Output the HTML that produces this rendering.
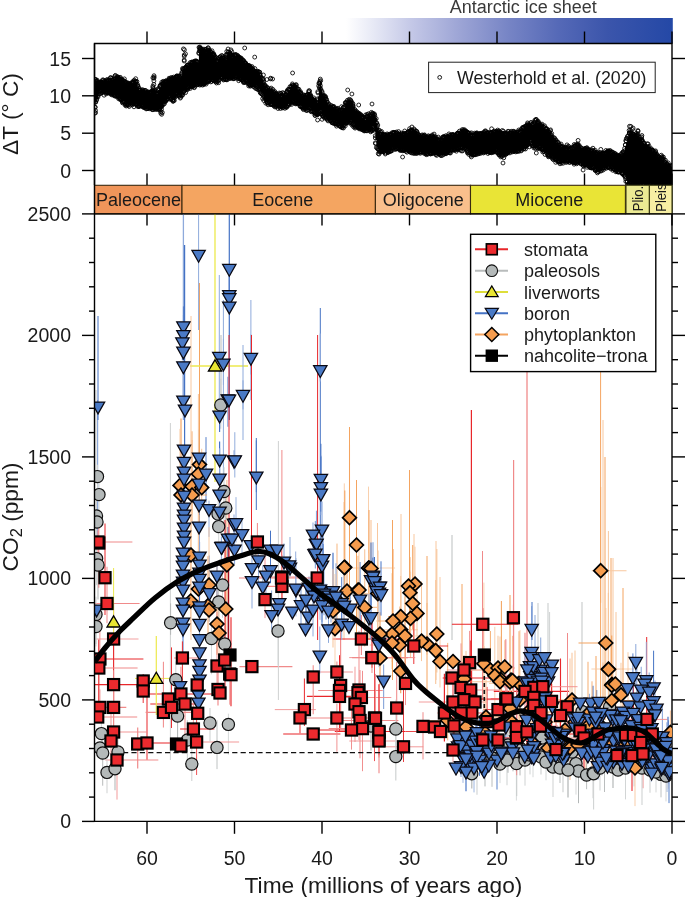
<!DOCTYPE html>
<html><head><meta charset="utf-8"><title>CO2 and temperature over the Cenozoic</title>
<style>html,body{margin:0;padding:0;background:#fff}svg{display:block}</style></head>
<body>
<svg width="685" height="897" viewBox="0 0 685 897" font-family="Liberation Sans, Arial, sans-serif">
<defs><linearGradient id="ice" x1="0" x2="1" y1="0" y2="0"><stop offset="0" stop-color="#ffffff"/><stop offset="0.08" stop-color="#e8eaf6"/><stop offset="0.2" stop-color="#c4c8e7"/><stop offset="0.35" stop-color="#9ca4d5"/><stop offset="0.5" stop-color="#7684c5"/><stop offset="0.65" stop-color="#5569b7"/><stop offset="0.8" stop-color="#3b55ab"/><stop offset="1" stop-color="#2448a6"/></linearGradient><clipPath id="cm"><rect x="94.5" y="213.9" width="577.5" height="607.5"/></clipPath><clipPath id="ct"><rect x="94.5" y="43.5" width="577.5" height="141.5"/></clipPath><clipPath id="cp"><rect x="649.4" y="185" width="22.6" height="28"/></clipPath></defs>
<rect width="685" height="897" fill="#fff"/>
<rect x="346" y="18" width="326.8" height="25.5" fill="url(#ice)"/>
<text x="523.3" y="12.7" font-size="18" text-anchor="middle" fill="#3a3a3a">Antarctic ice sheet</text>
<g clip-path="url(#ct)">
<polygon fill="#000" points="94.5,81.2 95.7,81.2 95.7,81.0 96.9,81.0 96.9,81.5 98.1,81.5 98.1,81.1 99.3,81.1 99.3,81.4 100.5,81.4 100.5,81.3 101.7,81.3 101.7,82.0 102.9,82.0 102.9,81.1 104.1,81.1 104.1,82.2 105.3,82.2 105.3,81.9 106.5,81.9 106.5,82.7 107.7,82.7 107.7,82.3 108.9,82.3 108.9,80.4 110.1,80.4 110.1,80.7 111.3,80.7 111.3,79.8 112.5,79.8 112.5,80.1 113.7,80.1 113.7,79.1 114.9,79.1 114.9,77.2 116.1,77.2 116.1,78.0 117.3,78.0 117.3,77.4 118.5,77.4 118.5,78.2 119.7,78.2 119.7,79.6 120.9,79.6 120.9,78.8 122.1,78.8 122.1,80.3 123.3,80.3 123.3,81.8 124.5,81.8 124.5,83.4 125.7,83.4 125.7,83.1 126.9,83.1 126.9,83.2 128.1,83.2 128.1,83.1 129.3,83.1 129.3,85.0 130.5,85.0 130.5,85.4 131.7,85.4 131.7,84.3 132.9,84.3 132.9,82.8 134.1,82.8 134.1,82.3 135.3,82.3 135.3,80.2 136.5,80.2 136.5,82.5 137.7,82.5 137.7,87.2 138.9,87.2 138.9,90.9 140.1,90.9 140.1,91.6 141.3,91.6 141.3,90.6 142.5,90.6 142.5,90.7 143.7,90.7 143.7,90.3 144.9,90.3 144.9,90.9 146.1,90.9 146.1,92.1 147.3,92.1 147.3,91.9 148.5,91.9 148.5,93.6 149.7,93.6 149.7,93.5 150.9,93.5 150.9,91.5 152.1,91.5 152.1,91.1 153.3,91.1 153.3,91.8 154.5,91.8 154.5,90.6 155.7,90.6 155.7,91.7 156.9,91.7 156.9,93.5 158.1,93.5 158.1,90.1 159.3,90.1 159.3,88.0 160.5,88.0 160.5,86.4 161.7,86.4 161.7,84.0 162.9,84.0 162.9,83.4 164.1,83.4 164.1,83.1 165.3,83.1 165.3,82.4 166.5,82.4 166.5,80.8 167.7,80.8 167.7,79.7 168.9,79.7 168.9,79.2 170.1,79.2 170.1,79.0 171.3,79.0 171.3,78.7 172.5,78.7 172.5,77.3 173.7,77.3 173.7,76.9 174.9,76.9 174.9,76.1 176.1,76.1 176.1,76.9 177.3,76.9 177.3,76.2 178.5,76.2 178.5,76.7 179.7,76.7 179.7,78.1 180.9,78.1 180.9,76.0 182.1,76.0 182.1,71.1 183.3,71.1 183.3,68.9 184.5,68.9 184.5,68.5 185.7,68.5 185.7,65.7 186.9,65.7 186.9,66.3 188.1,66.3 188.1,65.7 189.3,65.7 189.3,64.9 190.5,64.9 190.5,64.9 191.7,64.9 191.7,62.6 192.9,62.6 192.9,62.0 194.1,62.0 194.1,62.6 195.3,62.6 195.3,61.8 196.5,61.8 196.5,62.6 197.7,62.6 197.7,62.4 198.9,62.4 198.9,51.8 200.1,51.8 200.1,48.4 201.3,48.4 201.3,49.5 202.5,49.5 202.5,49.5 203.7,49.5 203.7,50.8 204.9,50.8 204.9,52.5 206.1,52.5 206.1,52.4 207.3,52.4 207.3,52.5 208.5,52.5 208.5,50.7 209.7,50.7 209.7,51.0 210.9,51.0 210.9,53.1 212.1,53.1 212.1,54.8 213.3,54.8 213.3,55.5 214.5,55.5 214.5,56.1 215.7,56.1 215.7,60.5 216.9,60.5 216.9,62.0 218.1,62.0 218.1,59.2 219.3,59.2 219.3,58.1 220.5,58.1 220.5,58.4 221.7,58.4 221.7,57.3 222.9,57.3 222.9,58.4 224.1,58.4 224.1,57.3 225.3,57.3 225.3,59.5 226.5,59.5 226.5,54.5 227.7,54.5 227.7,52.6 228.9,52.6 228.9,53.0 230.1,53.0 230.1,54.4 231.3,54.4 231.3,58.3 232.5,58.3 232.5,56.8 233.7,56.8 233.7,56.2 234.9,56.2 234.9,56.7 236.1,56.7 236.1,55.2 237.3,55.2 237.3,55.8 238.5,55.8 238.5,56.5 239.7,56.5 239.7,56.8 240.9,56.8 240.9,57.9 242.1,57.9 242.1,59.6 243.3,59.6 243.3,60.8 244.5,60.8 244.5,62.6 245.7,62.6 245.7,64.3 246.9,64.3 246.9,65.0 248.1,65.0 248.1,64.8 249.3,64.8 249.3,66.0 250.5,66.0 250.5,68.1 251.7,68.1 251.7,68.4 252.9,68.4 252.9,70.1 254.1,70.1 254.1,70.3 255.3,70.3 255.3,71.4 256.5,71.4 256.5,73.1 257.7,73.1 257.7,73.0 258.9,73.0 258.9,74.3 260.1,74.3 260.1,75.5 261.3,75.5 261.3,77.4 262.5,77.4 262.5,80.0 263.7,80.0 263.7,83.8 264.9,83.8 264.9,87.0 266.1,87.0 266.1,88.7 267.3,88.7 267.3,89.0 268.5,89.0 268.5,90.8 269.7,90.8 269.7,89.9 270.9,89.9 270.9,90.4 272.1,90.4 272.1,91.0 273.3,91.0 273.3,93.3 274.5,93.3 274.5,92.4 275.7,92.4 275.7,94.2 276.9,94.2 276.9,95.4 278.1,95.4 278.1,94.4 279.3,94.4 279.3,95.4 280.5,95.4 280.5,97.3 281.7,97.3 281.7,94.9 282.9,94.9 282.9,95.3 284.1,95.3 284.1,94.1 285.3,94.1 285.3,94.9 286.5,94.9 286.5,93.9 287.7,93.9 287.7,90.9 288.9,90.9 288.9,90.7 290.1,90.7 290.1,87.7 291.3,87.7 291.3,87.8 292.5,87.8 292.5,85.2 293.7,85.2 293.7,85.4 294.9,85.4 294.9,86.3 296.1,86.3 296.1,87.1 297.3,87.1 297.3,89.5 298.5,89.5 298.5,89.9 299.7,89.9 299.7,92.9 300.9,92.9 300.9,93.7 302.1,93.7 302.1,95.9 303.3,95.9 303.3,95.3 304.5,95.3 304.5,97.4 305.7,97.4 305.7,96.0 306.9,96.0 306.9,94.0 308.1,94.0 308.1,93.0 309.3,93.0 309.3,92.7 310.5,92.7 310.5,94.4 311.7,94.4 311.7,97.4 312.9,97.4 312.9,98.4 314.1,98.4 314.1,99.0 315.3,99.0 315.3,100.5 316.5,100.5 316.5,102.4 317.7,102.4 317.7,96.3 318.9,96.3 318.9,87.5 320.1,87.5 320.1,81.5 321.3,81.5 321.3,90.6 322.5,90.6 322.5,94.2 323.7,94.2 323.7,96.9 324.9,96.9 324.9,98.6 326.1,98.6 326.1,100.6 327.3,100.6 327.3,103.1 328.5,103.1 328.5,106.6 329.7,106.6 329.7,106.4 330.9,106.4 330.9,107.7 332.1,107.7 332.1,107.4 333.3,107.4 333.3,107.0 334.5,107.0 334.5,107.9 335.7,107.9 335.7,109.1 336.9,109.1 336.9,109.5 338.1,109.5 338.1,111.7 339.3,111.7 339.3,110.3 340.5,110.3 340.5,110.3 341.7,110.3 341.7,110.0 342.9,110.0 342.9,108.4 344.1,108.4 344.1,108.0 345.3,108.0 345.3,104.2 346.5,104.2 346.5,102.8 347.7,102.8 347.7,101.2 348.9,101.2 348.9,101.6 350.1,101.6 350.1,100.1 351.3,100.1 351.3,101.3 352.5,101.3 352.5,104.3 353.7,104.3 353.7,106.9 354.9,106.9 354.9,110.3 356.1,110.3 356.1,112.1 357.3,112.1 357.3,113.7 358.5,113.7 358.5,114.7 359.7,114.7 359.7,114.9 360.9,114.9 360.9,117.3 362.1,117.3 362.1,117.5 363.3,117.5 363.3,116.8 364.5,116.8 364.5,119.8 365.7,119.8 365.7,118.7 366.9,118.7 366.9,116.5 368.1,116.5 368.1,116.6 369.3,116.6 369.3,116.6 370.5,116.6 370.5,115.5 371.7,115.5 371.7,115.1 372.9,115.1 372.9,113.4 374.1,113.4 374.1,114.9 375.3,114.9 375.3,118.1 376.5,118.1 376.5,122.7 377.7,122.7 377.7,127.8 378.9,127.8 378.9,132.3 380.1,132.3 380.1,134.8 381.3,134.8 381.3,134.9 382.5,134.9 382.5,136.1 383.7,136.1 383.7,136.9 384.9,136.9 384.9,135.0 386.1,135.0 386.1,136.3 387.3,136.3 387.3,136.0 388.5,136.0 388.5,135.1 389.7,135.1 389.7,134.8 390.9,134.8 390.9,135.1 392.1,135.1 392.1,134.4 393.3,134.4 393.3,132.8 394.5,132.8 394.5,134.3 395.7,134.3 395.7,134.1 396.9,134.1 396.9,133.2 398.1,133.2 398.1,135.0 399.3,135.0 399.3,135.2 400.5,135.2 400.5,134.9 401.7,134.9 401.7,134.8 402.9,134.8 402.9,135.8 404.1,135.8 404.1,136.0 405.3,136.0 405.3,133.7 406.5,133.7 406.5,134.9 407.7,134.9 407.7,133.1 408.9,133.1 408.9,131.7 410.1,131.7 410.1,130.8 411.3,130.8 411.3,129.7 412.5,129.7 412.5,131.9 413.7,131.9 413.7,131.8 414.9,131.8 414.9,132.1 416.1,132.1 416.1,131.3 417.3,131.3 417.3,133.7 418.5,133.7 418.5,134.4 419.7,134.4 419.7,137.3 420.9,137.3 420.9,136.6 422.1,136.6 422.1,136.4 423.3,136.4 423.3,135.0 424.5,135.0 424.5,136.4 425.7,136.4 425.7,137.3 426.9,137.3 426.9,137.8 428.1,137.8 428.1,137.2 429.3,137.2 429.3,138.9 430.5,138.9 430.5,137.0 431.7,137.0 431.7,136.4 432.9,136.4 432.9,135.5 434.1,135.5 434.1,136.8 435.3,136.8 435.3,137.9 436.5,137.9 436.5,139.7 437.7,139.7 437.7,140.5 438.9,140.5 438.9,141.6 440.1,141.6 440.1,140.8 441.3,140.8 441.3,140.8 442.5,140.8 442.5,139.4 443.7,139.4 443.7,138.6 444.9,138.6 444.9,138.1 446.1,138.1 446.1,136.7 447.3,136.7 447.3,137.9 448.5,137.9 448.5,136.5 449.7,136.5 449.7,135.8 450.9,135.8 450.9,137.2 452.1,137.2 452.1,136.2 453.3,136.2 453.3,135.7 454.5,135.7 454.5,134.5 455.7,134.5 455.7,134.3 456.9,134.3 456.9,134.7 458.1,134.7 458.1,135.3 459.3,135.3 459.3,133.6 460.5,133.6 460.5,132.4 461.7,132.4 461.7,132.2 462.9,132.2 462.9,131.4 464.1,131.4 464.1,131.6 465.3,131.6 465.3,132.1 466.5,132.1 466.5,132.1 467.7,132.1 467.7,132.9 468.9,132.9 468.9,133.0 470.1,133.0 470.1,136.1 471.3,136.1 471.3,135.3 472.5,135.3 472.5,136.0 473.7,136.0 473.7,134.4 474.9,134.4 474.9,134.6 476.1,134.6 476.1,135.7 477.3,135.7 477.3,135.4 478.5,135.4 478.5,133.3 479.7,133.3 479.7,135.3 480.9,135.3 480.9,134.4 482.1,134.4 482.1,133.9 483.3,133.9 483.3,134.8 484.5,134.8 484.5,135.0 485.7,135.0 485.7,132.8 486.9,132.8 486.9,133.7 488.1,133.7 488.1,134.5 489.3,134.5 489.3,133.7 490.5,133.7 490.5,133.0 491.7,133.0 491.7,131.7 492.9,131.7 492.9,131.9 494.1,131.9 494.1,132.6 495.3,132.6 495.3,131.1 496.5,131.1 496.5,132.0 497.7,132.0 497.7,131.0 498.9,131.0 498.9,132.4 500.1,132.4 500.1,132.6 501.3,132.6 501.3,133.5 502.5,133.5 502.5,133.0 503.7,133.0 503.7,134.8 504.9,134.8 504.9,134.8 506.1,134.8 506.1,133.3 507.3,133.3 507.3,134.9 508.5,134.9 508.5,133.2 509.7,133.2 509.7,133.5 510.9,133.5 510.9,133.2 512.1,133.2 512.1,133.7 513.3,133.7 513.3,132.6 514.5,132.6 514.5,132.9 515.7,132.9 515.7,133.7 516.9,133.7 516.9,134.0 518.1,134.0 518.1,132.8 519.3,132.8 519.3,133.1 520.5,133.1 520.5,132.0 521.7,132.0 521.7,129.7 522.9,129.7 522.9,128.7 524.1,128.7 524.1,128.0 525.3,128.0 525.3,126.2 526.5,126.2 526.5,126.1 527.7,126.1 527.7,123.8 528.9,123.8 528.9,124.5 530.1,124.5 530.1,124.7 531.3,124.7 531.3,124.2 532.5,124.2 532.5,125.8 533.7,125.8 533.7,124.6 534.9,124.6 534.9,122.7 536.1,122.7 536.1,119.5 537.3,119.5 537.3,122.4 538.5,122.4 538.5,123.8 539.7,123.8 539.7,124.6 540.9,124.6 540.9,125.3 542.1,125.3 542.1,126.4 543.3,126.4 543.3,128.8 544.5,128.8 544.5,129.6 545.7,129.6 545.7,129.1 546.9,129.1 546.9,131.1 548.1,131.1 548.1,130.2 549.3,130.2 549.3,131.9 550.5,131.9 550.5,132.4 551.7,132.4 551.7,136.1 552.9,136.1 552.9,136.9 554.1,136.9 554.1,139.8 555.3,139.8 555.3,139.9 556.5,139.9 556.5,143.6 557.7,143.6 557.7,144.8 558.9,144.8 558.9,145.4 560.1,145.4 560.1,147.7 561.3,147.7 561.3,146.7 562.5,146.7 562.5,147.4 563.7,147.4 563.7,147.3 564.9,147.3 564.9,150.0 566.1,150.0 566.1,150.1 567.3,150.1 567.3,148.2 568.5,148.2 568.5,149.9 569.7,149.9 569.7,148.4 570.9,148.4 570.9,148.4 572.1,148.4 572.1,149.4 573.3,149.4 573.3,148.6 574.5,148.6 574.5,148.1 575.7,148.1 575.7,146.9 576.9,146.9 576.9,145.6 578.1,145.6 578.1,146.1 579.3,146.1 579.3,146.0 580.5,146.0 580.5,147.5 581.7,147.5 581.7,148.4 582.9,148.4 582.9,150.1 584.1,150.1 584.1,151.0 585.3,151.0 585.3,149.1 586.5,149.1 586.5,148.3 587.7,148.3 587.7,150.0 588.9,150.0 588.9,149.4 590.1,149.4 590.1,150.9 591.3,150.9 591.3,151.8 592.5,151.8 592.5,152.2 593.7,152.2 593.7,153.3 594.9,153.3 594.9,153.2 596.1,153.2 596.1,154.2 597.3,154.2 597.3,153.6 598.5,153.6 598.5,154.0 599.7,154.0 599.7,154.7 600.9,154.7 600.9,153.9 602.1,153.9 602.1,153.8 603.3,153.8 603.3,154.2 604.5,154.2 604.5,154.3 605.7,154.3 605.7,152.7 606.9,152.7 606.9,153.3 608.1,153.3 608.1,151.1 609.3,151.1 609.3,151.3 610.5,151.3 610.5,154.0 611.7,154.0 611.7,154.5 612.9,154.5 612.9,154.9 614.1,154.9 614.1,154.0 615.3,154.0 615.3,156.1 616.5,156.1 616.5,155.6 617.7,155.6 617.7,155.0 618.9,155.0 618.9,155.1 620.1,155.1 620.1,155.7 621.3,155.7 621.3,155.8 622.5,155.8 622.5,152.7 623.7,152.7 623.7,152.1 624.9,152.1 624.9,145.8 626.1,145.8 626.1,142.2 627.3,142.2 627.3,136.3 628.5,136.3 628.5,134.6 629.7,134.6 629.7,133.5 630.9,133.5 630.9,132.9 632.1,132.9 632.1,133.9 633.3,133.9 633.3,134.1 634.5,134.1 634.5,134.6 635.7,134.6 635.7,135.1 636.9,135.1 636.9,137.4 638.1,137.4 638.1,137.4 639.3,137.4 639.3,139.4 640.5,139.4 640.5,139.0 641.7,139.0 641.7,141.5 642.9,141.5 642.9,142.9 644.1,142.9 644.1,144.4 645.3,144.4 645.3,144.7 646.5,144.7 646.5,147.4 647.7,147.4 647.7,147.3 648.9,147.3 648.9,149.2 650.1,149.2 650.1,149.8 651.3,149.8 651.3,151.6 652.5,151.6 652.5,151.4 653.7,151.4 653.7,153.9 654.9,153.9 654.9,153.3 656.1,153.3 656.1,156.2 657.3,156.2 657.3,156.1 658.5,156.1 658.5,158.3 659.7,158.3 659.7,159.3 660.9,159.3 660.9,160.1 662.1,160.1 662.1,161.0 663.3,161.0 663.3,161.0 664.5,161.0 664.5,163.0 665.7,163.0 665.7,162.6 666.9,162.6 666.9,164.5 668.1,164.5 668.1,164.8 669.3,164.8 669.3,167.4 670.5,167.4 670.5,166.2 671.7,166.2 671.7,167.4 672.9,167.4 672.9,182.3 671.7,182.3 671.7,183.5 670.5,183.5 670.5,184.4 669.3,184.4 669.3,182.8 668.1,182.8 668.1,183.1 666.9,183.1 666.9,183.2 665.7,183.2 665.7,182.6 664.5,182.6 664.5,184.2 663.3,184.2 663.3,182.7 662.1,182.7 662.1,182.6 660.9,182.6 660.9,183.7 659.7,183.7 659.7,183.1 658.5,183.1 658.5,182.3 657.3,182.3 657.3,184.5 656.1,184.5 656.1,182.5 654.9,182.5 654.9,184.5 653.7,184.5 653.7,183.4 652.5,183.4 652.5,184.4 651.3,184.4 651.3,182.9 650.1,182.9 650.1,183.4 648.9,183.4 648.9,183.7 647.7,183.7 647.7,184.4 646.5,184.4 646.5,183.5 645.3,183.5 645.3,182.6 644.1,182.6 644.1,184.3 642.9,184.3 642.9,184.2 641.7,184.2 641.7,184.4 640.5,184.4 640.5,182.7 639.3,182.7 639.3,182.7 638.1,182.7 638.1,184.6 636.9,184.6 636.9,183.2 635.7,183.2 635.7,183.6 634.5,183.6 634.5,184.5 633.3,184.5 633.3,182.9 632.1,182.9 632.1,183.9 630.9,183.9 630.9,182.4 629.7,182.4 629.7,183.5 628.5,183.5 628.5,181.8 627.3,181.8 627.3,179.3 626.1,179.3 626.1,175.5 624.9,175.5 624.9,173.0 623.7,173.0 623.7,172.4 622.5,172.4 622.5,171.4 621.3,171.4 621.3,171.6 620.1,171.6 620.1,170.1 618.9,170.1 618.9,169.9 617.7,169.9 617.7,169.9 616.5,169.9 616.5,168.1 615.3,168.1 615.3,169.1 614.1,169.1 614.1,167.7 612.9,167.7 612.9,166.9 611.7,166.9 611.7,166.8 610.5,166.8 610.5,165.3 609.3,165.3 609.3,165.5 608.1,165.5 608.1,167.3 606.9,167.3 606.9,167.4 605.7,167.4 605.7,166.0 604.5,166.0 604.5,167.6 603.3,167.6 603.3,167.2 602.1,167.2 602.1,169.9 600.9,169.9 600.9,169.1 599.7,169.1 599.7,171.1 598.5,171.1 598.5,168.9 597.3,168.9 597.3,168.2 596.1,168.2 596.1,168.0 594.9,168.0 594.9,167.3 593.7,167.3 593.7,166.3 592.5,166.3 592.5,167.7 591.3,167.7 591.3,167.0 590.1,167.0 590.1,166.1 588.9,166.1 588.9,165.9 587.7,165.9 587.7,165.5 586.5,165.5 586.5,163.7 585.3,163.7 585.3,165.1 584.1,165.1 584.1,164.3 582.9,164.3 582.9,162.7 581.7,162.7 581.7,161.1 580.5,161.1 580.5,162.4 579.3,162.4 579.3,160.4 578.1,160.4 578.1,161.1 576.9,161.1 576.9,161.0 575.7,161.0 575.7,162.1 574.5,162.1 574.5,162.0 573.3,162.0 573.3,160.6 572.1,160.6 572.1,161.1 570.9,161.1 570.9,160.3 569.7,160.3 569.7,161.8 568.5,161.8 568.5,160.4 567.3,160.4 567.3,159.1 566.1,159.1 566.1,160.3 564.9,160.3 564.9,160.9 563.7,160.9 563.7,160.1 562.5,160.1 562.5,161.4 561.3,161.4 561.3,161.5 560.1,161.5 560.1,160.6 558.9,160.6 558.9,161.3 557.7,161.3 557.7,159.0 556.5,159.0 556.5,157.7 555.3,157.7 555.3,156.9 554.1,156.9 554.1,157.9 552.9,157.9 552.9,155.3 551.7,155.3 551.7,155.3 550.5,155.3 550.5,155.8 549.3,155.8 549.3,153.8 548.1,153.8 548.1,152.8 546.9,152.8 546.9,152.8 545.7,152.8 545.7,150.4 544.5,150.4 544.5,149.0 543.3,149.0 543.3,148.3 542.1,148.3 542.1,146.3 540.9,146.3 540.9,146.2 539.7,146.2 539.7,146.0 538.5,146.0 538.5,144.8 537.3,144.8 537.3,146.5 536.1,146.5 536.1,145.6 534.9,145.6 534.9,148.0 533.7,148.0 533.7,146.3 532.5,146.3 532.5,143.0 531.3,143.0 531.3,140.1 530.1,140.1 530.1,144.2 528.9,144.2 528.9,145.0 527.7,145.0 527.7,147.0 526.5,147.0 526.5,146.4 525.3,146.4 525.3,146.5 524.1,146.5 524.1,148.9 522.9,148.9 522.9,149.1 521.7,149.1 521.7,148.2 520.5,148.2 520.5,148.9 519.3,148.9 519.3,149.0 518.1,149.0 518.1,150.6 516.9,150.6 516.9,149.3 515.7,149.3 515.7,149.8 514.5,149.8 514.5,148.9 513.3,148.9 513.3,151.0 512.1,151.0 512.1,149.9 510.9,149.9 510.9,151.8 509.7,151.8 509.7,151.1 508.5,151.1 508.5,153.7 507.3,153.7 507.3,153.5 506.1,153.5 506.1,154.6 504.9,154.6 504.9,155.4 503.7,155.4 503.7,155.3 502.5,155.3 502.5,154.6 501.3,154.6 501.3,153.6 500.1,153.6 500.1,152.8 498.9,152.8 498.9,150.0 497.7,150.0 497.7,150.6 496.5,150.6 496.5,149.7 495.3,149.7 495.3,150.1 494.1,150.1 494.1,151.8 492.9,151.8 492.9,151.7 491.7,151.7 491.7,151.4 490.5,151.4 490.5,152.0 489.3,152.0 489.3,151.6 488.1,151.6 488.1,151.2 486.9,151.2 486.9,149.6 485.7,149.6 485.7,149.6 484.5,149.6 484.5,151.1 483.3,151.1 483.3,151.7 482.1,151.7 482.1,150.0 480.9,150.0 480.9,151.6 479.7,151.6 479.7,152.6 478.5,152.6 478.5,151.4 477.3,151.4 477.3,153.8 476.1,153.8 476.1,153.2 474.9,153.2 474.9,153.0 473.7,153.0 473.7,153.3 472.5,153.3 472.5,154.6 471.3,154.6 471.3,152.7 470.1,152.7 470.1,151.6 468.9,151.6 468.9,150.2 467.7,150.2 467.7,149.2 466.5,149.2 466.5,147.4 465.3,147.4 465.3,148.1 464.1,148.1 464.1,146.8 462.9,146.8 462.9,146.6 461.7,146.6 461.7,146.8 460.5,146.8 460.5,147.2 459.3,147.2 459.3,149.5 458.1,149.5 458.1,147.9 456.9,147.9 456.9,149.8 455.7,149.8 455.7,148.2 454.5,148.2 454.5,149.1 453.3,149.1 453.3,149.1 452.1,149.1 452.1,149.3 450.9,149.3 450.9,150.8 449.7,150.8 449.7,150.5 448.5,150.5 448.5,150.6 447.3,150.6 447.3,151.0 446.1,151.0 446.1,153.0 444.9,153.0 444.9,152.8 443.7,152.8 443.7,151.8 442.5,151.8 442.5,153.0 441.3,153.0 441.3,153.9 440.1,153.9 440.1,153.7 438.9,153.7 438.9,154.2 437.7,154.2 437.7,152.4 436.5,152.4 436.5,152.5 435.3,152.5 435.3,154.1 434.1,154.1 434.1,153.9 432.9,153.9 432.9,152.0 431.7,152.0 431.7,152.9 430.5,152.9 430.5,153.3 429.3,153.3 429.3,152.6 428.1,152.6 428.1,151.9 426.9,151.9 426.9,152.5 425.7,152.5 425.7,150.7 424.5,150.7 424.5,152.2 423.3,152.2 423.3,152.4 422.1,152.4 422.1,151.2 420.9,151.2 420.9,151.1 419.7,151.1 419.7,151.6 418.5,151.6 418.5,150.5 417.3,150.5 417.3,152.6 416.1,152.6 416.1,152.1 414.9,152.1 414.9,151.6 413.7,151.6 413.7,150.7 412.5,150.7 412.5,151.7 411.3,151.7 411.3,151.5 410.1,151.5 410.1,152.1 408.9,152.1 408.9,150.2 407.7,150.2 407.7,151.6 406.5,151.6 406.5,150.1 405.3,150.1 405.3,150.9 404.1,150.9 404.1,148.8 402.9,148.8 402.9,148.3 401.7,148.3 401.7,148.8 400.5,148.8 400.5,148.1 399.3,148.1 399.3,148.8 398.1,148.8 398.1,147.5 396.9,147.5 396.9,146.6 395.7,146.6 395.7,147.0 394.5,147.0 394.5,147.0 393.3,147.0 393.3,147.4 392.1,147.4 392.1,149.5 390.9,149.5 390.9,150.4 389.7,150.4 389.7,150.1 388.5,150.1 388.5,151.8 387.3,151.8 387.3,150.3 386.1,150.3 386.1,150.7 384.9,150.7 384.9,151.0 383.7,151.0 383.7,150.6 382.5,150.6 382.5,151.7 381.3,151.7 381.3,152.2 380.1,152.2 380.1,149.8 378.9,149.8 378.9,149.0 377.7,149.0 377.7,146.5 376.5,146.5 376.5,140.1 375.3,140.1 375.3,131.1 374.1,131.1 374.1,126.0 372.9,126.0 372.9,128.4 371.7,128.4 371.7,129.7 370.5,129.7 370.5,130.3 369.3,130.3 369.3,130.5 368.1,130.5 368.1,129.8 366.9,129.8 366.9,130.4 365.7,130.4 365.7,130.0 364.5,130.0 364.5,129.9 363.3,129.9 363.3,128.8 362.1,128.8 362.1,127.0 360.9,127.0 360.9,126.8 359.7,126.8 359.7,127.6 358.5,127.6 358.5,126.9 357.3,126.9 357.3,126.3 356.1,126.3 356.1,125.4 354.9,125.4 354.9,123.3 353.7,123.3 353.7,122.6 352.5,122.6 352.5,120.7 351.3,120.7 351.3,120.3 350.1,120.3 350.1,120.7 348.9,120.7 348.9,120.8 347.7,120.8 347.7,121.1 346.5,121.1 346.5,123.8 345.3,123.8 345.3,124.4 344.1,124.4 344.1,127.0 342.9,127.0 342.9,127.2 341.7,127.2 341.7,126.0 340.5,126.0 340.5,124.3 339.3,124.3 339.3,124.2 338.1,124.2 338.1,123.7 336.9,123.7 336.9,121.7 335.7,121.7 335.7,122.7 334.5,122.7 334.5,120.8 333.3,120.8 333.3,120.6 332.1,120.6 332.1,120.5 330.9,120.5 330.9,120.2 329.7,120.2 329.7,119.8 328.5,119.8 328.5,117.9 327.3,117.9 327.3,117.9 326.1,117.9 326.1,116.1 324.9,116.1 324.9,114.8 323.7,114.8 323.7,115.4 322.5,115.4 322.5,114.2 321.3,114.2 321.3,110.6 320.1,110.6 320.1,111.2 318.9,111.2 318.9,112.8 317.7,112.8 317.7,113.6 316.5,113.6 316.5,112.8 315.3,112.8 315.3,111.7 314.1,111.7 314.1,110.8 312.9,110.8 312.9,109.7 311.7,109.7 311.7,108.0 310.5,108.0 310.5,108.5 309.3,108.5 309.3,106.9 308.1,106.9 308.1,108.6 306.9,108.6 306.9,109.1 305.7,109.1 305.7,108.6 304.5,108.6 304.5,108.2 303.3,108.2 303.3,106.2 302.1,106.2 302.1,104.5 300.9,104.5 300.9,104.9 299.7,104.9 299.7,104.2 298.5,104.2 298.5,101.4 297.3,101.4 297.3,102.2 296.1,102.2 296.1,100.3 294.9,100.3 294.9,101.9 293.7,101.9 293.7,100.6 292.5,100.6 292.5,102.9 291.3,102.9 291.3,103.9 290.1,103.9 290.1,103.7 288.9,103.7 288.9,104.1 287.7,104.1 287.7,105.3 286.5,105.3 286.5,104.7 285.3,104.7 285.3,105.7 284.1,105.7 284.1,106.0 282.9,106.0 282.9,106.5 281.7,106.5 281.7,107.8 280.5,107.8 280.5,106.4 279.3,106.4 279.3,106.9 278.1,106.9 278.1,106.4 276.9,106.4 276.9,103.8 275.7,103.8 275.7,104.6 274.5,104.6 274.5,104.7 273.3,104.7 273.3,103.9 272.1,103.9 272.1,102.6 270.9,102.6 270.9,102.8 269.7,102.8 269.7,101.6 268.5,101.6 268.5,102.7 267.3,102.7 267.3,100.3 266.1,100.3 266.1,100.9 264.9,100.9 264.9,98.9 263.7,98.9 263.7,94.8 262.5,94.8 262.5,92.7 261.3,92.7 261.3,90.2 260.1,90.2 260.1,88.2 258.9,88.2 258.9,88.2 257.7,88.2 257.7,86.8 256.5,86.8 256.5,85.5 255.3,85.5 255.3,85.5 254.1,85.5 254.1,85.7 252.9,85.7 252.9,84.6 251.7,84.6 251.7,84.3 250.5,84.3 250.5,83.4 249.3,83.4 249.3,83.3 248.1,83.3 248.1,81.0 246.9,81.0 246.9,79.9 245.7,79.9 245.7,80.3 244.5,80.3 244.5,80.5 243.3,80.5 243.3,79.7 242.1,79.7 242.1,78.0 240.9,78.0 240.9,78.6 239.7,78.6 239.7,77.0 238.5,77.0 238.5,76.9 237.3,76.9 237.3,75.8 236.1,75.8 236.1,75.6 234.9,75.6 234.9,77.6 233.7,77.6 233.7,78.1 232.5,78.1 232.5,77.8 231.3,77.8 231.3,76.5 230.1,76.5 230.1,78.1 228.9,78.1 228.9,78.7 227.7,78.7 227.7,79.5 226.5,79.5 226.5,79.6 225.3,79.6 225.3,77.6 224.1,77.6 224.1,77.1 222.9,77.1 222.9,78.4 221.7,78.4 221.7,76.6 220.5,76.6 220.5,78.8 219.3,78.8 219.3,80.2 218.1,80.2 218.1,80.9 216.9,80.9 216.9,81.4 215.7,81.4 215.7,80.4 214.5,80.4 214.5,80.4 213.3,80.4 213.3,79.7 212.1,79.7 212.1,80.7 210.9,80.7 210.9,79.0 209.7,79.0 209.7,79.7 208.5,79.7 208.5,81.0 207.3,81.0 207.3,83.4 206.1,83.4 206.1,83.0 204.9,83.0 204.9,84.5 203.7,84.5 203.7,83.2 202.5,83.2 202.5,82.2 201.3,82.2 201.3,83.0 200.1,83.0 200.1,83.3 198.9,83.3 198.9,83.4 197.7,83.4 197.7,84.5 196.5,84.5 196.5,83.3 195.3,83.3 195.3,85.2 194.1,85.2 194.1,85.8 192.9,85.8 192.9,85.4 191.7,85.4 191.7,86.5 190.5,86.5 190.5,87.6 189.3,87.6 189.3,85.7 188.1,85.7 188.1,86.8 186.9,86.8 186.9,90.0 185.7,90.0 185.7,89.4 184.5,89.4 184.5,91.3 183.3,91.3 183.3,92.8 182.1,92.8 182.1,95.7 180.9,95.7 180.9,97.2 179.7,97.2 179.7,94.4 178.5,94.4 178.5,94.4 177.3,94.4 177.3,93.3 176.1,93.3 176.1,98.0 174.9,98.0 174.9,99.8 173.7,99.8 173.7,99.9 172.5,99.9 172.5,98.4 171.3,98.4 171.3,97.5 170.1,97.5 170.1,96.1 168.9,96.1 168.9,98.4 167.7,98.4 167.7,99.1 166.5,99.1 166.5,101.3 165.3,101.3 165.3,102.9 164.1,102.9 164.1,103.5 162.9,103.5 162.9,107.2 161.7,107.2 161.7,109.1 160.5,109.1 160.5,108.6 159.3,108.6 159.3,108.0 158.1,108.0 158.1,107.5 156.9,107.5 156.9,108.2 155.7,108.2 155.7,107.9 154.5,107.9 154.5,107.8 153.3,107.8 153.3,109.2 152.1,109.2 152.1,107.8 150.9,107.8 150.9,108.5 149.7,108.5 149.7,108.2 148.5,108.2 148.5,107.0 147.3,107.0 147.3,107.7 146.1,107.7 146.1,106.0 144.9,106.0 144.9,107.0 143.7,107.0 143.7,105.0 142.5,105.0 142.5,105.5 141.3,105.5 141.3,105.7 140.1,105.7 140.1,104.3 138.9,104.3 138.9,105.6 137.7,105.6 137.7,104.5 136.5,104.5 136.5,104.0 135.3,104.0 135.3,104.5 134.1,104.5 134.1,103.1 132.9,103.1 132.9,103.3 131.7,103.3 131.7,102.6 130.5,102.6 130.5,103.6 129.3,103.6 129.3,104.3 128.1,104.3 128.1,104.2 126.9,104.2 126.9,104.3 125.7,104.3 125.7,101.8 124.5,101.8 124.5,101.1 123.3,101.1 123.3,101.5 122.1,101.5 122.1,99.7 120.9,99.7 120.9,99.0 119.7,99.0 119.7,97.0 118.5,97.0 118.5,96.7 117.3,96.7 117.3,95.3 116.1,95.3 116.1,94.2 114.9,94.2 114.9,93.3 113.7,93.3 113.7,93.4 112.5,93.4 112.5,93.3 111.3,93.3 111.3,93.4 110.1,93.4 110.1,91.4 108.9,91.4 108.9,91.5 107.7,91.5 107.7,90.6 106.5,90.6 106.5,91.1 105.3,91.1 105.3,92.3 104.1,92.3 104.1,90.5 102.9,90.5 102.9,92.0 101.7,92.0 101.7,90.2 100.5,90.2 100.5,91.0 99.3,91.0 99.3,94.0 98.1,94.0 98.1,98.4 96.9,98.4 96.9,102.4 95.7,102.4 95.7,104.6 94.5,104.6"/>
<g fill="none" stroke="#000" stroke-width="0.85">
<circle cx="95.4" cy="81.3" r="1.95"/>
<circle cx="95.1" cy="107.2" r="1.95"/>
<circle cx="95.2" cy="79.7" r="1.95"/>
<circle cx="95.1" cy="107.3" r="1.95"/>
<circle cx="95.8" cy="79.7" r="1.95"/>
<circle cx="95.8" cy="101.9" r="1.95"/>
<circle cx="95.3" cy="79.4" r="1.95"/>
<circle cx="95.6" cy="102.1" r="1.95"/>
<circle cx="97.1" cy="81.2" r="1.95"/>
<circle cx="96.4" cy="98.2" r="1.95"/>
<circle cx="96.8" cy="81.4" r="1.95"/>
<circle cx="96.7" cy="99.9" r="1.95"/>
<circle cx="97.2" cy="80.2" r="1.95"/>
<circle cx="97.1" cy="96.5" r="1.95"/>
<circle cx="97.9" cy="83.2" r="1.95"/>
<circle cx="98.0" cy="96.9" r="1.95"/>
<circle cx="98.6" cy="83.4" r="1.95"/>
<circle cx="98.5" cy="92.9" r="1.95"/>
<circle cx="99.1" cy="83.6" r="1.95"/>
<circle cx="99.2" cy="94.2" r="1.95"/>
<circle cx="99.8" cy="82.4" r="1.95"/>
<circle cx="100.1" cy="90.9" r="1.95"/>
<circle cx="99.5" cy="84.7" r="1.95"/>
<circle cx="99.1" cy="90.9" r="1.95"/>
<circle cx="100.7" cy="82.4" r="1.95"/>
<circle cx="100.2" cy="91.4" r="1.95"/>
<circle cx="100.7" cy="83.4" r="1.95"/>
<circle cx="100.1" cy="93.7" r="1.95"/>
<circle cx="101.7" cy="82.7" r="1.95"/>
<circle cx="101.8" cy="92.7" r="1.95"/>
<circle cx="100.9" cy="81.7" r="1.95"/>
<circle cx="101.1" cy="93.0" r="1.95"/>
<circle cx="101.6" cy="82.0" r="1.95"/>
<circle cx="102.7" cy="92.2" r="1.95"/>
<circle cx="102.4" cy="82.3" r="1.95"/>
<circle cx="102.5" cy="91.2" r="1.95"/>
<circle cx="102.6" cy="79.9" r="1.95"/>
<circle cx="102.9" cy="91.3" r="1.95"/>
<circle cx="103.5" cy="80.1" r="1.95"/>
<circle cx="103.6" cy="91.1" r="1.95"/>
<circle cx="103.5" cy="83.2" r="1.95"/>
<circle cx="103.9" cy="91.5" r="1.95"/>
<circle cx="104.4" cy="81.1" r="1.95"/>
<circle cx="104.1" cy="95.2" r="1.95"/>
<circle cx="104.7" cy="81.5" r="1.95"/>
<circle cx="104.5" cy="90.4" r="1.95"/>
<circle cx="105.2" cy="83.5" r="1.95"/>
<circle cx="104.6" cy="92.3" r="1.95"/>
<circle cx="106.0" cy="82.8" r="1.95"/>
<circle cx="106.0" cy="91.8" r="1.95"/>
<circle cx="105.6" cy="81.6" r="1.95"/>
<circle cx="105.4" cy="91.9" r="1.95"/>
<circle cx="106.8" cy="79.8" r="1.95"/>
<circle cx="107.2" cy="92.7" r="1.95"/>
<circle cx="106.3" cy="81.4" r="1.95"/>
<circle cx="106.1" cy="93.9" r="1.95"/>
<circle cx="107.0" cy="80.7" r="1.95"/>
<circle cx="107.4" cy="92.8" r="1.95"/>
<circle cx="107.3" cy="79.7" r="1.95"/>
<circle cx="107.2" cy="91.6" r="1.95"/>
<circle cx="108.6" cy="80.3" r="1.95"/>
<circle cx="109.0" cy="92.7" r="1.95"/>
<circle cx="108.2" cy="81.2" r="1.95"/>
<circle cx="108.7" cy="93.0" r="1.95"/>
<circle cx="109.8" cy="81.1" r="1.95"/>
<circle cx="109.1" cy="91.6" r="1.95"/>
<circle cx="108.8" cy="79.9" r="1.95"/>
<circle cx="109.2" cy="91.6" r="1.95"/>
<circle cx="110.5" cy="78.1" r="1.95"/>
<circle cx="110.6" cy="94.1" r="1.95"/>
<circle cx="110.0" cy="81.0" r="1.95"/>
<circle cx="110.3" cy="92.9" r="1.95"/>
<circle cx="111.1" cy="80.2" r="1.95"/>
<circle cx="111.5" cy="93.9" r="1.95"/>
<circle cx="110.6" cy="77.5" r="1.95"/>
<circle cx="110.8" cy="92.6" r="1.95"/>
<circle cx="111.7" cy="78.5" r="1.95"/>
<circle cx="112.3" cy="93.0" r="1.95"/>
<circle cx="112.5" cy="80.1" r="1.95"/>
<circle cx="111.9" cy="94.9" r="1.95"/>
<circle cx="112.5" cy="80.7" r="1.95"/>
<circle cx="113.3" cy="93.0" r="1.95"/>
<circle cx="112.4" cy="80.2" r="1.95"/>
<circle cx="113.0" cy="92.7" r="1.95"/>
<circle cx="114.2" cy="77.7" r="1.95"/>
<circle cx="113.4" cy="95.1" r="1.95"/>
<circle cx="113.6" cy="79.6" r="1.95"/>
<circle cx="114.2" cy="95.1" r="1.95"/>
<circle cx="115.0" cy="79.0" r="1.95"/>
<circle cx="114.5" cy="93.7" r="1.95"/>
<circle cx="114.9" cy="76.0" r="1.95"/>
<circle cx="114.8" cy="96.1" r="1.95"/>
<circle cx="115.4" cy="75.4" r="1.95"/>
<circle cx="115.4" cy="93.3" r="1.95"/>
<circle cx="116.2" cy="78.3" r="1.95"/>
<circle cx="115.4" cy="95.8" r="1.95"/>
<circle cx="116.9" cy="79.0" r="1.95"/>
<circle cx="116.4" cy="95.6" r="1.95"/>
<circle cx="117.1" cy="76.7" r="1.95"/>
<circle cx="117.1" cy="97.0" r="1.95"/>
<circle cx="117.7" cy="76.9" r="1.95"/>
<circle cx="118.1" cy="95.4" r="1.95"/>
<circle cx="117.5" cy="78.5" r="1.95"/>
<circle cx="117.9" cy="95.5" r="1.95"/>
<circle cx="118.3" cy="77.7" r="1.95"/>
<circle cx="118.2" cy="96.3" r="1.95"/>
<circle cx="118.1" cy="77.6" r="1.95"/>
<circle cx="118.9" cy="97.5" r="1.95"/>
<circle cx="118.9" cy="78.9" r="1.95"/>
<circle cx="119.8" cy="98.7" r="1.95"/>
<circle cx="119.1" cy="78.5" r="1.95"/>
<circle cx="118.7" cy="98.8" r="1.95"/>
<circle cx="120.4" cy="77.4" r="1.95"/>
<circle cx="120.5" cy="98.0" r="1.95"/>
<circle cx="119.7" cy="77.7" r="1.95"/>
<circle cx="120.6" cy="98.8" r="1.95"/>
<circle cx="121.5" cy="79.4" r="1.95"/>
<circle cx="121.5" cy="99.9" r="1.95"/>
<circle cx="121.6" cy="79.6" r="1.95"/>
<circle cx="120.7" cy="99.9" r="1.95"/>
<circle cx="121.5" cy="82.0" r="1.95"/>
<circle cx="122.4" cy="101.4" r="1.95"/>
<circle cx="122.2" cy="80.5" r="1.95"/>
<circle cx="121.7" cy="99.4" r="1.95"/>
<circle cx="122.4" cy="82.1" r="1.95"/>
<circle cx="122.5" cy="102.9" r="1.95"/>
<circle cx="122.7" cy="80.3" r="1.95"/>
<circle cx="122.6" cy="101.8" r="1.95"/>
<circle cx="123.5" cy="81.0" r="1.95"/>
<circle cx="123.6" cy="101.3" r="1.95"/>
<circle cx="124.4" cy="78.9" r="1.95"/>
<circle cx="123.9" cy="102.4" r="1.95"/>
<circle cx="124.1" cy="80.9" r="1.95"/>
<circle cx="125.0" cy="103.9" r="1.95"/>
<circle cx="124.5" cy="81.6" r="1.95"/>
<circle cx="124.4" cy="101.8" r="1.95"/>
<circle cx="126.0" cy="84.7" r="1.95"/>
<circle cx="125.2" cy="105.2" r="1.95"/>
<circle cx="125.0" cy="83.4" r="1.95"/>
<circle cx="126.2" cy="106.0" r="1.95"/>
<circle cx="125.9" cy="82.2" r="1.95"/>
<circle cx="126.9" cy="104.9" r="1.95"/>
<circle cx="126.1" cy="82.5" r="1.95"/>
<circle cx="126.9" cy="104.8" r="1.95"/>
<circle cx="127.1" cy="84.6" r="1.95"/>
<circle cx="127.1" cy="104.2" r="1.95"/>
<circle cx="127.6" cy="83.1" r="1.95"/>
<circle cx="127.6" cy="104.5" r="1.95"/>
<circle cx="127.8" cy="84.3" r="1.95"/>
<circle cx="128.6" cy="102.4" r="1.95"/>
<circle cx="128.5" cy="83.1" r="1.95"/>
<circle cx="128.2" cy="105.1" r="1.95"/>
<circle cx="129.7" cy="86.1" r="1.95"/>
<circle cx="128.6" cy="105.2" r="1.95"/>
<circle cx="128.8" cy="83.8" r="1.95"/>
<circle cx="129.2" cy="106.5" r="1.95"/>
<circle cx="130.0" cy="84.7" r="1.95"/>
<circle cx="130.1" cy="103.0" r="1.95"/>
<circle cx="130.1" cy="84.1" r="1.95"/>
<circle cx="130.3" cy="101.6" r="1.95"/>
<circle cx="130.8" cy="83.8" r="1.95"/>
<circle cx="131.4" cy="103.9" r="1.95"/>
<circle cx="131.2" cy="84.1" r="1.95"/>
<circle cx="130.9" cy="102.6" r="1.95"/>
<circle cx="132.2" cy="82.7" r="1.95"/>
<circle cx="131.9" cy="103.2" r="1.95"/>
<circle cx="132.4" cy="83.3" r="1.95"/>
<circle cx="131.7" cy="104.2" r="1.95"/>
<circle cx="133.0" cy="82.7" r="1.95"/>
<circle cx="132.4" cy="103.0" r="1.95"/>
<circle cx="132.5" cy="81.7" r="1.95"/>
<circle cx="132.4" cy="104.9" r="1.95"/>
<circle cx="133.5" cy="82.7" r="1.95"/>
<circle cx="134.0" cy="106.8" r="1.95"/>
<circle cx="133.2" cy="82.0" r="1.95"/>
<circle cx="133.6" cy="103.6" r="1.95"/>
<circle cx="135.2" cy="81.1" r="1.95"/>
<circle cx="134.5" cy="102.0" r="1.95"/>
<circle cx="134.2" cy="80.2" r="1.95"/>
<circle cx="134.2" cy="103.5" r="1.95"/>
<circle cx="135.4" cy="81.6" r="1.95"/>
<circle cx="135.8" cy="104.3" r="1.95"/>
<circle cx="135.7" cy="78.7" r="1.95"/>
<circle cx="135.5" cy="104.1" r="1.95"/>
<circle cx="136.0" cy="81.9" r="1.95"/>
<circle cx="136.7" cy="103.6" r="1.95"/>
<circle cx="136.9" cy="81.5" r="1.95"/>
<circle cx="136.7" cy="105.1" r="1.95"/>
<circle cx="137.2" cy="85.6" r="1.95"/>
<circle cx="137.8" cy="106.6" r="1.95"/>
<circle cx="137.6" cy="84.6" r="1.95"/>
<circle cx="137.5" cy="102.5" r="1.95"/>
<circle cx="138.4" cy="86.8" r="1.95"/>
<circle cx="138.4" cy="105.3" r="1.95"/>
<circle cx="137.7" cy="86.0" r="1.95"/>
<circle cx="138.5" cy="106.0" r="1.95"/>
<circle cx="139.3" cy="90.2" r="1.95"/>
<circle cx="139.0" cy="106.6" r="1.95"/>
<circle cx="139.2" cy="88.7" r="1.95"/>
<circle cx="139.6" cy="106.3" r="1.95"/>
<circle cx="139.6" cy="90.4" r="1.95"/>
<circle cx="139.9" cy="103.9" r="1.95"/>
<circle cx="140.0" cy="91.9" r="1.95"/>
<circle cx="140.1" cy="105.6" r="1.95"/>
<circle cx="140.5" cy="92.0" r="1.95"/>
<circle cx="140.9" cy="103.1" r="1.95"/>
<circle cx="140.4" cy="90.1" r="1.95"/>
<circle cx="141.2" cy="105.2" r="1.95"/>
<circle cx="141.8" cy="89.8" r="1.95"/>
<circle cx="141.8" cy="104.4" r="1.95"/>
<circle cx="141.7" cy="92.0" r="1.95"/>
<circle cx="142.0" cy="105.9" r="1.95"/>
<circle cx="142.6" cy="91.2" r="1.95"/>
<circle cx="143.3" cy="105.8" r="1.95"/>
<circle cx="142.5" cy="92.0" r="1.95"/>
<circle cx="142.6" cy="106.8" r="1.95"/>
<circle cx="143.0" cy="89.9" r="1.95"/>
<circle cx="143.8" cy="107.3" r="1.95"/>
<circle cx="143.4" cy="90.9" r="1.95"/>
<circle cx="143.9" cy="107.5" r="1.95"/>
<circle cx="145.0" cy="90.3" r="1.95"/>
<circle cx="144.9" cy="106.8" r="1.95"/>
<circle cx="144.4" cy="91.3" r="1.95"/>
<circle cx="144.8" cy="107.5" r="1.95"/>
<circle cx="145.8" cy="90.7" r="1.95"/>
<circle cx="145.5" cy="106.1" r="1.95"/>
<circle cx="145.1" cy="92.7" r="1.95"/>
<circle cx="145.6" cy="106.8" r="1.95"/>
<circle cx="146.7" cy="92.6" r="1.95"/>
<circle cx="146.1" cy="106.0" r="1.95"/>
<circle cx="146.4" cy="93.7" r="1.95"/>
<circle cx="146.1" cy="108.9" r="1.95"/>
<circle cx="147.6" cy="92.4" r="1.95"/>
<circle cx="146.9" cy="108.6" r="1.95"/>
<circle cx="147.1" cy="92.5" r="1.95"/>
<circle cx="147.5" cy="107.5" r="1.95"/>
<circle cx="147.8" cy="93.0" r="1.95"/>
<circle cx="148.1" cy="108.7" r="1.95"/>
<circle cx="148.0" cy="91.8" r="1.95"/>
<circle cx="147.9" cy="106.3" r="1.95"/>
<circle cx="149.5" cy="93.0" r="1.95"/>
<circle cx="149.4" cy="107.5" r="1.95"/>
<circle cx="149.5" cy="92.9" r="1.95"/>
<circle cx="149.4" cy="107.2" r="1.95"/>
<circle cx="150.1" cy="92.4" r="1.95"/>
<circle cx="150.4" cy="108.1" r="1.95"/>
<circle cx="150.1" cy="92.2" r="1.95"/>
<circle cx="149.5" cy="108.7" r="1.95"/>
<circle cx="150.5" cy="91.9" r="1.95"/>
<circle cx="150.4" cy="107.3" r="1.95"/>
<circle cx="151.3" cy="91.9" r="1.95"/>
<circle cx="151.3" cy="107.7" r="1.95"/>
<circle cx="151.8" cy="91.6" r="1.95"/>
<circle cx="152.2" cy="106.9" r="1.95"/>
<circle cx="152.0" cy="91.6" r="1.95"/>
<circle cx="151.9" cy="107.9" r="1.95"/>
<circle cx="152.6" cy="90.6" r="1.95"/>
<circle cx="153.1" cy="107.6" r="1.95"/>
<circle cx="152.7" cy="90.6" r="1.95"/>
<circle cx="152.2" cy="109.7" r="1.95"/>
<circle cx="153.5" cy="91.5" r="1.95"/>
<circle cx="153.1" cy="109.6" r="1.95"/>
<circle cx="153.5" cy="88.7" r="1.95"/>
<circle cx="153.9" cy="109.1" r="1.95"/>
<circle cx="153.8" cy="91.6" r="1.95"/>
<circle cx="154.5" cy="107.8" r="1.95"/>
<circle cx="154.6" cy="91.5" r="1.95"/>
<circle cx="154.3" cy="107.9" r="1.95"/>
<circle cx="155.9" cy="93.1" r="1.95"/>
<circle cx="155.5" cy="109.5" r="1.95"/>
<circle cx="154.7" cy="90.2" r="1.95"/>
<circle cx="155.8" cy="107.6" r="1.95"/>
<circle cx="156.0" cy="93.7" r="1.95"/>
<circle cx="156.2" cy="108.4" r="1.95"/>
<circle cx="156.7" cy="94.2" r="1.95"/>
<circle cx="156.4" cy="109.0" r="1.95"/>
<circle cx="156.9" cy="93.8" r="1.95"/>
<circle cx="157.1" cy="107.5" r="1.95"/>
<circle cx="157.1" cy="93.1" r="1.95"/>
<circle cx="157.0" cy="107.6" r="1.95"/>
<circle cx="157.9" cy="89.0" r="1.95"/>
<circle cx="157.8" cy="107.8" r="1.95"/>
<circle cx="158.4" cy="90.0" r="1.95"/>
<circle cx="157.7" cy="109.4" r="1.95"/>
<circle cx="158.9" cy="90.6" r="1.95"/>
<circle cx="159.3" cy="108.5" r="1.95"/>
<circle cx="158.7" cy="88.5" r="1.95"/>
<circle cx="159.0" cy="109.7" r="1.95"/>
<circle cx="160.0" cy="86.7" r="1.95"/>
<circle cx="160.1" cy="108.6" r="1.95"/>
<circle cx="160.3" cy="86.3" r="1.95"/>
<circle cx="159.6" cy="108.8" r="1.95"/>
<circle cx="160.1" cy="85.4" r="1.95"/>
<circle cx="160.8" cy="111.6" r="1.95"/>
<circle cx="160.9" cy="85.1" r="1.95"/>
<circle cx="160.8" cy="106.5" r="1.95"/>
<circle cx="161.7" cy="82.3" r="1.95"/>
<circle cx="161.7" cy="106.2" r="1.95"/>
<circle cx="161.8" cy="84.0" r="1.95"/>
<circle cx="161.5" cy="109.3" r="1.95"/>
<circle cx="162.8" cy="83.5" r="1.95"/>
<circle cx="161.9" cy="106.2" r="1.95"/>
<circle cx="162.8" cy="84.4" r="1.95"/>
<circle cx="162.3" cy="104.8" r="1.95"/>
<circle cx="163.8" cy="82.6" r="1.95"/>
<circle cx="163.1" cy="102.5" r="1.95"/>
<circle cx="163.2" cy="81.3" r="1.95"/>
<circle cx="163.3" cy="104.5" r="1.95"/>
<circle cx="164.5" cy="81.9" r="1.95"/>
<circle cx="164.4" cy="102.0" r="1.95"/>
<circle cx="163.7" cy="83.2" r="1.95"/>
<circle cx="164.4" cy="103.7" r="1.95"/>
<circle cx="165.7" cy="81.0" r="1.95"/>
<circle cx="165.1" cy="101.2" r="1.95"/>
<circle cx="165.3" cy="84.3" r="1.95"/>
<circle cx="165.2" cy="99.8" r="1.95"/>
<circle cx="166.0" cy="82.2" r="1.95"/>
<circle cx="165.8" cy="101.2" r="1.95"/>
<circle cx="165.7" cy="81.0" r="1.95"/>
<circle cx="166.3" cy="100.2" r="1.95"/>
<circle cx="166.5" cy="81.0" r="1.95"/>
<circle cx="167.4" cy="99.1" r="1.95"/>
<circle cx="166.6" cy="82.4" r="1.95"/>
<circle cx="166.7" cy="99.5" r="1.95"/>
<circle cx="168.2" cy="80.4" r="1.95"/>
<circle cx="168.2" cy="98.7" r="1.95"/>
<circle cx="168.2" cy="81.4" r="1.95"/>
<circle cx="167.4" cy="96.8" r="1.95"/>
<circle cx="169.0" cy="79.6" r="1.95"/>
<circle cx="169.3" cy="96.1" r="1.95"/>
<circle cx="168.5" cy="81.8" r="1.95"/>
<circle cx="168.2" cy="97.0" r="1.95"/>
<circle cx="169.1" cy="78.2" r="1.95"/>
<circle cx="169.2" cy="96.5" r="1.95"/>
<circle cx="169.5" cy="79.4" r="1.95"/>
<circle cx="170.1" cy="97.6" r="1.95"/>
<circle cx="170.6" cy="80.1" r="1.95"/>
<circle cx="170.7" cy="99.6" r="1.95"/>
<circle cx="170.5" cy="78.7" r="1.95"/>
<circle cx="171.0" cy="98.6" r="1.95"/>
<circle cx="171.3" cy="77.5" r="1.95"/>
<circle cx="171.4" cy="98.8" r="1.95"/>
<circle cx="171.4" cy="79.2" r="1.95"/>
<circle cx="171.8" cy="97.3" r="1.95"/>
<circle cx="172.5" cy="78.0" r="1.95"/>
<circle cx="173.0" cy="101.4" r="1.95"/>
<circle cx="172.6" cy="78.6" r="1.95"/>
<circle cx="172.5" cy="100.0" r="1.95"/>
<circle cx="173.9" cy="78.4" r="1.95"/>
<circle cx="173.1" cy="100.1" r="1.95"/>
<circle cx="173.2" cy="78.5" r="1.95"/>
<circle cx="173.5" cy="100.8" r="1.95"/>
<circle cx="174.3" cy="78.9" r="1.95"/>
<circle cx="173.9" cy="98.0" r="1.95"/>
<circle cx="173.6" cy="77.1" r="1.95"/>
<circle cx="174.3" cy="100.5" r="1.95"/>
<circle cx="175.5" cy="77.0" r="1.95"/>
<circle cx="175.5" cy="96.8" r="1.95"/>
<circle cx="175.5" cy="77.8" r="1.95"/>
<circle cx="174.8" cy="95.9" r="1.95"/>
<circle cx="176.4" cy="76.9" r="1.95"/>
<circle cx="176.5" cy="93.0" r="1.95"/>
<circle cx="175.8" cy="77.6" r="1.95"/>
<circle cx="176.4" cy="95.5" r="1.95"/>
<circle cx="176.5" cy="76.3" r="1.95"/>
<circle cx="176.6" cy="92.1" r="1.95"/>
<circle cx="177.0" cy="75.8" r="1.95"/>
<circle cx="176.5" cy="93.7" r="1.95"/>
<circle cx="177.5" cy="76.5" r="1.95"/>
<circle cx="177.8" cy="93.3" r="1.95"/>
<circle cx="177.3" cy="77.2" r="1.95"/>
<circle cx="177.5" cy="93.5" r="1.95"/>
<circle cx="178.8" cy="78.7" r="1.95"/>
<circle cx="178.7" cy="94.4" r="1.95"/>
<circle cx="178.7" cy="76.0" r="1.95"/>
<circle cx="178.3" cy="95.4" r="1.95"/>
<circle cx="179.2" cy="76.5" r="1.95"/>
<circle cx="179.7" cy="95.2" r="1.95"/>
<circle cx="179.5" cy="76.2" r="1.95"/>
<circle cx="179.1" cy="96.3" r="1.95"/>
<circle cx="181.1" cy="76.6" r="1.95"/>
<circle cx="180.7" cy="97.2" r="1.95"/>
<circle cx="180.8" cy="77.9" r="1.95"/>
<circle cx="180.3" cy="98.1" r="1.95"/>
<circle cx="181.4" cy="74.3" r="1.95"/>
<circle cx="182.0" cy="95.3" r="1.95"/>
<circle cx="181.8" cy="72.5" r="1.95"/>
<circle cx="181.1" cy="95.4" r="1.95"/>
<circle cx="182.6" cy="68.4" r="1.95"/>
<circle cx="182.6" cy="95.1" r="1.95"/>
<circle cx="182.7" cy="71.9" r="1.95"/>
<circle cx="181.7" cy="93.6" r="1.95"/>
<circle cx="182.8" cy="69.3" r="1.95"/>
<circle cx="182.7" cy="92.9" r="1.95"/>
<circle cx="183.3" cy="70.0" r="1.95"/>
<circle cx="183.7" cy="91.5" r="1.95"/>
<circle cx="184.6" cy="69.3" r="1.95"/>
<circle cx="184.0" cy="91.8" r="1.95"/>
<circle cx="183.6" cy="68.7" r="1.95"/>
<circle cx="184.2" cy="91.0" r="1.95"/>
<circle cx="185.2" cy="68.5" r="1.95"/>
<circle cx="184.9" cy="89.5" r="1.95"/>
<circle cx="184.9" cy="68.4" r="1.95"/>
<circle cx="185.6" cy="92.6" r="1.95"/>
<circle cx="185.6" cy="67.2" r="1.95"/>
<circle cx="185.7" cy="89.3" r="1.95"/>
<circle cx="186.4" cy="68.2" r="1.95"/>
<circle cx="185.4" cy="87.8" r="1.95"/>
<circle cx="187.1" cy="65.5" r="1.95"/>
<circle cx="187.4" cy="86.5" r="1.95"/>
<circle cx="186.3" cy="67.2" r="1.95"/>
<circle cx="187.3" cy="89.7" r="1.95"/>
<circle cx="187.9" cy="65.0" r="1.95"/>
<circle cx="188.0" cy="88.9" r="1.95"/>
<circle cx="187.2" cy="65.1" r="1.95"/>
<circle cx="187.2" cy="88.2" r="1.95"/>
<circle cx="188.6" cy="65.3" r="1.95"/>
<circle cx="188.2" cy="87.8" r="1.95"/>
<circle cx="188.8" cy="66.8" r="1.95"/>
<circle cx="188.2" cy="87.2" r="1.95"/>
<circle cx="188.9" cy="65.0" r="1.95"/>
<circle cx="190.0" cy="86.4" r="1.95"/>
<circle cx="189.9" cy="64.8" r="1.95"/>
<circle cx="189.4" cy="86.4" r="1.95"/>
<circle cx="189.9" cy="65.7" r="1.95"/>
<circle cx="190.6" cy="85.5" r="1.95"/>
<circle cx="190.3" cy="62.5" r="1.95"/>
<circle cx="190.4" cy="88.4" r="1.95"/>
<circle cx="191.5" cy="63.6" r="1.95"/>
<circle cx="190.8" cy="86.9" r="1.95"/>
<circle cx="191.6" cy="62.4" r="1.95"/>
<circle cx="191.7" cy="86.0" r="1.95"/>
<circle cx="191.9" cy="62.0" r="1.95"/>
<circle cx="191.9" cy="86.3" r="1.95"/>
<circle cx="192.6" cy="62.2" r="1.95"/>
<circle cx="192.2" cy="86.5" r="1.95"/>
<circle cx="192.9" cy="62.8" r="1.95"/>
<circle cx="193.7" cy="85.1" r="1.95"/>
<circle cx="192.6" cy="63.7" r="1.95"/>
<circle cx="192.8" cy="84.3" r="1.95"/>
<circle cx="194.0" cy="61.9" r="1.95"/>
<circle cx="193.6" cy="85.9" r="1.95"/>
<circle cx="193.8" cy="66.3" r="1.95"/>
<circle cx="194.5" cy="84.7" r="1.95"/>
<circle cx="194.4" cy="61.3" r="1.95"/>
<circle cx="194.4" cy="87.0" r="1.95"/>
<circle cx="195.2" cy="61.0" r="1.95"/>
<circle cx="194.3" cy="87.7" r="1.95"/>
<circle cx="196.2" cy="61.3" r="1.95"/>
<circle cx="195.2" cy="84.6" r="1.95"/>
<circle cx="196.2" cy="60.9" r="1.95"/>
<circle cx="195.7" cy="83.9" r="1.95"/>
<circle cx="197.2" cy="61.8" r="1.95"/>
<circle cx="196.3" cy="85.1" r="1.95"/>
<circle cx="196.3" cy="61.7" r="1.95"/>
<circle cx="196.3" cy="81.7" r="1.95"/>
<circle cx="197.1" cy="62.6" r="1.95"/>
<circle cx="197.6" cy="84.0" r="1.95"/>
<circle cx="197.3" cy="61.7" r="1.95"/>
<circle cx="197.8" cy="84.7" r="1.95"/>
<circle cx="198.9" cy="53.5" r="1.95"/>
<circle cx="198.0" cy="82.7" r="1.95"/>
<circle cx="198.8" cy="52.6" r="1.95"/>
<circle cx="198.0" cy="84.1" r="1.95"/>
<circle cx="199.8" cy="47.0" r="1.95"/>
<circle cx="199.8" cy="85.1" r="1.95"/>
<circle cx="199.4" cy="50.8" r="1.95"/>
<circle cx="199.4" cy="83.4" r="1.95"/>
<circle cx="200.7" cy="48.7" r="1.95"/>
<circle cx="200.7" cy="84.2" r="1.95"/>
<circle cx="200.1" cy="49.3" r="1.95"/>
<circle cx="200.4" cy="84.4" r="1.95"/>
<circle cx="200.6" cy="48.1" r="1.95"/>
<circle cx="201.2" cy="83.6" r="1.95"/>
<circle cx="200.7" cy="48.9" r="1.95"/>
<circle cx="201.6" cy="81.6" r="1.95"/>
<circle cx="201.9" cy="49.7" r="1.95"/>
<circle cx="202.4" cy="82.9" r="1.95"/>
<circle cx="201.6" cy="52.1" r="1.95"/>
<circle cx="202.1" cy="81.9" r="1.95"/>
<circle cx="203.0" cy="49.1" r="1.95"/>
<circle cx="202.4" cy="84.0" r="1.95"/>
<circle cx="203.6" cy="50.7" r="1.95"/>
<circle cx="202.5" cy="85.1" r="1.95"/>
<circle cx="203.6" cy="51.1" r="1.95"/>
<circle cx="203.4" cy="84.0" r="1.95"/>
<circle cx="204.1" cy="51.1" r="1.95"/>
<circle cx="204.0" cy="84.5" r="1.95"/>
<circle cx="204.9" cy="49.2" r="1.95"/>
<circle cx="204.3" cy="83.3" r="1.95"/>
<circle cx="205.2" cy="50.9" r="1.95"/>
<circle cx="204.3" cy="83.2" r="1.95"/>
<circle cx="205.7" cy="50.0" r="1.95"/>
<circle cx="205.2" cy="82.9" r="1.95"/>
<circle cx="205.6" cy="52.0" r="1.95"/>
<circle cx="206.1" cy="84.1" r="1.95"/>
<circle cx="206.2" cy="49.2" r="1.95"/>
<circle cx="206.2" cy="81.3" r="1.95"/>
<circle cx="207.0" cy="52.1" r="1.95"/>
<circle cx="206.5" cy="81.8" r="1.95"/>
<circle cx="207.9" cy="49.8" r="1.95"/>
<circle cx="208.0" cy="81.3" r="1.95"/>
<circle cx="207.8" cy="50.5" r="1.95"/>
<circle cx="207.3" cy="82.3" r="1.95"/>
<circle cx="208.3" cy="53.2" r="1.95"/>
<circle cx="208.9" cy="80.6" r="1.95"/>
<circle cx="208.8" cy="51.2" r="1.95"/>
<circle cx="208.4" cy="80.5" r="1.95"/>
<circle cx="209.8" cy="51.8" r="1.95"/>
<circle cx="209.2" cy="79.8" r="1.95"/>
<circle cx="209.5" cy="50.0" r="1.95"/>
<circle cx="208.8" cy="81.3" r="1.95"/>
<circle cx="210.1" cy="51.5" r="1.95"/>
<circle cx="209.8" cy="80.1" r="1.95"/>
<circle cx="210.8" cy="52.2" r="1.95"/>
<circle cx="210.4" cy="77.3" r="1.95"/>
<circle cx="211.5" cy="54.5" r="1.95"/>
<circle cx="210.5" cy="78.4" r="1.95"/>
<circle cx="211.3" cy="52.4" r="1.95"/>
<circle cx="210.8" cy="81.9" r="1.95"/>
<circle cx="212.1" cy="55.0" r="1.95"/>
<circle cx="211.7" cy="79.3" r="1.95"/>
<circle cx="212.0" cy="50.8" r="1.95"/>
<circle cx="211.7" cy="81.3" r="1.95"/>
<circle cx="212.7" cy="54.0" r="1.95"/>
<circle cx="213.0" cy="79.6" r="1.95"/>
<circle cx="213.4" cy="53.4" r="1.95"/>
<circle cx="212.9" cy="80.0" r="1.95"/>
<circle cx="213.8" cy="55.6" r="1.95"/>
<circle cx="213.4" cy="80.6" r="1.95"/>
<circle cx="213.6" cy="54.4" r="1.95"/>
<circle cx="213.5" cy="80.6" r="1.95"/>
<circle cx="214.2" cy="54.9" r="1.95"/>
<circle cx="214.8" cy="79.9" r="1.95"/>
<circle cx="214.8" cy="56.6" r="1.95"/>
<circle cx="215.0" cy="79.9" r="1.95"/>
<circle cx="215.6" cy="57.3" r="1.95"/>
<circle cx="215.6" cy="80.5" r="1.95"/>
<circle cx="215.4" cy="59.0" r="1.95"/>
<circle cx="215.6" cy="81.9" r="1.95"/>
<circle cx="216.4" cy="60.6" r="1.95"/>
<circle cx="216.3" cy="81.4" r="1.95"/>
<circle cx="216.9" cy="60.9" r="1.95"/>
<circle cx="216.5" cy="83.0" r="1.95"/>
<circle cx="217.1" cy="61.4" r="1.95"/>
<circle cx="217.7" cy="80.7" r="1.95"/>
<circle cx="217.0" cy="62.6" r="1.95"/>
<circle cx="217.3" cy="81.8" r="1.95"/>
<circle cx="217.8" cy="58.3" r="1.95"/>
<circle cx="218.6" cy="80.5" r="1.95"/>
<circle cx="217.8" cy="59.8" r="1.95"/>
<circle cx="218.6" cy="82.7" r="1.95"/>
<circle cx="218.8" cy="57.6" r="1.95"/>
<circle cx="219.4" cy="79.6" r="1.95"/>
<circle cx="219.3" cy="59.5" r="1.95"/>
<circle cx="219.2" cy="76.8" r="1.95"/>
<circle cx="220.4" cy="57.1" r="1.95"/>
<circle cx="220.1" cy="75.5" r="1.95"/>
<circle cx="220.4" cy="56.5" r="1.95"/>
<circle cx="219.7" cy="75.0" r="1.95"/>
<circle cx="221.4" cy="59.0" r="1.95"/>
<circle cx="221.1" cy="77.5" r="1.95"/>
<circle cx="221.0" cy="58.5" r="1.95"/>
<circle cx="220.9" cy="77.1" r="1.95"/>
<circle cx="222.2" cy="58.4" r="1.95"/>
<circle cx="221.8" cy="76.7" r="1.95"/>
<circle cx="221.8" cy="55.4" r="1.95"/>
<circle cx="221.7" cy="78.3" r="1.95"/>
<circle cx="222.7" cy="56.3" r="1.95"/>
<circle cx="222.6" cy="77.8" r="1.95"/>
<circle cx="223.1" cy="58.3" r="1.95"/>
<circle cx="222.7" cy="77.1" r="1.95"/>
<circle cx="223.3" cy="57.5" r="1.95"/>
<circle cx="223.8" cy="79.3" r="1.95"/>
<circle cx="223.8" cy="60.0" r="1.95"/>
<circle cx="223.5" cy="80.0" r="1.95"/>
<circle cx="225.0" cy="59.5" r="1.95"/>
<circle cx="224.2" cy="76.4" r="1.95"/>
<circle cx="224.5" cy="58.1" r="1.95"/>
<circle cx="224.1" cy="78.9" r="1.95"/>
<circle cx="225.6" cy="55.5" r="1.95"/>
<circle cx="225.8" cy="79.4" r="1.95"/>
<circle cx="225.5" cy="59.6" r="1.95"/>
<circle cx="225.5" cy="79.4" r="1.95"/>
<circle cx="226.6" cy="54.4" r="1.95"/>
<circle cx="226.5" cy="79.8" r="1.95"/>
<circle cx="226.2" cy="57.0" r="1.95"/>
<circle cx="226.4" cy="78.5" r="1.95"/>
<circle cx="226.8" cy="51.5" r="1.95"/>
<circle cx="227.4" cy="79.7" r="1.95"/>
<circle cx="227.4" cy="54.6" r="1.95"/>
<circle cx="227.3" cy="76.7" r="1.95"/>
<circle cx="228.1" cy="49.0" r="1.95"/>
<circle cx="228.0" cy="75.8" r="1.95"/>
<circle cx="228.2" cy="52.1" r="1.95"/>
<circle cx="228.0" cy="77.9" r="1.95"/>
<circle cx="229.7" cy="53.9" r="1.95"/>
<circle cx="228.6" cy="77.1" r="1.95"/>
<circle cx="229.6" cy="52.4" r="1.95"/>
<circle cx="229.7" cy="76.3" r="1.95"/>
<circle cx="230.5" cy="54.1" r="1.95"/>
<circle cx="229.7" cy="78.5" r="1.95"/>
<circle cx="230.0" cy="53.9" r="1.95"/>
<circle cx="229.6" cy="78.1" r="1.95"/>
<circle cx="231.1" cy="55.3" r="1.95"/>
<circle cx="231.5" cy="77.2" r="1.95"/>
<circle cx="231.1" cy="57.3" r="1.95"/>
<circle cx="231.2" cy="78.2" r="1.95"/>
<circle cx="231.6" cy="56.6" r="1.95"/>
<circle cx="231.6" cy="77.6" r="1.95"/>
<circle cx="232.2" cy="55.1" r="1.95"/>
<circle cx="231.4" cy="76.7" r="1.95"/>
<circle cx="232.7" cy="55.4" r="1.95"/>
<circle cx="232.9" cy="77.1" r="1.95"/>
<circle cx="232.7" cy="57.9" r="1.95"/>
<circle cx="232.6" cy="77.4" r="1.95"/>
<circle cx="233.1" cy="57.1" r="1.95"/>
<circle cx="233.1" cy="78.8" r="1.95"/>
<circle cx="233.1" cy="56.7" r="1.95"/>
<circle cx="234.0" cy="78.4" r="1.95"/>
<circle cx="234.6" cy="55.8" r="1.95"/>
<circle cx="233.9" cy="76.5" r="1.95"/>
<circle cx="234.8" cy="54.8" r="1.95"/>
<circle cx="234.3" cy="78.6" r="1.95"/>
<circle cx="235.0" cy="55.3" r="1.95"/>
<circle cx="235.9" cy="77.1" r="1.95"/>
<circle cx="235.5" cy="54.5" r="1.95"/>
<circle cx="235.3" cy="77.7" r="1.95"/>
<circle cx="235.8" cy="56.7" r="1.95"/>
<circle cx="236.9" cy="75.7" r="1.95"/>
<circle cx="236.2" cy="54.8" r="1.95"/>
<circle cx="235.8" cy="76.1" r="1.95"/>
<circle cx="237.7" cy="56.6" r="1.95"/>
<circle cx="237.7" cy="76.2" r="1.95"/>
<circle cx="237.6" cy="55.4" r="1.95"/>
<circle cx="237.8" cy="78.6" r="1.95"/>
<circle cx="238.1" cy="57.3" r="1.95"/>
<circle cx="238.0" cy="77.1" r="1.95"/>
<circle cx="238.4" cy="56.6" r="1.95"/>
<circle cx="238.6" cy="78.4" r="1.95"/>
<circle cx="239.0" cy="57.1" r="1.95"/>
<circle cx="238.6" cy="76.9" r="1.95"/>
<circle cx="238.8" cy="58.1" r="1.95"/>
<circle cx="238.7" cy="80.7" r="1.95"/>
<circle cx="240.0" cy="58.5" r="1.95"/>
<circle cx="239.8" cy="79.1" r="1.95"/>
<circle cx="239.8" cy="57.9" r="1.95"/>
<circle cx="240.3" cy="78.3" r="1.95"/>
<circle cx="240.6" cy="57.9" r="1.95"/>
<circle cx="240.5" cy="79.2" r="1.95"/>
<circle cx="240.5" cy="59.6" r="1.95"/>
<circle cx="240.6" cy="78.8" r="1.95"/>
<circle cx="241.3" cy="58.3" r="1.95"/>
<circle cx="241.4" cy="78.3" r="1.95"/>
<circle cx="242.1" cy="59.4" r="1.95"/>
<circle cx="242.1" cy="79.8" r="1.95"/>
<circle cx="243.0" cy="60.3" r="1.95"/>
<circle cx="242.9" cy="80.4" r="1.95"/>
<circle cx="242.5" cy="60.5" r="1.95"/>
<circle cx="243.1" cy="79.2" r="1.95"/>
<circle cx="243.5" cy="61.1" r="1.95"/>
<circle cx="243.1" cy="81.3" r="1.95"/>
<circle cx="243.7" cy="60.7" r="1.95"/>
<circle cx="243.6" cy="82.6" r="1.95"/>
<circle cx="244.2" cy="62.1" r="1.95"/>
<circle cx="244.1" cy="82.2" r="1.95"/>
<circle cx="244.8" cy="63.1" r="1.95"/>
<circle cx="244.5" cy="81.6" r="1.95"/>
<circle cx="245.0" cy="63.4" r="1.95"/>
<circle cx="245.5" cy="80.0" r="1.95"/>
<circle cx="245.4" cy="62.8" r="1.95"/>
<circle cx="244.8" cy="82.3" r="1.95"/>
<circle cx="245.8" cy="65.0" r="1.95"/>
<circle cx="246.4" cy="80.9" r="1.95"/>
<circle cx="245.7" cy="63.3" r="1.95"/>
<circle cx="246.2" cy="81.3" r="1.95"/>
<circle cx="246.9" cy="65.9" r="1.95"/>
<circle cx="246.8" cy="82.8" r="1.95"/>
<circle cx="246.7" cy="64.7" r="1.95"/>
<circle cx="247.0" cy="81.4" r="1.95"/>
<circle cx="248.5" cy="65.9" r="1.95"/>
<circle cx="248.4" cy="80.5" r="1.95"/>
<circle cx="247.6" cy="65.5" r="1.95"/>
<circle cx="248.2" cy="83.2" r="1.95"/>
<circle cx="249.1" cy="65.4" r="1.95"/>
<circle cx="249.1" cy="84.6" r="1.95"/>
<circle cx="249.1" cy="66.1" r="1.95"/>
<circle cx="248.7" cy="85.9" r="1.95"/>
<circle cx="250.0" cy="66.9" r="1.95"/>
<circle cx="250.3" cy="84.7" r="1.95"/>
<circle cx="250.1" cy="66.6" r="1.95"/>
<circle cx="249.2" cy="83.8" r="1.95"/>
<circle cx="250.3" cy="67.7" r="1.95"/>
<circle cx="250.6" cy="85.6" r="1.95"/>
<circle cx="250.1" cy="66.8" r="1.95"/>
<circle cx="250.3" cy="86.2" r="1.95"/>
<circle cx="252.0" cy="66.6" r="1.95"/>
<circle cx="251.3" cy="84.1" r="1.95"/>
<circle cx="251.5" cy="67.9" r="1.95"/>
<circle cx="251.0" cy="83.9" r="1.95"/>
<circle cx="252.9" cy="69.4" r="1.95"/>
<circle cx="252.0" cy="84.3" r="1.95"/>
<circle cx="252.9" cy="68.9" r="1.95"/>
<circle cx="252.2" cy="85.0" r="1.95"/>
<circle cx="252.9" cy="70.3" r="1.95"/>
<circle cx="253.9" cy="84.8" r="1.95"/>
<circle cx="253.7" cy="71.7" r="1.95"/>
<circle cx="253.3" cy="86.5" r="1.95"/>
<circle cx="254.6" cy="71.5" r="1.95"/>
<circle cx="253.8" cy="85.0" r="1.95"/>
<circle cx="254.8" cy="68.5" r="1.95"/>
<circle cx="254.5" cy="87.1" r="1.95"/>
<circle cx="255.5" cy="72.4" r="1.95"/>
<circle cx="255.1" cy="84.8" r="1.95"/>
<circle cx="254.7" cy="71.2" r="1.95"/>
<circle cx="255.2" cy="85.1" r="1.95"/>
<circle cx="256.6" cy="73.3" r="1.95"/>
<circle cx="255.6" cy="88.4" r="1.95"/>
<circle cx="256.3" cy="72.2" r="1.95"/>
<circle cx="256.2" cy="86.0" r="1.95"/>
<circle cx="257.6" cy="71.2" r="1.95"/>
<circle cx="256.7" cy="86.4" r="1.95"/>
<circle cx="256.5" cy="71.4" r="1.95"/>
<circle cx="256.6" cy="88.5" r="1.95"/>
<circle cx="257.7" cy="73.7" r="1.95"/>
<circle cx="258.1" cy="89.5" r="1.95"/>
<circle cx="257.6" cy="72.6" r="1.95"/>
<circle cx="257.8" cy="89.5" r="1.95"/>
<circle cx="259.3" cy="72.2" r="1.95"/>
<circle cx="259.3" cy="89.5" r="1.95"/>
<circle cx="258.4" cy="71.8" r="1.95"/>
<circle cx="259.2" cy="88.3" r="1.95"/>
<circle cx="259.8" cy="74.2" r="1.95"/>
<circle cx="259.9" cy="89.2" r="1.95"/>
<circle cx="259.8" cy="72.2" r="1.95"/>
<circle cx="260.1" cy="90.5" r="1.95"/>
<circle cx="260.1" cy="75.4" r="1.95"/>
<circle cx="260.2" cy="92.6" r="1.95"/>
<circle cx="260.1" cy="75.6" r="1.95"/>
<circle cx="260.8" cy="92.2" r="1.95"/>
<circle cx="261.4" cy="78.1" r="1.95"/>
<circle cx="261.5" cy="93.7" r="1.95"/>
<circle cx="261.3" cy="77.5" r="1.95"/>
<circle cx="260.9" cy="93.4" r="1.95"/>
<circle cx="263.0" cy="79.4" r="1.95"/>
<circle cx="262.7" cy="94.3" r="1.95"/>
<circle cx="263.0" cy="78.9" r="1.95"/>
<circle cx="262.4" cy="94.6" r="1.95"/>
<circle cx="263.2" cy="82.8" r="1.95"/>
<circle cx="262.7" cy="98.6" r="1.95"/>
<circle cx="263.8" cy="81.2" r="1.95"/>
<circle cx="263.8" cy="95.9" r="1.95"/>
<circle cx="264.4" cy="85.0" r="1.95"/>
<circle cx="263.8" cy="100.5" r="1.95"/>
<circle cx="263.6" cy="85.3" r="1.95"/>
<circle cx="264.0" cy="97.3" r="1.95"/>
<circle cx="264.7" cy="84.8" r="1.95"/>
<circle cx="265.6" cy="98.8" r="1.95"/>
<circle cx="264.7" cy="86.8" r="1.95"/>
<circle cx="265.4" cy="98.4" r="1.95"/>
<circle cx="265.8" cy="88.1" r="1.95"/>
<circle cx="265.8" cy="103.2" r="1.95"/>
<circle cx="265.8" cy="86.1" r="1.95"/>
<circle cx="266.4" cy="100.8" r="1.95"/>
<circle cx="266.6" cy="89.5" r="1.95"/>
<circle cx="267.1" cy="102.2" r="1.95"/>
<circle cx="267.3" cy="87.3" r="1.95"/>
<circle cx="267.4" cy="99.3" r="1.95"/>
<circle cx="267.8" cy="88.2" r="1.95"/>
<circle cx="267.6" cy="102.4" r="1.95"/>
<circle cx="267.9" cy="90.5" r="1.95"/>
<circle cx="267.4" cy="103.3" r="1.95"/>
<circle cx="268.6" cy="90.3" r="1.95"/>
<circle cx="268.1" cy="102.9" r="1.95"/>
<circle cx="268.6" cy="90.5" r="1.95"/>
<circle cx="268.1" cy="104.8" r="1.95"/>
<circle cx="270.0" cy="91.6" r="1.95"/>
<circle cx="269.5" cy="101.6" r="1.95"/>
<circle cx="269.3" cy="89.6" r="1.95"/>
<circle cx="269.5" cy="102.1" r="1.95"/>
<circle cx="270.3" cy="89.1" r="1.95"/>
<circle cx="270.9" cy="104.2" r="1.95"/>
<circle cx="271.0" cy="91.3" r="1.95"/>
<circle cx="270.4" cy="104.4" r="1.95"/>
<circle cx="271.5" cy="90.8" r="1.95"/>
<circle cx="270.9" cy="104.4" r="1.95"/>
<circle cx="271.2" cy="88.1" r="1.95"/>
<circle cx="271.9" cy="104.5" r="1.95"/>
<circle cx="272.7" cy="94.7" r="1.95"/>
<circle cx="272.4" cy="103.5" r="1.95"/>
<circle cx="272.7" cy="93.4" r="1.95"/>
<circle cx="272.4" cy="104.6" r="1.95"/>
<circle cx="273.0" cy="89.5" r="1.95"/>
<circle cx="273.2" cy="102.9" r="1.95"/>
<circle cx="273.4" cy="91.8" r="1.95"/>
<circle cx="273.7" cy="105.2" r="1.95"/>
<circle cx="273.5" cy="93.3" r="1.95"/>
<circle cx="274.0" cy="106.1" r="1.95"/>
<circle cx="273.6" cy="92.0" r="1.95"/>
<circle cx="274.2" cy="103.4" r="1.95"/>
<circle cx="274.9" cy="91.6" r="1.95"/>
<circle cx="274.9" cy="104.4" r="1.95"/>
<circle cx="274.5" cy="94.2" r="1.95"/>
<circle cx="275.1" cy="107.0" r="1.95"/>
<circle cx="275.4" cy="94.1" r="1.95"/>
<circle cx="275.4" cy="104.5" r="1.95"/>
<circle cx="275.9" cy="93.5" r="1.95"/>
<circle cx="276.0" cy="106.5" r="1.95"/>
<circle cx="276.5" cy="93.5" r="1.95"/>
<circle cx="276.8" cy="105.3" r="1.95"/>
<circle cx="276.9" cy="95.1" r="1.95"/>
<circle cx="276.3" cy="106.2" r="1.95"/>
<circle cx="277.6" cy="95.4" r="1.95"/>
<circle cx="278.0" cy="104.9" r="1.95"/>
<circle cx="278.0" cy="97.2" r="1.95"/>
<circle cx="278.0" cy="108.5" r="1.95"/>
<circle cx="278.1" cy="95.5" r="1.95"/>
<circle cx="278.2" cy="105.5" r="1.95"/>
<circle cx="279.2" cy="93.0" r="1.95"/>
<circle cx="278.2" cy="105.7" r="1.95"/>
<circle cx="279.8" cy="96.2" r="1.95"/>
<circle cx="279.3" cy="107.3" r="1.95"/>
<circle cx="278.9" cy="94.7" r="1.95"/>
<circle cx="279.3" cy="106.5" r="1.95"/>
<circle cx="280.6" cy="93.6" r="1.95"/>
<circle cx="280.5" cy="108.5" r="1.95"/>
<circle cx="280.8" cy="93.3" r="1.95"/>
<circle cx="280.8" cy="106.4" r="1.95"/>
<circle cx="280.9" cy="95.4" r="1.95"/>
<circle cx="281.6" cy="106.1" r="1.95"/>
<circle cx="281.5" cy="95.7" r="1.95"/>
<circle cx="281.1" cy="106.6" r="1.95"/>
<circle cx="282.5" cy="96.9" r="1.95"/>
<circle cx="281.7" cy="106.4" r="1.95"/>
<circle cx="282.3" cy="96.4" r="1.95"/>
<circle cx="282.6" cy="107.9" r="1.95"/>
<circle cx="282.6" cy="96.4" r="1.95"/>
<circle cx="282.8" cy="105.9" r="1.95"/>
<circle cx="282.7" cy="92.6" r="1.95"/>
<circle cx="283.2" cy="107.5" r="1.95"/>
<circle cx="283.5" cy="95.0" r="1.95"/>
<circle cx="284.4" cy="106.6" r="1.95"/>
<circle cx="283.6" cy="93.5" r="1.95"/>
<circle cx="284.2" cy="106.2" r="1.95"/>
<circle cx="284.8" cy="95.6" r="1.95"/>
<circle cx="284.9" cy="108.3" r="1.95"/>
<circle cx="285.1" cy="95.2" r="1.95"/>
<circle cx="284.3" cy="103.6" r="1.95"/>
<circle cx="285.6" cy="94.6" r="1.95"/>
<circle cx="286.2" cy="107.3" r="1.95"/>
<circle cx="286.2" cy="94.5" r="1.95"/>
<circle cx="286.2" cy="106.3" r="1.95"/>
<circle cx="286.9" cy="92.0" r="1.95"/>
<circle cx="286.3" cy="106.5" r="1.95"/>
<circle cx="287.1" cy="91.1" r="1.95"/>
<circle cx="286.8" cy="107.2" r="1.95"/>
<circle cx="287.1" cy="91.4" r="1.95"/>
<circle cx="288.1" cy="105.7" r="1.95"/>
<circle cx="287.7" cy="92.5" r="1.95"/>
<circle cx="287.4" cy="105.2" r="1.95"/>
<circle cx="288.5" cy="89.5" r="1.95"/>
<circle cx="288.3" cy="103.8" r="1.95"/>
<circle cx="287.9" cy="89.6" r="1.95"/>
<circle cx="287.9" cy="103.8" r="1.95"/>
<circle cx="289.4" cy="89.7" r="1.95"/>
<circle cx="289.0" cy="103.6" r="1.95"/>
<circle cx="289.6" cy="89.2" r="1.95"/>
<circle cx="289.4" cy="104.6" r="1.95"/>
<circle cx="290.0" cy="86.7" r="1.95"/>
<circle cx="290.8" cy="102.3" r="1.95"/>
<circle cx="290.9" cy="89.6" r="1.95"/>
<circle cx="290.6" cy="103.3" r="1.95"/>
<circle cx="291.6" cy="87.1" r="1.95"/>
<circle cx="291.4" cy="100.6" r="1.95"/>
<circle cx="291.0" cy="86.4" r="1.95"/>
<circle cx="291.6" cy="104.4" r="1.95"/>
<circle cx="292.6" cy="85.2" r="1.95"/>
<circle cx="292.4" cy="100.7" r="1.95"/>
<circle cx="292.4" cy="83.9" r="1.95"/>
<circle cx="291.9" cy="101.5" r="1.95"/>
<circle cx="293.1" cy="85.5" r="1.95"/>
<circle cx="292.8" cy="101.8" r="1.95"/>
<circle cx="292.8" cy="87.3" r="1.95"/>
<circle cx="292.8" cy="101.5" r="1.95"/>
<circle cx="293.6" cy="86.3" r="1.95"/>
<circle cx="293.5" cy="102.7" r="1.95"/>
<circle cx="293.3" cy="87.1" r="1.95"/>
<circle cx="293.8" cy="100.6" r="1.95"/>
<circle cx="294.9" cy="86.2" r="1.95"/>
<circle cx="294.3" cy="102.3" r="1.95"/>
<circle cx="294.6" cy="85.8" r="1.95"/>
<circle cx="294.9" cy="103.4" r="1.95"/>
<circle cx="296.2" cy="85.3" r="1.95"/>
<circle cx="295.8" cy="103.9" r="1.95"/>
<circle cx="295.2" cy="87.4" r="1.95"/>
<circle cx="296.3" cy="103.0" r="1.95"/>
<circle cx="296.4" cy="87.4" r="1.95"/>
<circle cx="297.0" cy="100.4" r="1.95"/>
<circle cx="296.1" cy="84.6" r="1.95"/>
<circle cx="296.3" cy="101.9" r="1.95"/>
<circle cx="297.2" cy="89.4" r="1.95"/>
<circle cx="297.2" cy="102.7" r="1.95"/>
<circle cx="297.7" cy="88.9" r="1.95"/>
<circle cx="297.1" cy="103.8" r="1.95"/>
<circle cx="298.5" cy="91.3" r="1.95"/>
<circle cx="298.0" cy="102.2" r="1.95"/>
<circle cx="298.7" cy="91.7" r="1.95"/>
<circle cx="297.9" cy="103.1" r="1.95"/>
<circle cx="299.7" cy="92.4" r="1.95"/>
<circle cx="298.9" cy="103.6" r="1.95"/>
<circle cx="298.9" cy="89.3" r="1.95"/>
<circle cx="299.5" cy="103.8" r="1.95"/>
<circle cx="300.7" cy="93.4" r="1.95"/>
<circle cx="300.5" cy="106.3" r="1.95"/>
<circle cx="300.4" cy="91.6" r="1.95"/>
<circle cx="300.0" cy="106.3" r="1.95"/>
<circle cx="300.6" cy="94.1" r="1.95"/>
<circle cx="301.3" cy="106.3" r="1.95"/>
<circle cx="300.9" cy="92.8" r="1.95"/>
<circle cx="300.8" cy="106.2" r="1.95"/>
<circle cx="302.0" cy="97.7" r="1.95"/>
<circle cx="302.1" cy="106.9" r="1.95"/>
<circle cx="302.6" cy="96.6" r="1.95"/>
<circle cx="302.3" cy="107.3" r="1.95"/>
<circle cx="302.7" cy="96.2" r="1.95"/>
<circle cx="302.5" cy="107.7" r="1.95"/>
<circle cx="303.2" cy="97.5" r="1.95"/>
<circle cx="302.8" cy="108.5" r="1.95"/>
<circle cx="303.8" cy="94.9" r="1.95"/>
<circle cx="304.0" cy="107.0" r="1.95"/>
<circle cx="303.9" cy="95.3" r="1.95"/>
<circle cx="303.5" cy="109.6" r="1.95"/>
<circle cx="305.0" cy="97.0" r="1.95"/>
<circle cx="304.5" cy="106.3" r="1.95"/>
<circle cx="305.0" cy="98.1" r="1.95"/>
<circle cx="304.4" cy="108.2" r="1.95"/>
<circle cx="305.6" cy="97.3" r="1.95"/>
<circle cx="305.0" cy="108.5" r="1.95"/>
<circle cx="305.6" cy="95.6" r="1.95"/>
<circle cx="305.4" cy="107.0" r="1.95"/>
<circle cx="307.1" cy="95.5" r="1.95"/>
<circle cx="306.0" cy="110.3" r="1.95"/>
<circle cx="305.9" cy="95.5" r="1.95"/>
<circle cx="306.5" cy="108.6" r="1.95"/>
<circle cx="307.5" cy="95.0" r="1.95"/>
<circle cx="307.2" cy="110.6" r="1.95"/>
<circle cx="307.0" cy="94.7" r="1.95"/>
<circle cx="307.9" cy="109.7" r="1.95"/>
<circle cx="307.9" cy="94.4" r="1.95"/>
<circle cx="308.0" cy="108.0" r="1.95"/>
<circle cx="308.9" cy="90.7" r="1.95"/>
<circle cx="308.1" cy="107.6" r="1.95"/>
<circle cx="309.6" cy="91.0" r="1.95"/>
<circle cx="309.7" cy="108.0" r="1.95"/>
<circle cx="308.7" cy="91.9" r="1.95"/>
<circle cx="309.4" cy="107.3" r="1.95"/>
<circle cx="310.0" cy="94.0" r="1.95"/>
<circle cx="310.2" cy="108.5" r="1.95"/>
<circle cx="310.0" cy="96.3" r="1.95"/>
<circle cx="310.3" cy="107.4" r="1.95"/>
<circle cx="310.7" cy="95.5" r="1.95"/>
<circle cx="310.9" cy="110.8" r="1.95"/>
<circle cx="310.7" cy="96.1" r="1.95"/>
<circle cx="311.2" cy="111.8" r="1.95"/>
<circle cx="311.7" cy="98.2" r="1.95"/>
<circle cx="312.0" cy="110.9" r="1.95"/>
<circle cx="311.5" cy="98.9" r="1.95"/>
<circle cx="311.6" cy="109.1" r="1.95"/>
<circle cx="313.1" cy="99.3" r="1.95"/>
<circle cx="312.6" cy="111.1" r="1.95"/>
<circle cx="312.8" cy="99.4" r="1.95"/>
<circle cx="313.0" cy="111.5" r="1.95"/>
<circle cx="313.8" cy="97.9" r="1.95"/>
<circle cx="314.2" cy="113.0" r="1.95"/>
<circle cx="313.4" cy="100.3" r="1.95"/>
<circle cx="314.0" cy="111.8" r="1.95"/>
<circle cx="315.0" cy="101.0" r="1.95"/>
<circle cx="315.2" cy="115.4" r="1.95"/>
<circle cx="314.4" cy="100.6" r="1.95"/>
<circle cx="315.2" cy="113.3" r="1.95"/>
<circle cx="314.9" cy="101.2" r="1.95"/>
<circle cx="315.8" cy="113.5" r="1.95"/>
<circle cx="315.0" cy="101.5" r="1.95"/>
<circle cx="315.0" cy="115.4" r="1.95"/>
<circle cx="316.2" cy="102.9" r="1.95"/>
<circle cx="316.9" cy="113.5" r="1.95"/>
<circle cx="317.0" cy="102.1" r="1.95"/>
<circle cx="316.8" cy="114.6" r="1.95"/>
<circle cx="317.5" cy="100.2" r="1.95"/>
<circle cx="317.0" cy="114.7" r="1.95"/>
<circle cx="317.2" cy="99.0" r="1.95"/>
<circle cx="317.9" cy="114.5" r="1.95"/>
<circle cx="318.0" cy="92.9" r="1.95"/>
<circle cx="318.2" cy="113.1" r="1.95"/>
<circle cx="317.8" cy="91.7" r="1.95"/>
<circle cx="318.4" cy="113.8" r="1.95"/>
<circle cx="318.7" cy="85.9" r="1.95"/>
<circle cx="318.6" cy="111.2" r="1.95"/>
<circle cx="318.9" cy="83.4" r="1.95"/>
<circle cx="318.9" cy="112.7" r="1.95"/>
<circle cx="319.7" cy="83.5" r="1.95"/>
<circle cx="320.3" cy="111.5" r="1.95"/>
<circle cx="319.7" cy="81.5" r="1.95"/>
<circle cx="319.5" cy="112.8" r="1.95"/>
<circle cx="320.4" cy="85.7" r="1.95"/>
<circle cx="321.0" cy="113.6" r="1.95"/>
<circle cx="320.7" cy="88.8" r="1.95"/>
<circle cx="321.1" cy="113.8" r="1.95"/>
<circle cx="321.9" cy="91.1" r="1.95"/>
<circle cx="322.4" cy="114.9" r="1.95"/>
<circle cx="322.2" cy="92.6" r="1.95"/>
<circle cx="321.6" cy="114.2" r="1.95"/>
<circle cx="322.6" cy="95.9" r="1.95"/>
<circle cx="322.6" cy="115.7" r="1.95"/>
<circle cx="322.6" cy="97.4" r="1.95"/>
<circle cx="322.1" cy="119.3" r="1.95"/>
<circle cx="323.7" cy="96.2" r="1.95"/>
<circle cx="323.7" cy="115.7" r="1.95"/>
<circle cx="323.5" cy="95.4" r="1.95"/>
<circle cx="323.1" cy="116.9" r="1.95"/>
<circle cx="324.9" cy="97.1" r="1.95"/>
<circle cx="324.0" cy="113.8" r="1.95"/>
<circle cx="324.7" cy="95.7" r="1.95"/>
<circle cx="324.6" cy="117.9" r="1.95"/>
<circle cx="325.2" cy="98.6" r="1.95"/>
<circle cx="325.7" cy="117.0" r="1.95"/>
<circle cx="325.8" cy="97.0" r="1.95"/>
<circle cx="326.0" cy="116.9" r="1.95"/>
<circle cx="326.0" cy="99.3" r="1.95"/>
<circle cx="326.2" cy="116.1" r="1.95"/>
<circle cx="326.6" cy="99.5" r="1.95"/>
<circle cx="326.4" cy="118.5" r="1.95"/>
<circle cx="327.4" cy="102.0" r="1.95"/>
<circle cx="327.3" cy="119.7" r="1.95"/>
<circle cx="326.9" cy="102.0" r="1.95"/>
<circle cx="327.7" cy="117.6" r="1.95"/>
<circle cx="328.1" cy="104.6" r="1.95"/>
<circle cx="328.1" cy="117.3" r="1.95"/>
<circle cx="327.8" cy="106.6" r="1.95"/>
<circle cx="328.1" cy="120.9" r="1.95"/>
<circle cx="329.0" cy="104.0" r="1.95"/>
<circle cx="328.7" cy="119.0" r="1.95"/>
<circle cx="328.6" cy="106.7" r="1.95"/>
<circle cx="329.2" cy="118.2" r="1.95"/>
<circle cx="330.3" cy="108.3" r="1.95"/>
<circle cx="329.4" cy="118.5" r="1.95"/>
<circle cx="329.8" cy="107.5" r="1.95"/>
<circle cx="329.4" cy="118.0" r="1.95"/>
<circle cx="330.4" cy="106.7" r="1.95"/>
<circle cx="330.6" cy="121.1" r="1.95"/>
<circle cx="331.2" cy="105.4" r="1.95"/>
<circle cx="330.3" cy="120.4" r="1.95"/>
<circle cx="331.6" cy="108.9" r="1.95"/>
<circle cx="331.6" cy="121.1" r="1.95"/>
<circle cx="331.7" cy="107.7" r="1.95"/>
<circle cx="331.3" cy="119.2" r="1.95"/>
<circle cx="332.8" cy="106.4" r="1.95"/>
<circle cx="332.3" cy="122.8" r="1.95"/>
<circle cx="332.4" cy="106.7" r="1.95"/>
<circle cx="332.0" cy="122.7" r="1.95"/>
<circle cx="333.1" cy="107.5" r="1.95"/>
<circle cx="333.1" cy="122.0" r="1.95"/>
<circle cx="333.8" cy="107.7" r="1.95"/>
<circle cx="333.2" cy="123.2" r="1.95"/>
<circle cx="334.8" cy="109.9" r="1.95"/>
<circle cx="334.8" cy="123.4" r="1.95"/>
<circle cx="334.0" cy="106.5" r="1.95"/>
<circle cx="334.5" cy="123.5" r="1.95"/>
<circle cx="335.1" cy="110.3" r="1.95"/>
<circle cx="335.1" cy="123.1" r="1.95"/>
<circle cx="335.6" cy="108.7" r="1.95"/>
<circle cx="335.5" cy="124.0" r="1.95"/>
<circle cx="336.6" cy="108.9" r="1.95"/>
<circle cx="336.3" cy="124.0" r="1.95"/>
<circle cx="336.7" cy="110.8" r="1.95"/>
<circle cx="336.5" cy="126.1" r="1.95"/>
<circle cx="336.9" cy="109.7" r="1.95"/>
<circle cx="336.6" cy="122.5" r="1.95"/>
<circle cx="337.4" cy="109.1" r="1.95"/>
<circle cx="337.1" cy="124.4" r="1.95"/>
<circle cx="338.5" cy="110.4" r="1.95"/>
<circle cx="338.1" cy="123.8" r="1.95"/>
<circle cx="338.0" cy="108.2" r="1.95"/>
<circle cx="337.9" cy="124.6" r="1.95"/>
<circle cx="338.9" cy="111.4" r="1.95"/>
<circle cx="338.9" cy="124.1" r="1.95"/>
<circle cx="338.9" cy="111.2" r="1.95"/>
<circle cx="339.2" cy="123.4" r="1.95"/>
<circle cx="339.7" cy="112.2" r="1.95"/>
<circle cx="339.9" cy="126.3" r="1.95"/>
<circle cx="340.1" cy="110.5" r="1.95"/>
<circle cx="339.5" cy="125.2" r="1.95"/>
<circle cx="340.2" cy="110.6" r="1.95"/>
<circle cx="340.2" cy="126.2" r="1.95"/>
<circle cx="341.0" cy="110.0" r="1.95"/>
<circle cx="340.9" cy="126.6" r="1.95"/>
<circle cx="341.9" cy="110.0" r="1.95"/>
<circle cx="341.8" cy="127.6" r="1.95"/>
<circle cx="341.5" cy="106.7" r="1.95"/>
<circle cx="342.0" cy="125.5" r="1.95"/>
<circle cx="342.9" cy="109.9" r="1.95"/>
<circle cx="342.5" cy="127.7" r="1.95"/>
<circle cx="341.9" cy="110.2" r="1.95"/>
<circle cx="342.2" cy="126.8" r="1.95"/>
<circle cx="343.2" cy="107.6" r="1.95"/>
<circle cx="343.5" cy="128.0" r="1.95"/>
<circle cx="343.4" cy="107.3" r="1.95"/>
<circle cx="343.2" cy="125.8" r="1.95"/>
<circle cx="344.7" cy="106.9" r="1.95"/>
<circle cx="344.0" cy="122.2" r="1.95"/>
<circle cx="343.9" cy="107.6" r="1.95"/>
<circle cx="344.1" cy="124.9" r="1.95"/>
<circle cx="345.2" cy="103.0" r="1.95"/>
<circle cx="345.0" cy="123.3" r="1.95"/>
<circle cx="345.6" cy="105.5" r="1.95"/>
<circle cx="345.3" cy="125.8" r="1.95"/>
<circle cx="345.6" cy="102.5" r="1.95"/>
<circle cx="346.0" cy="123.4" r="1.95"/>
<circle cx="346.2" cy="102.7" r="1.95"/>
<circle cx="346.5" cy="122.9" r="1.95"/>
<circle cx="346.7" cy="102.0" r="1.95"/>
<circle cx="347.1" cy="119.6" r="1.95"/>
<circle cx="346.9" cy="103.7" r="1.95"/>
<circle cx="347.5" cy="121.2" r="1.95"/>
<circle cx="347.4" cy="100.3" r="1.95"/>
<circle cx="347.4" cy="122.1" r="1.95"/>
<circle cx="348.3" cy="103.4" r="1.95"/>
<circle cx="347.5" cy="122.1" r="1.95"/>
<circle cx="349.3" cy="99.3" r="1.95"/>
<circle cx="348.8" cy="120.3" r="1.95"/>
<circle cx="349.0" cy="100.9" r="1.95"/>
<circle cx="348.5" cy="120.2" r="1.95"/>
<circle cx="350.1" cy="102.4" r="1.95"/>
<circle cx="349.3" cy="123.0" r="1.95"/>
<circle cx="349.2" cy="102.5" r="1.95"/>
<circle cx="350.2" cy="122.0" r="1.95"/>
<circle cx="350.5" cy="99.9" r="1.95"/>
<circle cx="351.1" cy="120.0" r="1.95"/>
<circle cx="350.8" cy="100.7" r="1.95"/>
<circle cx="350.8" cy="121.1" r="1.95"/>
<circle cx="351.0" cy="103.0" r="1.95"/>
<circle cx="351.2" cy="121.1" r="1.95"/>
<circle cx="351.6" cy="101.9" r="1.95"/>
<circle cx="351.1" cy="123.3" r="1.95"/>
<circle cx="352.9" cy="103.6" r="1.95"/>
<circle cx="352.0" cy="125.2" r="1.95"/>
<circle cx="352.8" cy="105.8" r="1.95"/>
<circle cx="351.8" cy="123.0" r="1.95"/>
<circle cx="353.2" cy="106.2" r="1.95"/>
<circle cx="353.4" cy="123.6" r="1.95"/>
<circle cx="352.8" cy="104.8" r="1.95"/>
<circle cx="353.2" cy="124.7" r="1.95"/>
<circle cx="354.4" cy="110.5" r="1.95"/>
<circle cx="353.7" cy="127.0" r="1.95"/>
<circle cx="354.7" cy="111.6" r="1.95"/>
<circle cx="354.2" cy="125.4" r="1.95"/>
<circle cx="354.8" cy="109.4" r="1.95"/>
<circle cx="355.1" cy="128.1" r="1.95"/>
<circle cx="355.6" cy="111.7" r="1.95"/>
<circle cx="355.5" cy="127.2" r="1.95"/>
<circle cx="356.1" cy="110.9" r="1.95"/>
<circle cx="355.6" cy="126.5" r="1.95"/>
<circle cx="355.7" cy="113.3" r="1.95"/>
<circle cx="355.7" cy="125.2" r="1.95"/>
<circle cx="357.4" cy="113.9" r="1.95"/>
<circle cx="357.5" cy="127.1" r="1.95"/>
<circle cx="356.7" cy="113.9" r="1.95"/>
<circle cx="356.4" cy="126.2" r="1.95"/>
<circle cx="357.6" cy="112.3" r="1.95"/>
<circle cx="358.1" cy="127.3" r="1.95"/>
<circle cx="357.4" cy="113.4" r="1.95"/>
<circle cx="357.3" cy="126.0" r="1.95"/>
<circle cx="358.8" cy="115.3" r="1.95"/>
<circle cx="359.0" cy="128.0" r="1.95"/>
<circle cx="358.8" cy="113.7" r="1.95"/>
<circle cx="358.7" cy="127.3" r="1.95"/>
<circle cx="359.1" cy="114.3" r="1.95"/>
<circle cx="359.7" cy="127.1" r="1.95"/>
<circle cx="359.4" cy="113.5" r="1.95"/>
<circle cx="359.2" cy="128.9" r="1.95"/>
<circle cx="360.1" cy="116.4" r="1.95"/>
<circle cx="360.9" cy="127.7" r="1.95"/>
<circle cx="360.9" cy="114.7" r="1.95"/>
<circle cx="360.0" cy="128.1" r="1.95"/>
<circle cx="361.9" cy="117.1" r="1.95"/>
<circle cx="361.4" cy="129.4" r="1.95"/>
<circle cx="360.9" cy="115.4" r="1.95"/>
<circle cx="361.4" cy="128.6" r="1.95"/>
<circle cx="362.3" cy="116.2" r="1.95"/>
<circle cx="362.2" cy="129.5" r="1.95"/>
<circle cx="361.9" cy="117.4" r="1.95"/>
<circle cx="362.7" cy="129.6" r="1.95"/>
<circle cx="363.2" cy="117.6" r="1.95"/>
<circle cx="363.7" cy="129.3" r="1.95"/>
<circle cx="363.2" cy="117.8" r="1.95"/>
<circle cx="363.4" cy="127.9" r="1.95"/>
<circle cx="363.8" cy="118.1" r="1.95"/>
<circle cx="363.8" cy="129.2" r="1.95"/>
<circle cx="363.5" cy="117.0" r="1.95"/>
<circle cx="363.9" cy="130.8" r="1.95"/>
<circle cx="365.5" cy="119.6" r="1.95"/>
<circle cx="364.7" cy="130.9" r="1.95"/>
<circle cx="365.1" cy="118.6" r="1.95"/>
<circle cx="364.5" cy="128.3" r="1.95"/>
<circle cx="365.6" cy="114.9" r="1.95"/>
<circle cx="365.3" cy="128.1" r="1.95"/>
<circle cx="366.0" cy="116.9" r="1.95"/>
<circle cx="365.7" cy="128.0" r="1.95"/>
<circle cx="367.2" cy="114.4" r="1.95"/>
<circle cx="366.2" cy="130.7" r="1.95"/>
<circle cx="367.3" cy="116.0" r="1.95"/>
<circle cx="366.3" cy="130.7" r="1.95"/>
<circle cx="367.4" cy="116.3" r="1.95"/>
<circle cx="367.3" cy="128.3" r="1.95"/>
<circle cx="367.5" cy="117.0" r="1.95"/>
<circle cx="367.4" cy="130.7" r="1.95"/>
<circle cx="368.4" cy="119.9" r="1.95"/>
<circle cx="368.9" cy="129.5" r="1.95"/>
<circle cx="368.6" cy="113.8" r="1.95"/>
<circle cx="369.1" cy="130.1" r="1.95"/>
<circle cx="369.8" cy="114.8" r="1.95"/>
<circle cx="369.7" cy="129.2" r="1.95"/>
<circle cx="369.9" cy="115.5" r="1.95"/>
<circle cx="369.8" cy="129.3" r="1.95"/>
<circle cx="370.2" cy="116.5" r="1.95"/>
<circle cx="370.6" cy="131.8" r="1.95"/>
<circle cx="370.7" cy="116.4" r="1.95"/>
<circle cx="370.9" cy="130.9" r="1.95"/>
<circle cx="371.8" cy="114.4" r="1.95"/>
<circle cx="371.7" cy="126.3" r="1.95"/>
<circle cx="371.4" cy="112.4" r="1.95"/>
<circle cx="371.6" cy="129.5" r="1.95"/>
<circle cx="372.6" cy="113.1" r="1.95"/>
<circle cx="372.2" cy="130.9" r="1.95"/>
<circle cx="372.7" cy="116.4" r="1.95"/>
<circle cx="372.5" cy="130.1" r="1.95"/>
<circle cx="372.8" cy="114.0" r="1.95"/>
<circle cx="372.7" cy="126.7" r="1.95"/>
<circle cx="373.0" cy="113.7" r="1.95"/>
<circle cx="373.6" cy="128.8" r="1.95"/>
<circle cx="374.2" cy="114.8" r="1.95"/>
<circle cx="374.3" cy="130.0" r="1.95"/>
<circle cx="374.4" cy="113.9" r="1.95"/>
<circle cx="374.4" cy="128.5" r="1.95"/>
<circle cx="374.8" cy="119.0" r="1.95"/>
<circle cx="375.3" cy="137.9" r="1.95"/>
<circle cx="374.7" cy="115.6" r="1.95"/>
<circle cx="375.3" cy="135.7" r="1.95"/>
<circle cx="375.2" cy="119.8" r="1.95"/>
<circle cx="375.3" cy="142.9" r="1.95"/>
<circle cx="376.2" cy="118.6" r="1.95"/>
<circle cx="375.7" cy="143.7" r="1.95"/>
<circle cx="376.5" cy="123.3" r="1.95"/>
<circle cx="377.1" cy="148.1" r="1.95"/>
<circle cx="376.8" cy="122.9" r="1.95"/>
<circle cx="376.4" cy="147.5" r="1.95"/>
<circle cx="377.8" cy="125.0" r="1.95"/>
<circle cx="378.0" cy="149.4" r="1.95"/>
<circle cx="377.1" cy="126.5" r="1.95"/>
<circle cx="378.0" cy="148.5" r="1.95"/>
<circle cx="378.1" cy="129.9" r="1.95"/>
<circle cx="378.3" cy="153.6" r="1.95"/>
<circle cx="378.2" cy="131.5" r="1.95"/>
<circle cx="379.0" cy="149.5" r="1.95"/>
<circle cx="379.3" cy="130.2" r="1.95"/>
<circle cx="379.4" cy="152.0" r="1.95"/>
<circle cx="380.0" cy="134.1" r="1.95"/>
<circle cx="379.0" cy="154.1" r="1.95"/>
<circle cx="380.3" cy="134.6" r="1.95"/>
<circle cx="380.8" cy="152.0" r="1.95"/>
<circle cx="380.2" cy="134.2" r="1.95"/>
<circle cx="380.1" cy="151.2" r="1.95"/>
<circle cx="380.7" cy="132.2" r="1.95"/>
<circle cx="381.2" cy="151.2" r="1.95"/>
<circle cx="381.1" cy="136.7" r="1.95"/>
<circle cx="381.4" cy="150.9" r="1.95"/>
<circle cx="381.6" cy="134.1" r="1.95"/>
<circle cx="382.6" cy="151.1" r="1.95"/>
<circle cx="381.9" cy="134.1" r="1.95"/>
<circle cx="382.0" cy="150.6" r="1.95"/>
<circle cx="383.0" cy="134.4" r="1.95"/>
<circle cx="383.0" cy="149.7" r="1.95"/>
<circle cx="382.8" cy="136.0" r="1.95"/>
<circle cx="383.4" cy="151.9" r="1.95"/>
<circle cx="384.1" cy="134.7" r="1.95"/>
<circle cx="384.2" cy="151.5" r="1.95"/>
<circle cx="384.4" cy="135.7" r="1.95"/>
<circle cx="383.3" cy="149.9" r="1.95"/>
<circle cx="384.6" cy="137.6" r="1.95"/>
<circle cx="385.3" cy="154.0" r="1.95"/>
<circle cx="384.4" cy="134.3" r="1.95"/>
<circle cx="384.3" cy="150.9" r="1.95"/>
<circle cx="385.6" cy="135.4" r="1.95"/>
<circle cx="385.4" cy="149.8" r="1.95"/>
<circle cx="386.0" cy="135.1" r="1.95"/>
<circle cx="385.6" cy="152.9" r="1.95"/>
<circle cx="387.2" cy="133.9" r="1.95"/>
<circle cx="386.8" cy="149.5" r="1.95"/>
<circle cx="386.5" cy="137.1" r="1.95"/>
<circle cx="386.8" cy="150.8" r="1.95"/>
<circle cx="387.2" cy="135.8" r="1.95"/>
<circle cx="387.9" cy="152.4" r="1.95"/>
<circle cx="387.9" cy="134.6" r="1.95"/>
<circle cx="387.5" cy="151.6" r="1.95"/>
<circle cx="388.9" cy="135.8" r="1.95"/>
<circle cx="388.0" cy="152.5" r="1.95"/>
<circle cx="388.2" cy="135.7" r="1.95"/>
<circle cx="388.3" cy="151.2" r="1.95"/>
<circle cx="389.9" cy="135.3" r="1.95"/>
<circle cx="389.1" cy="150.4" r="1.95"/>
<circle cx="389.8" cy="134.9" r="1.95"/>
<circle cx="389.2" cy="151.6" r="1.95"/>
<circle cx="389.7" cy="134.2" r="1.95"/>
<circle cx="390.1" cy="151.3" r="1.95"/>
<circle cx="390.8" cy="134.2" r="1.95"/>
<circle cx="390.7" cy="150.9" r="1.95"/>
<circle cx="391.0" cy="134.8" r="1.95"/>
<circle cx="391.4" cy="148.0" r="1.95"/>
<circle cx="390.9" cy="135.1" r="1.95"/>
<circle cx="391.1" cy="151.1" r="1.95"/>
<circle cx="392.1" cy="132.7" r="1.95"/>
<circle cx="391.7" cy="147.1" r="1.95"/>
<circle cx="391.8" cy="135.0" r="1.95"/>
<circle cx="391.7" cy="148.2" r="1.95"/>
<circle cx="393.1" cy="133.3" r="1.95"/>
<circle cx="392.3" cy="150.4" r="1.95"/>
<circle cx="393.3" cy="132.4" r="1.95"/>
<circle cx="393.4" cy="147.8" r="1.95"/>
<circle cx="393.5" cy="133.1" r="1.95"/>
<circle cx="393.9" cy="148.2" r="1.95"/>
<circle cx="394.1" cy="132.6" r="1.95"/>
<circle cx="394.2" cy="146.6" r="1.95"/>
<circle cx="394.2" cy="132.7" r="1.95"/>
<circle cx="395.3" cy="149.5" r="1.95"/>
<circle cx="394.9" cy="132.6" r="1.95"/>
<circle cx="394.6" cy="146.0" r="1.95"/>
<circle cx="396.1" cy="133.5" r="1.95"/>
<circle cx="395.5" cy="147.0" r="1.95"/>
<circle cx="396.0" cy="133.1" r="1.95"/>
<circle cx="396.0" cy="148.8" r="1.95"/>
<circle cx="396.5" cy="132.0" r="1.95"/>
<circle cx="397.0" cy="148.1" r="1.95"/>
<circle cx="396.1" cy="133.5" r="1.95"/>
<circle cx="396.4" cy="148.7" r="1.95"/>
<circle cx="397.4" cy="135.0" r="1.95"/>
<circle cx="397.5" cy="147.1" r="1.95"/>
<circle cx="397.3" cy="133.1" r="1.95"/>
<circle cx="397.8" cy="148.1" r="1.95"/>
<circle cx="398.6" cy="134.5" r="1.95"/>
<circle cx="398.5" cy="148.2" r="1.95"/>
<circle cx="398.6" cy="131.6" r="1.95"/>
<circle cx="398.8" cy="148.8" r="1.95"/>
<circle cx="399.5" cy="135.2" r="1.95"/>
<circle cx="399.7" cy="147.4" r="1.95"/>
<circle cx="398.8" cy="133.9" r="1.95"/>
<circle cx="399.3" cy="147.2" r="1.95"/>
<circle cx="399.8" cy="136.0" r="1.95"/>
<circle cx="400.5" cy="149.9" r="1.95"/>
<circle cx="399.8" cy="134.7" r="1.95"/>
<circle cx="399.6" cy="150.1" r="1.95"/>
<circle cx="401.2" cy="136.6" r="1.95"/>
<circle cx="400.8" cy="149.1" r="1.95"/>
<circle cx="401.2" cy="136.6" r="1.95"/>
<circle cx="400.8" cy="150.5" r="1.95"/>
<circle cx="401.3" cy="134.0" r="1.95"/>
<circle cx="401.6" cy="149.2" r="1.95"/>
<circle cx="401.4" cy="133.1" r="1.95"/>
<circle cx="402.3" cy="150.2" r="1.95"/>
<circle cx="402.2" cy="134.8" r="1.95"/>
<circle cx="402.5" cy="149.4" r="1.95"/>
<circle cx="403.0" cy="133.9" r="1.95"/>
<circle cx="402.9" cy="150.8" r="1.95"/>
<circle cx="403.4" cy="134.7" r="1.95"/>
<circle cx="404.1" cy="149.4" r="1.95"/>
<circle cx="404.1" cy="134.2" r="1.95"/>
<circle cx="404.0" cy="150.1" r="1.95"/>
<circle cx="404.0" cy="133.2" r="1.95"/>
<circle cx="404.1" cy="150.3" r="1.95"/>
<circle cx="404.8" cy="134.2" r="1.95"/>
<circle cx="404.5" cy="148.8" r="1.95"/>
<circle cx="405.5" cy="133.8" r="1.95"/>
<circle cx="405.9" cy="150.1" r="1.95"/>
<circle cx="406.1" cy="135.5" r="1.95"/>
<circle cx="405.3" cy="147.7" r="1.95"/>
<circle cx="407.0" cy="135.1" r="1.95"/>
<circle cx="406.0" cy="151.4" r="1.95"/>
<circle cx="406.3" cy="133.1" r="1.95"/>
<circle cx="406.3" cy="149.1" r="1.95"/>
<circle cx="407.1" cy="133.6" r="1.95"/>
<circle cx="407.0" cy="152.2" r="1.95"/>
<circle cx="406.9" cy="133.0" r="1.95"/>
<circle cx="407.2" cy="149.6" r="1.95"/>
<circle cx="407.8" cy="132.3" r="1.95"/>
<circle cx="407.9" cy="150.5" r="1.95"/>
<circle cx="408.3" cy="131.5" r="1.95"/>
<circle cx="408.5" cy="148.2" r="1.95"/>
<circle cx="409.6" cy="133.5" r="1.95"/>
<circle cx="409.4" cy="150.5" r="1.95"/>
<circle cx="408.6" cy="131.9" r="1.95"/>
<circle cx="409.5" cy="151.7" r="1.95"/>
<circle cx="410.3" cy="130.5" r="1.95"/>
<circle cx="409.8" cy="151.0" r="1.95"/>
<circle cx="409.6" cy="128.7" r="1.95"/>
<circle cx="409.8" cy="149.0" r="1.95"/>
<circle cx="410.4" cy="131.0" r="1.95"/>
<circle cx="411.4" cy="152.9" r="1.95"/>
<circle cx="411.3" cy="130.0" r="1.95"/>
<circle cx="410.4" cy="152.1" r="1.95"/>
<circle cx="411.4" cy="130.5" r="1.95"/>
<circle cx="412.4" cy="150.7" r="1.95"/>
<circle cx="412.3" cy="130.7" r="1.95"/>
<circle cx="412.2" cy="150.7" r="1.95"/>
<circle cx="412.3" cy="131.6" r="1.95"/>
<circle cx="412.7" cy="153.0" r="1.95"/>
<circle cx="412.4" cy="130.4" r="1.95"/>
<circle cx="413.2" cy="152.2" r="1.95"/>
<circle cx="413.9" cy="133.7" r="1.95"/>
<circle cx="413.5" cy="150.9" r="1.95"/>
<circle cx="413.9" cy="128.9" r="1.95"/>
<circle cx="414.0" cy="153.5" r="1.95"/>
<circle cx="414.1" cy="131.5" r="1.95"/>
<circle cx="414.6" cy="152.1" r="1.95"/>
<circle cx="414.4" cy="133.0" r="1.95"/>
<circle cx="414.8" cy="152.1" r="1.95"/>
<circle cx="415.4" cy="133.3" r="1.95"/>
<circle cx="415.4" cy="152.7" r="1.95"/>
<circle cx="414.9" cy="130.1" r="1.95"/>
<circle cx="415.9" cy="153.5" r="1.95"/>
<circle cx="416.3" cy="131.3" r="1.95"/>
<circle cx="416.0" cy="151.4" r="1.95"/>
<circle cx="416.8" cy="131.4" r="1.95"/>
<circle cx="416.4" cy="152.4" r="1.95"/>
<circle cx="416.8" cy="133.6" r="1.95"/>
<circle cx="417.3" cy="153.3" r="1.95"/>
<circle cx="417.4" cy="132.9" r="1.95"/>
<circle cx="416.7" cy="150.8" r="1.95"/>
<circle cx="418.4" cy="135.9" r="1.95"/>
<circle cx="418.0" cy="152.4" r="1.95"/>
<circle cx="418.3" cy="134.4" r="1.95"/>
<circle cx="418.3" cy="151.1" r="1.95"/>
<circle cx="419.2" cy="135.3" r="1.95"/>
<circle cx="419.5" cy="152.1" r="1.95"/>
<circle cx="419.1" cy="136.8" r="1.95"/>
<circle cx="419.6" cy="152.3" r="1.95"/>
<circle cx="419.6" cy="135.7" r="1.95"/>
<circle cx="420.3" cy="153.3" r="1.95"/>
<circle cx="420.1" cy="137.3" r="1.95"/>
<circle cx="419.4" cy="151.7" r="1.95"/>
<circle cx="421.4" cy="137.2" r="1.95"/>
<circle cx="420.3" cy="151.7" r="1.95"/>
<circle cx="420.5" cy="137.9" r="1.95"/>
<circle cx="421.0" cy="151.6" r="1.95"/>
<circle cx="422.2" cy="134.9" r="1.95"/>
<circle cx="421.4" cy="149.9" r="1.95"/>
<circle cx="421.3" cy="138.6" r="1.95"/>
<circle cx="421.2" cy="152.2" r="1.95"/>
<circle cx="423.2" cy="136.0" r="1.95"/>
<circle cx="423.0" cy="151.3" r="1.95"/>
<circle cx="422.2" cy="135.6" r="1.95"/>
<circle cx="422.9" cy="152.0" r="1.95"/>
<circle cx="424.0" cy="135.8" r="1.95"/>
<circle cx="423.9" cy="152.0" r="1.95"/>
<circle cx="423.6" cy="136.3" r="1.95"/>
<circle cx="423.6" cy="150.7" r="1.95"/>
<circle cx="424.5" cy="135.4" r="1.95"/>
<circle cx="423.9" cy="151.5" r="1.95"/>
<circle cx="424.5" cy="134.9" r="1.95"/>
<circle cx="423.8" cy="153.2" r="1.95"/>
<circle cx="425.6" cy="137.9" r="1.95"/>
<circle cx="425.7" cy="152.6" r="1.95"/>
<circle cx="425.2" cy="136.9" r="1.95"/>
<circle cx="424.9" cy="153.5" r="1.95"/>
<circle cx="426.1" cy="138.6" r="1.95"/>
<circle cx="426.3" cy="154.7" r="1.95"/>
<circle cx="426.0" cy="137.7" r="1.95"/>
<circle cx="426.6" cy="153.7" r="1.95"/>
<circle cx="427.5" cy="137.5" r="1.95"/>
<circle cx="426.9" cy="153.6" r="1.95"/>
<circle cx="427.4" cy="137.6" r="1.95"/>
<circle cx="427.7" cy="154.2" r="1.95"/>
<circle cx="428.3" cy="137.5" r="1.95"/>
<circle cx="427.5" cy="153.2" r="1.95"/>
<circle cx="428.2" cy="135.9" r="1.95"/>
<circle cx="427.9" cy="152.4" r="1.95"/>
<circle cx="428.8" cy="136.1" r="1.95"/>
<circle cx="429.4" cy="152.4" r="1.95"/>
<circle cx="429.2" cy="138.2" r="1.95"/>
<circle cx="429.3" cy="151.0" r="1.95"/>
<circle cx="430.1" cy="138.9" r="1.95"/>
<circle cx="430.2" cy="153.8" r="1.95"/>
<circle cx="429.7" cy="137.7" r="1.95"/>
<circle cx="430.3" cy="153.0" r="1.95"/>
<circle cx="430.6" cy="136.6" r="1.95"/>
<circle cx="430.5" cy="152.6" r="1.95"/>
<circle cx="430.5" cy="136.6" r="1.95"/>
<circle cx="430.6" cy="154.0" r="1.95"/>
<circle cx="432.2" cy="135.0" r="1.95"/>
<circle cx="431.9" cy="151.2" r="1.95"/>
<circle cx="432.0" cy="138.6" r="1.95"/>
<circle cx="431.3" cy="153.4" r="1.95"/>
<circle cx="432.2" cy="136.0" r="1.95"/>
<circle cx="432.2" cy="153.6" r="1.95"/>
<circle cx="433.0" cy="137.2" r="1.95"/>
<circle cx="432.8" cy="153.0" r="1.95"/>
<circle cx="433.7" cy="137.8" r="1.95"/>
<circle cx="433.4" cy="152.1" r="1.95"/>
<circle cx="432.9" cy="136.7" r="1.95"/>
<circle cx="433.6" cy="152.6" r="1.95"/>
<circle cx="434.1" cy="134.1" r="1.95"/>
<circle cx="433.9" cy="152.8" r="1.95"/>
<circle cx="434.3" cy="136.2" r="1.95"/>
<circle cx="434.8" cy="152.3" r="1.95"/>
<circle cx="435.1" cy="139.6" r="1.95"/>
<circle cx="435.8" cy="152.6" r="1.95"/>
<circle cx="434.7" cy="138.2" r="1.95"/>
<circle cx="435.7" cy="154.5" r="1.95"/>
<circle cx="435.5" cy="138.8" r="1.95"/>
<circle cx="436.7" cy="155.4" r="1.95"/>
<circle cx="435.7" cy="137.2" r="1.95"/>
<circle cx="436.3" cy="154.2" r="1.95"/>
<circle cx="437.3" cy="139.8" r="1.95"/>
<circle cx="436.7" cy="152.6" r="1.95"/>
<circle cx="436.4" cy="139.5" r="1.95"/>
<circle cx="436.7" cy="152.7" r="1.95"/>
<circle cx="438.5" cy="139.4" r="1.95"/>
<circle cx="438.1" cy="152.2" r="1.95"/>
<circle cx="438.0" cy="140.0" r="1.95"/>
<circle cx="437.4" cy="152.5" r="1.95"/>
<circle cx="438.3" cy="141.4" r="1.95"/>
<circle cx="438.4" cy="153.5" r="1.95"/>
<circle cx="438.3" cy="137.1" r="1.95"/>
<circle cx="439.0" cy="153.5" r="1.95"/>
<circle cx="439.4" cy="140.3" r="1.95"/>
<circle cx="439.2" cy="152.6" r="1.95"/>
<circle cx="439.5" cy="138.7" r="1.95"/>
<circle cx="439.6" cy="154.3" r="1.95"/>
<circle cx="440.9" cy="142.1" r="1.95"/>
<circle cx="440.4" cy="154.9" r="1.95"/>
<circle cx="441.0" cy="142.0" r="1.95"/>
<circle cx="440.3" cy="153.7" r="1.95"/>
<circle cx="441.9" cy="139.8" r="1.95"/>
<circle cx="441.2" cy="151.6" r="1.95"/>
<circle cx="440.9" cy="140.1" r="1.95"/>
<circle cx="441.1" cy="155.7" r="1.95"/>
<circle cx="442.6" cy="137.1" r="1.95"/>
<circle cx="442.0" cy="152.4" r="1.95"/>
<circle cx="442.0" cy="141.4" r="1.95"/>
<circle cx="442.3" cy="155.3" r="1.95"/>
<circle cx="443.5" cy="137.2" r="1.95"/>
<circle cx="442.8" cy="152.9" r="1.95"/>
<circle cx="442.7" cy="138.3" r="1.95"/>
<circle cx="443.9" cy="152.8" r="1.95"/>
<circle cx="444.0" cy="137.2" r="1.95"/>
<circle cx="444.5" cy="152.7" r="1.95"/>
<circle cx="443.9" cy="136.4" r="1.95"/>
<circle cx="443.7" cy="154.4" r="1.95"/>
<circle cx="444.8" cy="137.3" r="1.95"/>
<circle cx="445.0" cy="152.0" r="1.95"/>
<circle cx="445.4" cy="137.2" r="1.95"/>
<circle cx="444.8" cy="153.7" r="1.95"/>
<circle cx="445.9" cy="135.7" r="1.95"/>
<circle cx="446.0" cy="153.8" r="1.95"/>
<circle cx="446.4" cy="138.5" r="1.95"/>
<circle cx="446.4" cy="153.1" r="1.95"/>
<circle cx="446.6" cy="137.9" r="1.95"/>
<circle cx="446.4" cy="152.3" r="1.95"/>
<circle cx="446.9" cy="136.5" r="1.95"/>
<circle cx="446.4" cy="151.5" r="1.95"/>
<circle cx="447.8" cy="136.8" r="1.95"/>
<circle cx="447.7" cy="152.4" r="1.95"/>
<circle cx="447.3" cy="137.4" r="1.95"/>
<circle cx="447.8" cy="152.1" r="1.95"/>
<circle cx="449.2" cy="135.7" r="1.95"/>
<circle cx="448.4" cy="151.0" r="1.95"/>
<circle cx="449.0" cy="133.9" r="1.95"/>
<circle cx="449.3" cy="150.2" r="1.95"/>
<circle cx="450.0" cy="138.2" r="1.95"/>
<circle cx="449.6" cy="152.5" r="1.95"/>
<circle cx="449.3" cy="137.1" r="1.95"/>
<circle cx="449.3" cy="152.8" r="1.95"/>
<circle cx="450.0" cy="135.5" r="1.95"/>
<circle cx="450.5" cy="153.0" r="1.95"/>
<circle cx="450.8" cy="136.9" r="1.95"/>
<circle cx="450.3" cy="150.9" r="1.95"/>
<circle cx="451.0" cy="134.9" r="1.95"/>
<circle cx="450.9" cy="149.2" r="1.95"/>
<circle cx="452.0" cy="134.8" r="1.95"/>
<circle cx="450.8" cy="150.2" r="1.95"/>
<circle cx="452.5" cy="135.1" r="1.95"/>
<circle cx="452.3" cy="149.9" r="1.95"/>
<circle cx="452.6" cy="134.5" r="1.95"/>
<circle cx="452.3" cy="149.7" r="1.95"/>
<circle cx="453.3" cy="134.8" r="1.95"/>
<circle cx="453.6" cy="149.2" r="1.95"/>
<circle cx="453.7" cy="135.0" r="1.95"/>
<circle cx="453.0" cy="147.4" r="1.95"/>
<circle cx="454.6" cy="135.3" r="1.95"/>
<circle cx="454.2" cy="150.3" r="1.95"/>
<circle cx="454.6" cy="135.7" r="1.95"/>
<circle cx="453.5" cy="150.0" r="1.95"/>
<circle cx="454.9" cy="135.2" r="1.95"/>
<circle cx="455.3" cy="150.0" r="1.95"/>
<circle cx="455.1" cy="135.9" r="1.95"/>
<circle cx="455.2" cy="148.9" r="1.95"/>
<circle cx="455.3" cy="135.4" r="1.95"/>
<circle cx="455.9" cy="148.9" r="1.95"/>
<circle cx="455.9" cy="135.9" r="1.95"/>
<circle cx="456.5" cy="148.7" r="1.95"/>
<circle cx="456.9" cy="134.8" r="1.95"/>
<circle cx="456.4" cy="151.2" r="1.95"/>
<circle cx="457.4" cy="133.5" r="1.95"/>
<circle cx="457.4" cy="149.2" r="1.95"/>
<circle cx="457.5" cy="133.2" r="1.95"/>
<circle cx="457.9" cy="149.4" r="1.95"/>
<circle cx="457.1" cy="133.6" r="1.95"/>
<circle cx="458.1" cy="149.3" r="1.95"/>
<circle cx="458.0" cy="132.9" r="1.95"/>
<circle cx="458.5" cy="148.0" r="1.95"/>
<circle cx="458.7" cy="133.5" r="1.95"/>
<circle cx="458.3" cy="148.0" r="1.95"/>
<circle cx="459.0" cy="133.9" r="1.95"/>
<circle cx="459.1" cy="148.2" r="1.95"/>
<circle cx="459.5" cy="131.1" r="1.95"/>
<circle cx="459.0" cy="147.2" r="1.95"/>
<circle cx="460.1" cy="133.6" r="1.95"/>
<circle cx="460.3" cy="149.6" r="1.95"/>
<circle cx="460.3" cy="134.2" r="1.95"/>
<circle cx="460.8" cy="147.1" r="1.95"/>
<circle cx="461.8" cy="132.0" r="1.95"/>
<circle cx="461.2" cy="150.9" r="1.95"/>
<circle cx="460.8" cy="132.9" r="1.95"/>
<circle cx="460.7" cy="147.8" r="1.95"/>
<circle cx="461.9" cy="131.2" r="1.95"/>
<circle cx="462.6" cy="150.9" r="1.95"/>
<circle cx="462.1" cy="129.7" r="1.95"/>
<circle cx="462.6" cy="147.5" r="1.95"/>
<circle cx="463.3" cy="130.9" r="1.95"/>
<circle cx="462.8" cy="147.7" r="1.95"/>
<circle cx="463.3" cy="129.7" r="1.95"/>
<circle cx="463.6" cy="146.6" r="1.95"/>
<circle cx="464.6" cy="131.3" r="1.95"/>
<circle cx="464.5" cy="148.0" r="1.95"/>
<circle cx="464.1" cy="131.9" r="1.95"/>
<circle cx="463.7" cy="149.2" r="1.95"/>
<circle cx="464.6" cy="129.8" r="1.95"/>
<circle cx="465.1" cy="148.6" r="1.95"/>
<circle cx="464.4" cy="130.7" r="1.95"/>
<circle cx="464.9" cy="145.8" r="1.95"/>
<circle cx="466.0" cy="131.5" r="1.95"/>
<circle cx="465.8" cy="148.5" r="1.95"/>
<circle cx="466.0" cy="131.0" r="1.95"/>
<circle cx="465.4" cy="147.0" r="1.95"/>
<circle cx="467.3" cy="132.3" r="1.95"/>
<circle cx="466.6" cy="148.9" r="1.95"/>
<circle cx="467.2" cy="132.4" r="1.95"/>
<circle cx="467.3" cy="151.0" r="1.95"/>
<circle cx="468.1" cy="133.0" r="1.95"/>
<circle cx="467.4" cy="152.9" r="1.95"/>
<circle cx="467.8" cy="132.8" r="1.95"/>
<circle cx="467.3" cy="150.3" r="1.95"/>
<circle cx="468.2" cy="133.4" r="1.95"/>
<circle cx="468.1" cy="152.4" r="1.95"/>
<circle cx="468.4" cy="133.0" r="1.95"/>
<circle cx="468.6" cy="152.3" r="1.95"/>
<circle cx="469.9" cy="133.1" r="1.95"/>
<circle cx="469.6" cy="152.6" r="1.95"/>
<circle cx="469.3" cy="134.7" r="1.95"/>
<circle cx="468.8" cy="154.4" r="1.95"/>
<circle cx="470.5" cy="135.3" r="1.95"/>
<circle cx="470.9" cy="155.3" r="1.95"/>
<circle cx="470.6" cy="135.6" r="1.95"/>
<circle cx="470.5" cy="152.8" r="1.95"/>
<circle cx="471.4" cy="135.7" r="1.95"/>
<circle cx="471.5" cy="154.5" r="1.95"/>
<circle cx="471.0" cy="134.9" r="1.95"/>
<circle cx="471.3" cy="156.9" r="1.95"/>
<circle cx="472.5" cy="135.9" r="1.95"/>
<circle cx="471.7" cy="153.3" r="1.95"/>
<circle cx="471.5" cy="132.9" r="1.95"/>
<circle cx="471.8" cy="154.0" r="1.95"/>
<circle cx="472.5" cy="135.4" r="1.95"/>
<circle cx="473.2" cy="154.2" r="1.95"/>
<circle cx="472.4" cy="134.8" r="1.95"/>
<circle cx="473.3" cy="155.1" r="1.95"/>
<circle cx="474.5" cy="135.1" r="1.95"/>
<circle cx="474.4" cy="154.0" r="1.95"/>
<circle cx="474.5" cy="135.2" r="1.95"/>
<circle cx="473.9" cy="154.8" r="1.95"/>
<circle cx="474.6" cy="133.2" r="1.95"/>
<circle cx="474.5" cy="154.4" r="1.95"/>
<circle cx="474.3" cy="135.1" r="1.95"/>
<circle cx="474.3" cy="154.1" r="1.95"/>
<circle cx="475.8" cy="134.0" r="1.95"/>
<circle cx="476.1" cy="152.6" r="1.95"/>
<circle cx="476.0" cy="133.5" r="1.95"/>
<circle cx="475.3" cy="154.7" r="1.95"/>
<circle cx="477.1" cy="133.8" r="1.95"/>
<circle cx="476.2" cy="153.1" r="1.95"/>
<circle cx="476.8" cy="132.8" r="1.95"/>
<circle cx="476.3" cy="154.5" r="1.95"/>
<circle cx="477.9" cy="134.3" r="1.95"/>
<circle cx="477.6" cy="152.4" r="1.95"/>
<circle cx="477.1" cy="133.5" r="1.95"/>
<circle cx="477.8" cy="150.8" r="1.95"/>
<circle cx="478.1" cy="135.5" r="1.95"/>
<circle cx="478.5" cy="153.5" r="1.95"/>
<circle cx="478.0" cy="134.6" r="1.95"/>
<circle cx="477.9" cy="154.0" r="1.95"/>
<circle cx="479.5" cy="134.0" r="1.95"/>
<circle cx="479.2" cy="153.1" r="1.95"/>
<circle cx="479.3" cy="133.9" r="1.95"/>
<circle cx="479.6" cy="151.9" r="1.95"/>
<circle cx="479.9" cy="133.5" r="1.95"/>
<circle cx="480.4" cy="153.5" r="1.95"/>
<circle cx="480.3" cy="134.6" r="1.95"/>
<circle cx="480.0" cy="151.4" r="1.95"/>
<circle cx="481.3" cy="133.8" r="1.95"/>
<circle cx="480.8" cy="152.2" r="1.95"/>
<circle cx="481.4" cy="134.7" r="1.95"/>
<circle cx="481.7" cy="149.8" r="1.95"/>
<circle cx="482.4" cy="133.4" r="1.95"/>
<circle cx="482.3" cy="152.1" r="1.95"/>
<circle cx="481.5" cy="133.3" r="1.95"/>
<circle cx="481.5" cy="150.8" r="1.95"/>
<circle cx="482.9" cy="135.3" r="1.95"/>
<circle cx="483.4" cy="153.0" r="1.95"/>
<circle cx="482.9" cy="133.9" r="1.95"/>
<circle cx="482.9" cy="151.3" r="1.95"/>
<circle cx="483.8" cy="132.4" r="1.95"/>
<circle cx="483.8" cy="151.8" r="1.95"/>
<circle cx="484.1" cy="134.0" r="1.95"/>
<circle cx="483.7" cy="150.7" r="1.95"/>
<circle cx="484.7" cy="133.5" r="1.95"/>
<circle cx="484.4" cy="152.4" r="1.95"/>
<circle cx="484.5" cy="131.6" r="1.95"/>
<circle cx="485.0" cy="150.9" r="1.95"/>
<circle cx="485.4" cy="130.8" r="1.95"/>
<circle cx="486.1" cy="151.7" r="1.95"/>
<circle cx="485.7" cy="134.4" r="1.95"/>
<circle cx="485.8" cy="151.6" r="1.95"/>
<circle cx="486.2" cy="136.6" r="1.95"/>
<circle cx="487.0" cy="151.8" r="1.95"/>
<circle cx="486.1" cy="131.6" r="1.95"/>
<circle cx="486.3" cy="151.4" r="1.95"/>
<circle cx="486.9" cy="133.2" r="1.95"/>
<circle cx="487.3" cy="149.2" r="1.95"/>
<circle cx="486.9" cy="132.7" r="1.95"/>
<circle cx="488.0" cy="151.6" r="1.95"/>
<circle cx="487.8" cy="132.6" r="1.95"/>
<circle cx="487.9" cy="153.5" r="1.95"/>
<circle cx="487.8" cy="133.7" r="1.95"/>
<circle cx="488.3" cy="151.8" r="1.95"/>
<circle cx="489.6" cy="133.3" r="1.95"/>
<circle cx="489.5" cy="152.4" r="1.95"/>
<circle cx="489.1" cy="132.6" r="1.95"/>
<circle cx="488.9" cy="152.2" r="1.95"/>
<circle cx="490.7" cy="133.5" r="1.95"/>
<circle cx="490.4" cy="152.3" r="1.95"/>
<circle cx="490.6" cy="133.9" r="1.95"/>
<circle cx="490.6" cy="150.9" r="1.95"/>
<circle cx="491.1" cy="132.3" r="1.95"/>
<circle cx="491.3" cy="152.8" r="1.95"/>
<circle cx="491.3" cy="133.1" r="1.95"/>
<circle cx="491.5" cy="152.1" r="1.95"/>
<circle cx="491.4" cy="132.8" r="1.95"/>
<circle cx="491.6" cy="150.4" r="1.95"/>
<circle cx="491.6" cy="128.8" r="1.95"/>
<circle cx="491.5" cy="152.1" r="1.95"/>
<circle cx="493.2" cy="131.8" r="1.95"/>
<circle cx="493.1" cy="151.9" r="1.95"/>
<circle cx="492.6" cy="132.6" r="1.95"/>
<circle cx="493.2" cy="152.3" r="1.95"/>
<circle cx="494.1" cy="131.8" r="1.95"/>
<circle cx="494.0" cy="150.9" r="1.95"/>
<circle cx="493.8" cy="134.3" r="1.95"/>
<circle cx="493.5" cy="149.3" r="1.95"/>
<circle cx="495.0" cy="132.1" r="1.95"/>
<circle cx="494.4" cy="150.0" r="1.95"/>
<circle cx="494.4" cy="131.0" r="1.95"/>
<circle cx="494.1" cy="151.8" r="1.95"/>
<circle cx="495.2" cy="132.6" r="1.95"/>
<circle cx="495.7" cy="150.0" r="1.95"/>
<circle cx="496.0" cy="131.6" r="1.95"/>
<circle cx="496.0" cy="149.8" r="1.95"/>
<circle cx="496.8" cy="133.2" r="1.95"/>
<circle cx="496.7" cy="150.4" r="1.95"/>
<circle cx="496.8" cy="131.3" r="1.95"/>
<circle cx="496.3" cy="152.2" r="1.95"/>
<circle cx="497.7" cy="132.4" r="1.95"/>
<circle cx="497.1" cy="152.0" r="1.95"/>
<circle cx="497.7" cy="130.1" r="1.95"/>
<circle cx="497.7" cy="152.8" r="1.95"/>
<circle cx="498.7" cy="133.5" r="1.95"/>
<circle cx="498.5" cy="154.3" r="1.95"/>
<circle cx="498.4" cy="131.5" r="1.95"/>
<circle cx="498.6" cy="151.8" r="1.95"/>
<circle cx="499.2" cy="131.0" r="1.95"/>
<circle cx="499.4" cy="153.6" r="1.95"/>
<circle cx="499.4" cy="132.6" r="1.95"/>
<circle cx="498.9" cy="152.7" r="1.95"/>
<circle cx="499.7" cy="133.3" r="1.95"/>
<circle cx="499.4" cy="155.1" r="1.95"/>
<circle cx="500.4" cy="132.5" r="1.95"/>
<circle cx="499.5" cy="154.9" r="1.95"/>
<circle cx="501.2" cy="133.2" r="1.95"/>
<circle cx="500.8" cy="156.9" r="1.95"/>
<circle cx="501.3" cy="133.7" r="1.95"/>
<circle cx="501.1" cy="155.4" r="1.95"/>
<circle cx="502.3" cy="130.5" r="1.95"/>
<circle cx="502.1" cy="156.5" r="1.95"/>
<circle cx="501.6" cy="134.1" r="1.95"/>
<circle cx="501.3" cy="154.9" r="1.95"/>
<circle cx="502.8" cy="133.8" r="1.95"/>
<circle cx="502.7" cy="154.5" r="1.95"/>
<circle cx="502.6" cy="134.4" r="1.95"/>
<circle cx="502.3" cy="154.5" r="1.95"/>
<circle cx="503.4" cy="131.3" r="1.95"/>
<circle cx="503.8" cy="157.8" r="1.95"/>
<circle cx="503.1" cy="133.5" r="1.95"/>
<circle cx="503.7" cy="155.3" r="1.95"/>
<circle cx="504.4" cy="133.2" r="1.95"/>
<circle cx="504.0" cy="153.9" r="1.95"/>
<circle cx="504.5" cy="134.3" r="1.95"/>
<circle cx="504.3" cy="153.3" r="1.95"/>
<circle cx="505.1" cy="133.5" r="1.95"/>
<circle cx="505.1" cy="152.7" r="1.95"/>
<circle cx="505.9" cy="134.8" r="1.95"/>
<circle cx="505.3" cy="154.8" r="1.95"/>
<circle cx="506.6" cy="134.3" r="1.95"/>
<circle cx="506.1" cy="154.0" r="1.95"/>
<circle cx="506.1" cy="133.4" r="1.95"/>
<circle cx="506.4" cy="153.6" r="1.95"/>
<circle cx="507.2" cy="133.1" r="1.95"/>
<circle cx="507.7" cy="153.1" r="1.95"/>
<circle cx="507.8" cy="131.4" r="1.95"/>
<circle cx="506.8" cy="152.9" r="1.95"/>
<circle cx="508.6" cy="131.4" r="1.95"/>
<circle cx="508.5" cy="152.3" r="1.95"/>
<circle cx="507.9" cy="134.0" r="1.95"/>
<circle cx="507.5" cy="152.6" r="1.95"/>
<circle cx="509.0" cy="135.3" r="1.95"/>
<circle cx="509.5" cy="150.8" r="1.95"/>
<circle cx="509.0" cy="134.6" r="1.95"/>
<circle cx="508.6" cy="151.7" r="1.95"/>
<circle cx="510.1" cy="133.5" r="1.95"/>
<circle cx="510.0" cy="150.4" r="1.95"/>
<circle cx="509.6" cy="132.9" r="1.95"/>
<circle cx="509.9" cy="152.9" r="1.95"/>
<circle cx="510.8" cy="133.1" r="1.95"/>
<circle cx="510.6" cy="151.0" r="1.95"/>
<circle cx="511.1" cy="133.0" r="1.95"/>
<circle cx="510.5" cy="150.0" r="1.95"/>
<circle cx="511.7" cy="133.6" r="1.95"/>
<circle cx="512.2" cy="151.9" r="1.95"/>
<circle cx="511.3" cy="131.3" r="1.95"/>
<circle cx="512.0" cy="149.4" r="1.95"/>
<circle cx="512.9" cy="132.7" r="1.95"/>
<circle cx="513.0" cy="149.5" r="1.95"/>
<circle cx="513.1" cy="135.6" r="1.95"/>
<circle cx="512.5" cy="151.3" r="1.95"/>
<circle cx="513.0" cy="134.8" r="1.95"/>
<circle cx="513.7" cy="151.3" r="1.95"/>
<circle cx="513.1" cy="131.2" r="1.95"/>
<circle cx="514.1" cy="150.8" r="1.95"/>
<circle cx="514.2" cy="133.0" r="1.95"/>
<circle cx="514.0" cy="149.5" r="1.95"/>
<circle cx="514.0" cy="131.5" r="1.95"/>
<circle cx="514.2" cy="151.3" r="1.95"/>
<circle cx="514.9" cy="133.0" r="1.95"/>
<circle cx="514.9" cy="150.9" r="1.95"/>
<circle cx="515.1" cy="132.1" r="1.95"/>
<circle cx="515.3" cy="150.4" r="1.95"/>
<circle cx="516.1" cy="134.3" r="1.95"/>
<circle cx="516.7" cy="150.2" r="1.95"/>
<circle cx="516.2" cy="133.4" r="1.95"/>
<circle cx="515.8" cy="151.9" r="1.95"/>
<circle cx="516.7" cy="134.6" r="1.95"/>
<circle cx="517.7" cy="151.2" r="1.95"/>
<circle cx="517.0" cy="132.1" r="1.95"/>
<circle cx="516.9" cy="151.4" r="1.95"/>
<circle cx="518.2" cy="132.0" r="1.95"/>
<circle cx="518.4" cy="150.6" r="1.95"/>
<circle cx="518.1" cy="134.8" r="1.95"/>
<circle cx="518.3" cy="150.3" r="1.95"/>
<circle cx="518.7" cy="130.0" r="1.95"/>
<circle cx="518.8" cy="147.9" r="1.95"/>
<circle cx="518.8" cy="131.4" r="1.95"/>
<circle cx="519.1" cy="151.3" r="1.95"/>
<circle cx="520.1" cy="131.9" r="1.95"/>
<circle cx="519.6" cy="149.3" r="1.95"/>
<circle cx="520.2" cy="131.7" r="1.95"/>
<circle cx="520.0" cy="148.0" r="1.95"/>
<circle cx="520.5" cy="132.1" r="1.95"/>
<circle cx="520.6" cy="148.7" r="1.95"/>
<circle cx="520.3" cy="132.6" r="1.95"/>
<circle cx="521.1" cy="150.9" r="1.95"/>
<circle cx="521.0" cy="129.4" r="1.95"/>
<circle cx="521.6" cy="150.1" r="1.95"/>
<circle cx="521.4" cy="130.9" r="1.95"/>
<circle cx="521.6" cy="148.2" r="1.95"/>
<circle cx="523.0" cy="128.3" r="1.95"/>
<circle cx="522.3" cy="147.4" r="1.95"/>
<circle cx="522.4" cy="127.6" r="1.95"/>
<circle cx="522.2" cy="147.1" r="1.95"/>
<circle cx="523.2" cy="127.5" r="1.95"/>
<circle cx="523.9" cy="148.7" r="1.95"/>
<circle cx="523.4" cy="128.2" r="1.95"/>
<circle cx="523.8" cy="149.0" r="1.95"/>
<circle cx="523.9" cy="127.4" r="1.95"/>
<circle cx="523.9" cy="147.3" r="1.95"/>
<circle cx="523.8" cy="127.7" r="1.95"/>
<circle cx="524.0" cy="146.9" r="1.95"/>
<circle cx="524.7" cy="126.4" r="1.95"/>
<circle cx="525.5" cy="149.0" r="1.95"/>
<circle cx="525.7" cy="128.0" r="1.95"/>
<circle cx="525.7" cy="146.5" r="1.95"/>
<circle cx="525.6" cy="126.8" r="1.95"/>
<circle cx="525.7" cy="146.0" r="1.95"/>
<circle cx="526.4" cy="126.4" r="1.95"/>
<circle cx="525.6" cy="145.7" r="1.95"/>
<circle cx="527.4" cy="124.8" r="1.95"/>
<circle cx="527.6" cy="144.5" r="1.95"/>
<circle cx="526.4" cy="125.4" r="1.95"/>
<circle cx="526.4" cy="146.3" r="1.95"/>
<circle cx="528.1" cy="123.9" r="1.95"/>
<circle cx="527.5" cy="144.8" r="1.95"/>
<circle cx="527.5" cy="122.9" r="1.95"/>
<circle cx="528.5" cy="144.1" r="1.95"/>
<circle cx="528.6" cy="126.0" r="1.95"/>
<circle cx="528.7" cy="143.4" r="1.95"/>
<circle cx="528.5" cy="125.1" r="1.95"/>
<circle cx="529.4" cy="146.8" r="1.95"/>
<circle cx="529.9" cy="125.4" r="1.95"/>
<circle cx="529.3" cy="142.6" r="1.95"/>
<circle cx="529.5" cy="125.0" r="1.95"/>
<circle cx="529.7" cy="141.5" r="1.95"/>
<circle cx="530.8" cy="126.3" r="1.95"/>
<circle cx="530.9" cy="142.7" r="1.95"/>
<circle cx="530.7" cy="122.7" r="1.95"/>
<circle cx="530.7" cy="143.2" r="1.95"/>
<circle cx="531.3" cy="122.5" r="1.95"/>
<circle cx="531.9" cy="145.8" r="1.95"/>
<circle cx="532.0" cy="124.1" r="1.95"/>
<circle cx="531.1" cy="143.8" r="1.95"/>
<circle cx="532.3" cy="124.5" r="1.95"/>
<circle cx="532.8" cy="145.5" r="1.95"/>
<circle cx="532.7" cy="124.4" r="1.95"/>
<circle cx="532.8" cy="145.6" r="1.95"/>
<circle cx="533.2" cy="123.5" r="1.95"/>
<circle cx="533.6" cy="145.9" r="1.95"/>
<circle cx="533.2" cy="127.1" r="1.95"/>
<circle cx="533.8" cy="146.5" r="1.95"/>
<circle cx="534.3" cy="122.2" r="1.95"/>
<circle cx="533.9" cy="147.9" r="1.95"/>
<circle cx="534.7" cy="123.2" r="1.95"/>
<circle cx="534.6" cy="144.8" r="1.95"/>
<circle cx="535.7" cy="120.5" r="1.95"/>
<circle cx="535.4" cy="145.3" r="1.95"/>
<circle cx="534.8" cy="120.3" r="1.95"/>
<circle cx="535.5" cy="145.8" r="1.95"/>
<circle cx="536.0" cy="119.3" r="1.95"/>
<circle cx="535.5" cy="148.5" r="1.95"/>
<circle cx="536.5" cy="119.8" r="1.95"/>
<circle cx="536.3" cy="145.2" r="1.95"/>
<circle cx="537.0" cy="122.3" r="1.95"/>
<circle cx="536.8" cy="145.3" r="1.95"/>
<circle cx="537.4" cy="122.7" r="1.95"/>
<circle cx="536.4" cy="147.2" r="1.95"/>
<circle cx="537.5" cy="123.9" r="1.95"/>
<circle cx="537.7" cy="148.0" r="1.95"/>
<circle cx="538.1" cy="122.0" r="1.95"/>
<circle cx="538.0" cy="148.4" r="1.95"/>
<circle cx="538.2" cy="121.3" r="1.95"/>
<circle cx="538.4" cy="146.8" r="1.95"/>
<circle cx="538.9" cy="123.1" r="1.95"/>
<circle cx="539.2" cy="147.9" r="1.95"/>
<circle cx="540.1" cy="125.7" r="1.95"/>
<circle cx="539.7" cy="147.0" r="1.95"/>
<circle cx="540.0" cy="124.5" r="1.95"/>
<circle cx="540.0" cy="145.7" r="1.95"/>
<circle cx="540.4" cy="126.7" r="1.95"/>
<circle cx="540.0" cy="147.1" r="1.95"/>
<circle cx="540.8" cy="126.5" r="1.95"/>
<circle cx="540.0" cy="148.9" r="1.95"/>
<circle cx="542.0" cy="124.1" r="1.95"/>
<circle cx="541.0" cy="147.9" r="1.95"/>
<circle cx="541.6" cy="125.4" r="1.95"/>
<circle cx="541.8" cy="149.0" r="1.95"/>
<circle cx="541.7" cy="126.1" r="1.95"/>
<circle cx="542.7" cy="149.4" r="1.95"/>
<circle cx="542.8" cy="127.9" r="1.95"/>
<circle cx="542.3" cy="149.6" r="1.95"/>
<circle cx="543.5" cy="127.1" r="1.95"/>
<circle cx="543.7" cy="149.1" r="1.95"/>
<circle cx="542.8" cy="128.7" r="1.95"/>
<circle cx="542.7" cy="151.9" r="1.95"/>
<circle cx="543.7" cy="126.8" r="1.95"/>
<circle cx="543.7" cy="151.1" r="1.95"/>
<circle cx="544.6" cy="125.8" r="1.95"/>
<circle cx="543.8" cy="151.4" r="1.95"/>
<circle cx="545.5" cy="129.0" r="1.95"/>
<circle cx="545.1" cy="154.5" r="1.95"/>
<circle cx="545.6" cy="128.7" r="1.95"/>
<circle cx="545.0" cy="150.2" r="1.95"/>
<circle cx="546.3" cy="128.7" r="1.95"/>
<circle cx="546.4" cy="152.8" r="1.95"/>
<circle cx="546.3" cy="128.4" r="1.95"/>
<circle cx="545.6" cy="150.8" r="1.95"/>
<circle cx="546.8" cy="131.2" r="1.95"/>
<circle cx="547.3" cy="150.5" r="1.95"/>
<circle cx="546.4" cy="129.3" r="1.95"/>
<circle cx="546.7" cy="151.9" r="1.95"/>
<circle cx="547.3" cy="131.4" r="1.95"/>
<circle cx="547.7" cy="155.0" r="1.95"/>
<circle cx="547.4" cy="129.5" r="1.95"/>
<circle cx="548.0" cy="155.1" r="1.95"/>
<circle cx="548.7" cy="132.5" r="1.95"/>
<circle cx="548.4" cy="156.8" r="1.95"/>
<circle cx="549.2" cy="131.9" r="1.95"/>
<circle cx="548.7" cy="154.6" r="1.95"/>
<circle cx="550.1" cy="130.8" r="1.95"/>
<circle cx="549.3" cy="156.3" r="1.95"/>
<circle cx="548.9" cy="132.1" r="1.95"/>
<circle cx="549.2" cy="155.9" r="1.95"/>
<circle cx="550.6" cy="129.9" r="1.95"/>
<circle cx="550.6" cy="154.9" r="1.95"/>
<circle cx="550.2" cy="134.2" r="1.95"/>
<circle cx="550.5" cy="155.5" r="1.95"/>
<circle cx="551.7" cy="133.5" r="1.95"/>
<circle cx="551.4" cy="155.6" r="1.95"/>
<circle cx="551.1" cy="135.0" r="1.95"/>
<circle cx="551.9" cy="156.4" r="1.95"/>
<circle cx="551.7" cy="137.1" r="1.95"/>
<circle cx="551.8" cy="157.2" r="1.95"/>
<circle cx="552.2" cy="137.3" r="1.95"/>
<circle cx="552.4" cy="158.7" r="1.95"/>
<circle cx="553.3" cy="140.4" r="1.95"/>
<circle cx="553.3" cy="156.1" r="1.95"/>
<circle cx="553.4" cy="137.5" r="1.95"/>
<circle cx="553.0" cy="157.7" r="1.95"/>
<circle cx="554.6" cy="138.0" r="1.95"/>
<circle cx="553.4" cy="159.7" r="1.95"/>
<circle cx="553.9" cy="139.9" r="1.95"/>
<circle cx="554.4" cy="157.4" r="1.95"/>
<circle cx="554.3" cy="140.3" r="1.95"/>
<circle cx="555.3" cy="159.6" r="1.95"/>
<circle cx="554.4" cy="140.9" r="1.95"/>
<circle cx="555.4" cy="158.5" r="1.95"/>
<circle cx="555.8" cy="139.8" r="1.95"/>
<circle cx="555.7" cy="162.3" r="1.95"/>
<circle cx="556.0" cy="143.3" r="1.95"/>
<circle cx="556.4" cy="160.4" r="1.95"/>
<circle cx="556.2" cy="142.4" r="1.95"/>
<circle cx="556.3" cy="159.1" r="1.95"/>
<circle cx="556.5" cy="140.9" r="1.95"/>
<circle cx="557.3" cy="157.6" r="1.95"/>
<circle cx="558.2" cy="142.4" r="1.95"/>
<circle cx="557.2" cy="159.5" r="1.95"/>
<circle cx="557.9" cy="142.6" r="1.95"/>
<circle cx="558.1" cy="160.4" r="1.95"/>
<circle cx="558.2" cy="145.3" r="1.95"/>
<circle cx="558.1" cy="161.9" r="1.95"/>
<circle cx="558.6" cy="145.1" r="1.95"/>
<circle cx="558.5" cy="160.6" r="1.95"/>
<circle cx="559.5" cy="144.8" r="1.95"/>
<circle cx="559.5" cy="161.3" r="1.95"/>
<circle cx="558.8" cy="147.1" r="1.95"/>
<circle cx="559.1" cy="162.2" r="1.95"/>
<circle cx="560.6" cy="146.5" r="1.95"/>
<circle cx="560.0" cy="163.8" r="1.95"/>
<circle cx="559.8" cy="145.2" r="1.95"/>
<circle cx="560.1" cy="161.7" r="1.95"/>
<circle cx="561.5" cy="147.1" r="1.95"/>
<circle cx="561.6" cy="163.1" r="1.95"/>
<circle cx="561.1" cy="144.1" r="1.95"/>
<circle cx="561.3" cy="161.3" r="1.95"/>
<circle cx="561.7" cy="147.7" r="1.95"/>
<circle cx="561.9" cy="161.3" r="1.95"/>
<circle cx="561.6" cy="146.5" r="1.95"/>
<circle cx="561.9" cy="160.1" r="1.95"/>
<circle cx="563.0" cy="148.5" r="1.95"/>
<circle cx="562.6" cy="160.5" r="1.95"/>
<circle cx="562.8" cy="146.5" r="1.95"/>
<circle cx="563.2" cy="163.2" r="1.95"/>
<circle cx="563.8" cy="148.3" r="1.95"/>
<circle cx="563.4" cy="161.0" r="1.95"/>
<circle cx="564.3" cy="147.7" r="1.95"/>
<circle cx="564.1" cy="160.1" r="1.95"/>
<circle cx="564.3" cy="147.5" r="1.95"/>
<circle cx="564.3" cy="160.4" r="1.95"/>
<circle cx="565.1" cy="148.3" r="1.95"/>
<circle cx="564.4" cy="159.0" r="1.95"/>
<circle cx="565.9" cy="147.0" r="1.95"/>
<circle cx="565.2" cy="161.3" r="1.95"/>
<circle cx="566.2" cy="149.5" r="1.95"/>
<circle cx="565.6" cy="160.6" r="1.95"/>
<circle cx="566.2" cy="150.1" r="1.95"/>
<circle cx="567.2" cy="161.7" r="1.95"/>
<circle cx="566.4" cy="148.4" r="1.95"/>
<circle cx="566.3" cy="162.5" r="1.95"/>
<circle cx="567.4" cy="148.0" r="1.95"/>
<circle cx="567.1" cy="159.7" r="1.95"/>
<circle cx="567.0" cy="144.9" r="1.95"/>
<circle cx="568.0" cy="159.9" r="1.95"/>
<circle cx="567.9" cy="147.0" r="1.95"/>
<circle cx="568.0" cy="161.0" r="1.95"/>
<circle cx="568.6" cy="146.2" r="1.95"/>
<circle cx="568.2" cy="161.1" r="1.95"/>
<circle cx="569.8" cy="148.8" r="1.95"/>
<circle cx="568.9" cy="160.0" r="1.95"/>
<circle cx="569.3" cy="149.6" r="1.95"/>
<circle cx="569.5" cy="162.5" r="1.95"/>
<circle cx="570.3" cy="148.6" r="1.95"/>
<circle cx="570.5" cy="161.3" r="1.95"/>
<circle cx="570.6" cy="149.0" r="1.95"/>
<circle cx="569.7" cy="162.1" r="1.95"/>
<circle cx="571.2" cy="147.9" r="1.95"/>
<circle cx="571.3" cy="160.5" r="1.95"/>
<circle cx="570.9" cy="147.9" r="1.95"/>
<circle cx="571.7" cy="160.6" r="1.95"/>
<circle cx="571.9" cy="148.6" r="1.95"/>
<circle cx="572.3" cy="161.8" r="1.95"/>
<circle cx="572.4" cy="147.6" r="1.95"/>
<circle cx="572.4" cy="161.2" r="1.95"/>
<circle cx="573.2" cy="148.6" r="1.95"/>
<circle cx="573.1" cy="162.6" r="1.95"/>
<circle cx="572.3" cy="148.8" r="1.95"/>
<circle cx="573.3" cy="162.1" r="1.95"/>
<circle cx="574.4" cy="146.1" r="1.95"/>
<circle cx="574.1" cy="164.2" r="1.95"/>
<circle cx="574.2" cy="144.5" r="1.95"/>
<circle cx="574.0" cy="160.1" r="1.95"/>
<circle cx="575.2" cy="146.1" r="1.95"/>
<circle cx="574.7" cy="161.5" r="1.95"/>
<circle cx="574.7" cy="146.2" r="1.95"/>
<circle cx="574.7" cy="162.8" r="1.95"/>
<circle cx="575.7" cy="146.5" r="1.95"/>
<circle cx="575.6" cy="162.8" r="1.95"/>
<circle cx="575.6" cy="144.8" r="1.95"/>
<circle cx="575.2" cy="162.7" r="1.95"/>
<circle cx="576.5" cy="145.5" r="1.95"/>
<circle cx="576.7" cy="163.8" r="1.95"/>
<circle cx="576.8" cy="145.0" r="1.95"/>
<circle cx="577.0" cy="161.7" r="1.95"/>
<circle cx="577.4" cy="144.7" r="1.95"/>
<circle cx="577.3" cy="162.5" r="1.95"/>
<circle cx="577.7" cy="146.0" r="1.95"/>
<circle cx="577.7" cy="160.5" r="1.95"/>
<circle cx="578.0" cy="144.0" r="1.95"/>
<circle cx="578.1" cy="162.2" r="1.95"/>
<circle cx="578.1" cy="145.2" r="1.95"/>
<circle cx="577.9" cy="159.9" r="1.95"/>
<circle cx="578.9" cy="146.6" r="1.95"/>
<circle cx="579.4" cy="160.4" r="1.95"/>
<circle cx="579.4" cy="145.8" r="1.95"/>
<circle cx="578.7" cy="161.2" r="1.95"/>
<circle cx="579.9" cy="150.3" r="1.95"/>
<circle cx="580.1" cy="163.1" r="1.95"/>
<circle cx="580.3" cy="149.4" r="1.95"/>
<circle cx="579.8" cy="162.0" r="1.95"/>
<circle cx="580.8" cy="150.0" r="1.95"/>
<circle cx="581.3" cy="164.1" r="1.95"/>
<circle cx="581.0" cy="147.7" r="1.95"/>
<circle cx="581.0" cy="163.5" r="1.95"/>
<circle cx="582.2" cy="151.2" r="1.95"/>
<circle cx="582.3" cy="161.6" r="1.95"/>
<circle cx="581.8" cy="148.5" r="1.95"/>
<circle cx="582.5" cy="163.6" r="1.95"/>
<circle cx="582.4" cy="150.7" r="1.95"/>
<circle cx="583.3" cy="164.2" r="1.95"/>
<circle cx="583.2" cy="149.0" r="1.95"/>
<circle cx="583.3" cy="165.5" r="1.95"/>
<circle cx="583.6" cy="150.6" r="1.95"/>
<circle cx="583.5" cy="166.0" r="1.95"/>
<circle cx="583.2" cy="150.9" r="1.95"/>
<circle cx="583.6" cy="163.3" r="1.95"/>
<circle cx="584.7" cy="149.5" r="1.95"/>
<circle cx="584.5" cy="164.9" r="1.95"/>
<circle cx="584.5" cy="150.7" r="1.95"/>
<circle cx="584.9" cy="164.7" r="1.95"/>
<circle cx="585.3" cy="148.5" r="1.95"/>
<circle cx="585.1" cy="163.7" r="1.95"/>
<circle cx="584.9" cy="148.5" r="1.95"/>
<circle cx="585.3" cy="163.7" r="1.95"/>
<circle cx="586.0" cy="150.5" r="1.95"/>
<circle cx="586.1" cy="163.7" r="1.95"/>
<circle cx="586.5" cy="148.0" r="1.95"/>
<circle cx="585.8" cy="165.3" r="1.95"/>
<circle cx="587.1" cy="147.8" r="1.95"/>
<circle cx="587.3" cy="165.0" r="1.95"/>
<circle cx="586.8" cy="149.1" r="1.95"/>
<circle cx="587.2" cy="167.3" r="1.95"/>
<circle cx="588.0" cy="149.8" r="1.95"/>
<circle cx="588.8" cy="166.2" r="1.95"/>
<circle cx="587.9" cy="149.9" r="1.95"/>
<circle cx="588.3" cy="165.8" r="1.95"/>
<circle cx="589.0" cy="151.8" r="1.95"/>
<circle cx="589.5" cy="167.2" r="1.95"/>
<circle cx="588.8" cy="150.0" r="1.95"/>
<circle cx="589.7" cy="165.4" r="1.95"/>
<circle cx="589.5" cy="149.6" r="1.95"/>
<circle cx="590.1" cy="167.6" r="1.95"/>
<circle cx="590.3" cy="151.0" r="1.95"/>
<circle cx="589.9" cy="165.7" r="1.95"/>
<circle cx="591.3" cy="151.4" r="1.95"/>
<circle cx="591.2" cy="167.8" r="1.95"/>
<circle cx="590.8" cy="151.2" r="1.95"/>
<circle cx="590.9" cy="167.2" r="1.95"/>
<circle cx="591.5" cy="151.6" r="1.95"/>
<circle cx="591.3" cy="167.4" r="1.95"/>
<circle cx="591.6" cy="149.8" r="1.95"/>
<circle cx="591.5" cy="168.0" r="1.95"/>
<circle cx="592.9" cy="148.2" r="1.95"/>
<circle cx="592.3" cy="167.3" r="1.95"/>
<circle cx="592.7" cy="150.4" r="1.95"/>
<circle cx="593.1" cy="167.7" r="1.95"/>
<circle cx="593.3" cy="152.8" r="1.95"/>
<circle cx="593.4" cy="167.3" r="1.95"/>
<circle cx="593.7" cy="151.1" r="1.95"/>
<circle cx="593.1" cy="167.7" r="1.95"/>
<circle cx="595.0" cy="152.0" r="1.95"/>
<circle cx="594.7" cy="169.0" r="1.95"/>
<circle cx="594.5" cy="151.9" r="1.95"/>
<circle cx="594.9" cy="169.5" r="1.95"/>
<circle cx="595.2" cy="150.3" r="1.95"/>
<circle cx="595.2" cy="170.5" r="1.95"/>
<circle cx="595.3" cy="153.8" r="1.95"/>
<circle cx="595.6" cy="170.5" r="1.95"/>
<circle cx="596.2" cy="152.6" r="1.95"/>
<circle cx="596.6" cy="169.9" r="1.95"/>
<circle cx="596.2" cy="153.9" r="1.95"/>
<circle cx="596.6" cy="168.4" r="1.95"/>
<circle cx="596.6" cy="154.4" r="1.95"/>
<circle cx="597.4" cy="172.9" r="1.95"/>
<circle cx="597.4" cy="152.4" r="1.95"/>
<circle cx="596.8" cy="169.9" r="1.95"/>
<circle cx="597.7" cy="153.1" r="1.95"/>
<circle cx="597.8" cy="168.9" r="1.95"/>
<circle cx="598.3" cy="155.3" r="1.95"/>
<circle cx="597.7" cy="171.6" r="1.95"/>
<circle cx="599.0" cy="153.8" r="1.95"/>
<circle cx="598.6" cy="171.7" r="1.95"/>
<circle cx="599.0" cy="153.9" r="1.95"/>
<circle cx="598.8" cy="169.9" r="1.95"/>
<circle cx="600.1" cy="152.5" r="1.95"/>
<circle cx="600.2" cy="169.3" r="1.95"/>
<circle cx="600.0" cy="154.3" r="1.95"/>
<circle cx="600.3" cy="171.0" r="1.95"/>
<circle cx="600.9" cy="153.8" r="1.95"/>
<circle cx="600.7" cy="168.0" r="1.95"/>
<circle cx="601.4" cy="154.6" r="1.95"/>
<circle cx="600.3" cy="167.6" r="1.95"/>
<circle cx="601.8" cy="156.3" r="1.95"/>
<circle cx="602.3" cy="169.1" r="1.95"/>
<circle cx="602.0" cy="153.3" r="1.95"/>
<circle cx="601.3" cy="170.9" r="1.95"/>
<circle cx="603.0" cy="153.0" r="1.95"/>
<circle cx="603.1" cy="167.9" r="1.95"/>
<circle cx="602.5" cy="154.1" r="1.95"/>
<circle cx="602.6" cy="166.4" r="1.95"/>
<circle cx="603.9" cy="153.7" r="1.95"/>
<circle cx="603.3" cy="170.0" r="1.95"/>
<circle cx="602.9" cy="152.7" r="1.95"/>
<circle cx="603.0" cy="168.0" r="1.95"/>
<circle cx="604.5" cy="153.3" r="1.95"/>
<circle cx="604.2" cy="167.8" r="1.95"/>
<circle cx="604.1" cy="155.0" r="1.95"/>
<circle cx="604.8" cy="166.1" r="1.95"/>
<circle cx="605.9" cy="150.5" r="1.95"/>
<circle cx="605.0" cy="167.9" r="1.95"/>
<circle cx="605.8" cy="153.2" r="1.95"/>
<circle cx="605.0" cy="165.3" r="1.95"/>
<circle cx="605.7" cy="153.6" r="1.95"/>
<circle cx="606.3" cy="166.2" r="1.95"/>
<circle cx="606.6" cy="153.4" r="1.95"/>
<circle cx="606.2" cy="168.3" r="1.95"/>
<circle cx="607.4" cy="151.3" r="1.95"/>
<circle cx="607.6" cy="166.9" r="1.95"/>
<circle cx="606.8" cy="152.0" r="1.95"/>
<circle cx="606.8" cy="164.4" r="1.95"/>
<circle cx="608.2" cy="151.1" r="1.95"/>
<circle cx="607.7" cy="166.9" r="1.95"/>
<circle cx="608.5" cy="150.8" r="1.95"/>
<circle cx="608.0" cy="167.5" r="1.95"/>
<circle cx="608.3" cy="151.7" r="1.95"/>
<circle cx="609.4" cy="164.3" r="1.95"/>
<circle cx="608.7" cy="151.9" r="1.95"/>
<circle cx="609.2" cy="167.3" r="1.95"/>
<circle cx="610.0" cy="150.9" r="1.95"/>
<circle cx="609.4" cy="167.5" r="1.95"/>
<circle cx="610.3" cy="150.7" r="1.95"/>
<circle cx="610.1" cy="166.9" r="1.95"/>
<circle cx="610.3" cy="152.3" r="1.95"/>
<circle cx="611.1" cy="166.0" r="1.95"/>
<circle cx="610.2" cy="152.3" r="1.95"/>
<circle cx="610.7" cy="168.8" r="1.95"/>
<circle cx="611.5" cy="152.2" r="1.95"/>
<circle cx="611.5" cy="167.2" r="1.95"/>
<circle cx="611.0" cy="153.3" r="1.95"/>
<circle cx="612.0" cy="166.7" r="1.95"/>
<circle cx="612.6" cy="152.1" r="1.95"/>
<circle cx="612.1" cy="167.0" r="1.95"/>
<circle cx="612.8" cy="152.8" r="1.95"/>
<circle cx="612.8" cy="170.3" r="1.95"/>
<circle cx="613.6" cy="154.4" r="1.95"/>
<circle cx="613.6" cy="167.3" r="1.95"/>
<circle cx="613.9" cy="154.1" r="1.95"/>
<circle cx="613.3" cy="169.0" r="1.95"/>
<circle cx="614.3" cy="154.8" r="1.95"/>
<circle cx="614.7" cy="169.6" r="1.95"/>
<circle cx="614.2" cy="154.8" r="1.95"/>
<circle cx="614.4" cy="169.5" r="1.95"/>
<circle cx="614.8" cy="153.2" r="1.95"/>
<circle cx="615.1" cy="169.6" r="1.95"/>
<circle cx="615.2" cy="154.7" r="1.95"/>
<circle cx="615.7" cy="169.2" r="1.95"/>
<circle cx="615.7" cy="156.9" r="1.95"/>
<circle cx="616.2" cy="170.3" r="1.95"/>
<circle cx="616.1" cy="155.3" r="1.95"/>
<circle cx="615.9" cy="171.8" r="1.95"/>
<circle cx="617.3" cy="155.3" r="1.95"/>
<circle cx="617.2" cy="171.8" r="1.95"/>
<circle cx="616.8" cy="154.7" r="1.95"/>
<circle cx="617.2" cy="170.3" r="1.95"/>
<circle cx="618.1" cy="156.2" r="1.95"/>
<circle cx="618.2" cy="171.9" r="1.95"/>
<circle cx="617.4" cy="156.6" r="1.95"/>
<circle cx="617.4" cy="168.6" r="1.95"/>
<circle cx="618.5" cy="156.4" r="1.95"/>
<circle cx="618.3" cy="171.6" r="1.95"/>
<circle cx="618.8" cy="155.6" r="1.95"/>
<circle cx="618.8" cy="172.2" r="1.95"/>
<circle cx="619.5" cy="156.3" r="1.95"/>
<circle cx="619.2" cy="169.7" r="1.95"/>
<circle cx="619.4" cy="156.9" r="1.95"/>
<circle cx="619.2" cy="171.7" r="1.95"/>
<circle cx="620.8" cy="156.6" r="1.95"/>
<circle cx="620.3" cy="168.2" r="1.95"/>
<circle cx="620.0" cy="155.9" r="1.95"/>
<circle cx="621.1" cy="170.8" r="1.95"/>
<circle cx="621.4" cy="154.6" r="1.95"/>
<circle cx="622.0" cy="173.0" r="1.95"/>
<circle cx="621.5" cy="153.5" r="1.95"/>
<circle cx="621.8" cy="173.1" r="1.95"/>
<circle cx="622.8" cy="152.9" r="1.95"/>
<circle cx="622.3" cy="173.3" r="1.95"/>
<circle cx="622.9" cy="152.1" r="1.95"/>
<circle cx="622.5" cy="174.1" r="1.95"/>
<circle cx="623.3" cy="151.7" r="1.95"/>
<circle cx="623.4" cy="173.3" r="1.95"/>
<circle cx="623.7" cy="153.5" r="1.95"/>
<circle cx="623.8" cy="174.2" r="1.95"/>
<circle cx="624.8" cy="150.7" r="1.95"/>
<circle cx="624.4" cy="175.3" r="1.95"/>
<circle cx="624.6" cy="148.4" r="1.95"/>
<circle cx="624.0" cy="175.3" r="1.95"/>
<circle cx="625.4" cy="144.9" r="1.95"/>
<circle cx="625.3" cy="176.2" r="1.95"/>
<circle cx="625.3" cy="144.9" r="1.95"/>
<circle cx="625.0" cy="176.8" r="1.95"/>
<circle cx="625.8" cy="140.6" r="1.95"/>
<circle cx="625.6" cy="178.7" r="1.95"/>
<circle cx="626.2" cy="141.0" r="1.95"/>
<circle cx="625.8" cy="181.4" r="1.95"/>
<circle cx="627.0" cy="138.5" r="1.95"/>
<circle cx="627.2" cy="181.4" r="1.95"/>
<circle cx="626.4" cy="138.5" r="1.95"/>
<circle cx="627.2" cy="181.9" r="1.95"/>
<circle cx="627.6" cy="136.2" r="1.95"/>
<circle cx="627.8" cy="184.9" r="1.95"/>
<circle cx="627.7" cy="136.7" r="1.95"/>
<circle cx="627.6" cy="184.8" r="1.95"/>
<circle cx="629.3" cy="133.1" r="1.95"/>
<circle cx="628.4" cy="184.7" r="1.95"/>
<circle cx="629.3" cy="133.3" r="1.95"/>
<circle cx="629.1" cy="185.4" r="1.95"/>
<circle cx="629.5" cy="132.8" r="1.95"/>
<circle cx="629.1" cy="182.8" r="1.95"/>
<circle cx="629.1" cy="130.4" r="1.95"/>
<circle cx="629.2" cy="184.6" r="1.95"/>
<circle cx="630.4" cy="133.2" r="1.95"/>
<circle cx="630.1" cy="182.8" r="1.95"/>
<circle cx="630.5" cy="130.6" r="1.95"/>
<circle cx="631.0" cy="185.1" r="1.95"/>
<circle cx="631.1" cy="132.3" r="1.95"/>
<circle cx="630.8" cy="183.3" r="1.95"/>
<circle cx="631.3" cy="134.3" r="1.95"/>
<circle cx="631.5" cy="183.3" r="1.95"/>
<circle cx="632.6" cy="136.3" r="1.95"/>
<circle cx="631.8" cy="184.9" r="1.95"/>
<circle cx="632.1" cy="133.8" r="1.95"/>
<circle cx="632.2" cy="183.6" r="1.95"/>
<circle cx="632.8" cy="133.9" r="1.95"/>
<circle cx="632.8" cy="183.8" r="1.95"/>
<circle cx="632.9" cy="134.6" r="1.95"/>
<circle cx="632.8" cy="184.1" r="1.95"/>
<circle cx="634.1" cy="135.9" r="1.95"/>
<circle cx="634.0" cy="185.5" r="1.95"/>
<circle cx="633.8" cy="134.6" r="1.95"/>
<circle cx="633.6" cy="186.1" r="1.95"/>
<circle cx="635.3" cy="137.2" r="1.95"/>
<circle cx="634.9" cy="185.5" r="1.95"/>
<circle cx="635.1" cy="135.2" r="1.95"/>
<circle cx="634.5" cy="183.4" r="1.95"/>
<circle cx="636.1" cy="133.5" r="1.95"/>
<circle cx="635.6" cy="182.8" r="1.95"/>
<circle cx="635.9" cy="135.7" r="1.95"/>
<circle cx="635.6" cy="185.0" r="1.95"/>
<circle cx="636.9" cy="135.7" r="1.95"/>
<circle cx="637.0" cy="184.7" r="1.95"/>
<circle cx="636.3" cy="136.4" r="1.95"/>
<circle cx="636.5" cy="182.5" r="1.95"/>
<circle cx="637.2" cy="135.5" r="1.95"/>
<circle cx="638.0" cy="183.7" r="1.95"/>
<circle cx="637.5" cy="134.7" r="1.95"/>
<circle cx="637.4" cy="185.1" r="1.95"/>
<circle cx="639.2" cy="140.6" r="1.95"/>
<circle cx="639.1" cy="181.5" r="1.95"/>
<circle cx="638.3" cy="138.4" r="1.95"/>
<circle cx="638.2" cy="182.3" r="1.95"/>
<circle cx="640.1" cy="137.4" r="1.95"/>
<circle cx="639.6" cy="182.1" r="1.95"/>
<circle cx="639.0" cy="139.2" r="1.95"/>
<circle cx="639.2" cy="183.2" r="1.95"/>
<circle cx="640.5" cy="140.1" r="1.95"/>
<circle cx="640.7" cy="185.1" r="1.95"/>
<circle cx="639.9" cy="139.4" r="1.95"/>
<circle cx="640.4" cy="183.3" r="1.95"/>
<circle cx="641.5" cy="140.6" r="1.95"/>
<circle cx="640.9" cy="183.5" r="1.95"/>
<circle cx="641.9" cy="139.8" r="1.95"/>
<circle cx="641.1" cy="184.6" r="1.95"/>
<circle cx="642.4" cy="141.7" r="1.95"/>
<circle cx="642.1" cy="182.1" r="1.95"/>
<circle cx="642.3" cy="141.1" r="1.95"/>
<circle cx="642.7" cy="183.7" r="1.95"/>
<circle cx="643.7" cy="143.6" r="1.95"/>
<circle cx="643.1" cy="180.1" r="1.95"/>
<circle cx="643.5" cy="143.0" r="1.95"/>
<circle cx="643.4" cy="185.8" r="1.95"/>
<circle cx="644.5" cy="145.2" r="1.95"/>
<circle cx="643.7" cy="181.7" r="1.95"/>
<circle cx="644.3" cy="143.0" r="1.95"/>
<circle cx="643.8" cy="184.0" r="1.95"/>
<circle cx="645.3" cy="146.4" r="1.95"/>
<circle cx="645.1" cy="181.9" r="1.95"/>
<circle cx="644.5" cy="145.9" r="1.95"/>
<circle cx="644.6" cy="185.1" r="1.95"/>
<circle cx="645.6" cy="146.6" r="1.95"/>
<circle cx="646.1" cy="184.2" r="1.95"/>
<circle cx="645.5" cy="146.6" r="1.95"/>
<circle cx="646.2" cy="182.9" r="1.95"/>
<circle cx="646.5" cy="146.8" r="1.95"/>
<circle cx="646.1" cy="185.0" r="1.95"/>
<circle cx="646.6" cy="146.8" r="1.95"/>
<circle cx="647.1" cy="183.9" r="1.95"/>
<circle cx="647.5" cy="150.8" r="1.95"/>
<circle cx="647.3" cy="183.8" r="1.95"/>
<circle cx="647.3" cy="148.3" r="1.95"/>
<circle cx="647.9" cy="183.9" r="1.95"/>
<circle cx="648.6" cy="147.8" r="1.95"/>
<circle cx="648.2" cy="183.8" r="1.95"/>
<circle cx="649.1" cy="146.2" r="1.95"/>
<circle cx="649.0" cy="186.4" r="1.95"/>
<circle cx="648.9" cy="149.7" r="1.95"/>
<circle cx="649.7" cy="183.6" r="1.95"/>
<circle cx="649.8" cy="149.1" r="1.95"/>
<circle cx="649.8" cy="182.4" r="1.95"/>
<circle cx="649.9" cy="149.5" r="1.95"/>
<circle cx="650.2" cy="183.6" r="1.95"/>
<circle cx="649.9" cy="150.0" r="1.95"/>
<circle cx="650.6" cy="182.3" r="1.95"/>
<circle cx="651.4" cy="148.8" r="1.95"/>
<circle cx="651.6" cy="182.2" r="1.95"/>
<circle cx="651.3" cy="149.8" r="1.95"/>
<circle cx="651.0" cy="186.2" r="1.95"/>
<circle cx="651.6" cy="150.7" r="1.95"/>
<circle cx="652.6" cy="185.4" r="1.95"/>
<circle cx="652.3" cy="150.2" r="1.95"/>
<circle cx="652.4" cy="181.4" r="1.95"/>
<circle cx="652.9" cy="150.3" r="1.95"/>
<circle cx="652.8" cy="184.3" r="1.95"/>
<circle cx="652.5" cy="150.7" r="1.95"/>
<circle cx="652.7" cy="182.3" r="1.95"/>
<circle cx="654.1" cy="153.4" r="1.95"/>
<circle cx="653.5" cy="183.4" r="1.95"/>
<circle cx="653.9" cy="151.4" r="1.95"/>
<circle cx="654.5" cy="186.3" r="1.95"/>
<circle cx="654.7" cy="154.0" r="1.95"/>
<circle cx="654.4" cy="182.2" r="1.95"/>
<circle cx="655.4" cy="153.8" r="1.95"/>
<circle cx="654.7" cy="184.2" r="1.95"/>
<circle cx="655.1" cy="153.1" r="1.95"/>
<circle cx="656.2" cy="183.9" r="1.95"/>
<circle cx="655.6" cy="155.6" r="1.95"/>
<circle cx="655.8" cy="182.1" r="1.95"/>
<circle cx="656.3" cy="154.7" r="1.95"/>
<circle cx="656.5" cy="185.1" r="1.95"/>
<circle cx="656.8" cy="154.1" r="1.95"/>
<circle cx="656.7" cy="183.8" r="1.95"/>
<circle cx="658.1" cy="156.3" r="1.95"/>
<circle cx="656.9" cy="184.8" r="1.95"/>
<circle cx="657.0" cy="157.1" r="1.95"/>
<circle cx="657.9" cy="184.2" r="1.95"/>
<circle cx="658.6" cy="159.0" r="1.95"/>
<circle cx="658.5" cy="183.3" r="1.95"/>
<circle cx="658.5" cy="157.9" r="1.95"/>
<circle cx="658.1" cy="183.9" r="1.95"/>
<circle cx="659.4" cy="158.9" r="1.95"/>
<circle cx="659.2" cy="184.4" r="1.95"/>
<circle cx="659.3" cy="157.1" r="1.95"/>
<circle cx="659.6" cy="184.1" r="1.95"/>
<circle cx="660.6" cy="157.9" r="1.95"/>
<circle cx="660.3" cy="183.5" r="1.95"/>
<circle cx="660.6" cy="160.4" r="1.95"/>
<circle cx="659.7" cy="183.6" r="1.95"/>
<circle cx="661.6" cy="158.6" r="1.95"/>
<circle cx="661.6" cy="183.0" r="1.95"/>
<circle cx="661.5" cy="159.8" r="1.95"/>
<circle cx="661.2" cy="183.2" r="1.95"/>
<circle cx="661.9" cy="159.2" r="1.95"/>
<circle cx="662.1" cy="185.7" r="1.95"/>
<circle cx="661.8" cy="157.1" r="1.95"/>
<circle cx="662.1" cy="183.1" r="1.95"/>
<circle cx="663.4" cy="157.1" r="1.95"/>
<circle cx="662.3" cy="182.3" r="1.95"/>
<circle cx="662.9" cy="158.7" r="1.95"/>
<circle cx="663.5" cy="183.2" r="1.95"/>
<circle cx="663.9" cy="159.6" r="1.95"/>
<circle cx="663.8" cy="184.0" r="1.95"/>
<circle cx="664.0" cy="161.4" r="1.95"/>
<circle cx="663.6" cy="183.7" r="1.95"/>
<circle cx="665.2" cy="163.9" r="1.95"/>
<circle cx="664.1" cy="184.6" r="1.95"/>
<circle cx="664.9" cy="162.2" r="1.95"/>
<circle cx="664.6" cy="183.0" r="1.95"/>
<circle cx="665.3" cy="162.4" r="1.95"/>
<circle cx="665.7" cy="182.4" r="1.95"/>
<circle cx="665.4" cy="160.2" r="1.95"/>
<circle cx="665.9" cy="182.3" r="1.95"/>
<circle cx="667.0" cy="163.7" r="1.95"/>
<circle cx="666.4" cy="185.2" r="1.95"/>
<circle cx="666.3" cy="163.9" r="1.95"/>
<circle cx="666.6" cy="183.1" r="1.95"/>
<circle cx="667.7" cy="164.8" r="1.95"/>
<circle cx="667.1" cy="183.7" r="1.95"/>
<circle cx="667.4" cy="165.3" r="1.95"/>
<circle cx="667.8" cy="183.5" r="1.95"/>
<circle cx="668.2" cy="162.9" r="1.95"/>
<circle cx="667.8" cy="183.0" r="1.95"/>
<circle cx="668.1" cy="165.9" r="1.95"/>
<circle cx="668.1" cy="184.3" r="1.95"/>
<circle cx="669.4" cy="165.9" r="1.95"/>
<circle cx="669.6" cy="183.5" r="1.95"/>
<circle cx="669.2" cy="167.8" r="1.95"/>
<circle cx="669.6" cy="185.5" r="1.95"/>
<circle cx="669.8" cy="169.2" r="1.95"/>
<circle cx="669.8" cy="183.0" r="1.95"/>
<circle cx="669.5" cy="168.7" r="1.95"/>
<circle cx="669.6" cy="182.1" r="1.95"/>
<circle cx="671.3" cy="166.9" r="1.95"/>
<circle cx="671.4" cy="182.1" r="1.95"/>
<circle cx="671.6" cy="165.6" r="1.95"/>
<circle cx="671.5" cy="185.8" r="1.95"/>
<circle cx="671.7" cy="165.5" r="1.95"/>
<circle cx="672.3" cy="182.1" r="1.95"/>
<circle cx="672.0" cy="166.1" r="1.95"/>
<circle cx="672.0" cy="184.7" r="1.95"/>
<circle cx="152.9" cy="87.6" r="1.95"/>
<circle cx="154.1" cy="77.1" r="1.95"/>
<circle cx="153.8" cy="84.4" r="1.95"/>
<circle cx="152.9" cy="86.2" r="1.95"/>
<circle cx="153.9" cy="78.2" r="1.95"/>
<circle cx="152.9" cy="77.8" r="1.95"/>
<circle cx="153.9" cy="80.9" r="1.95"/>
<circle cx="154.0" cy="75.7" r="1.95"/>
<circle cx="184.3" cy="56.2" r="1.95"/>
<circle cx="185.5" cy="53.9" r="1.95"/>
<circle cx="184.2" cy="61.0" r="1.95"/>
<circle cx="184.2" cy="60.0" r="1.95"/>
<circle cx="184.2" cy="55.0" r="1.95"/>
<circle cx="200.1" cy="51.1" r="1.95"/>
<circle cx="199.7" cy="48.1" r="1.95"/>
<circle cx="199.0" cy="47.4" r="1.95"/>
<circle cx="292.6" cy="73.0" r="1.95"/>
<circle cx="266.8" cy="79.5" r="1.95"/>
<circle cx="272.6" cy="79.0" r="1.95"/>
<circle cx="263.4" cy="75.0" r="1.95"/>
<circle cx="347.7" cy="90.0" r="1.95"/>
<circle cx="351.9" cy="94.0" r="1.95"/>
<circle cx="358.7" cy="105.0" r="1.95"/>
<circle cx="317.6" cy="120.0" r="1.95"/>
<circle cx="372.0" cy="104.0" r="1.95"/>
<circle cx="404.7" cy="131.0" r="1.95"/>
<circle cx="411.9" cy="127.0" r="1.95"/>
<circle cx="402.6" cy="157.0" r="1.95"/>
<circle cx="381.6" cy="131.5" r="1.95"/>
<circle cx="503.0" cy="163.0" r="1.95"/>
<circle cx="629.5" cy="126.3" r="1.95"/>
<circle cx="630.8" cy="126.4" r="1.95"/>
<circle cx="632.3" cy="129.5" r="1.95"/>
<circle cx="633.1" cy="128.1" r="1.95"/>
<circle cx="183.4" cy="48.9" r="1.95"/>
<circle cx="184.4" cy="49.8" r="1.95"/>
<circle cx="208.3" cy="47.9" r="1.95"/>
<circle cx="208.0" cy="47.9" r="1.95"/>
<circle cx="230.9" cy="49.9" r="1.95"/>
<circle cx="231.7" cy="51.6" r="1.95"/>
<circle cx="244.7" cy="48.0" r="1.95"/>
<circle cx="254.7" cy="57.1" r="1.95"/>
<circle cx="270.7" cy="78.9" r="1.95"/>
<circle cx="270.6" cy="78.2" r="1.95"/>
<circle cx="536.3" cy="153.0" r="1.95"/>
<circle cx="583.1" cy="170.0" r="1.95"/>
<circle cx="95.4" cy="113.0" r="1.95"/>
<circle cx="95.1" cy="112.5" r="1.95"/>
<circle cx="95.5" cy="110.5" r="1.95"/>
<circle cx="319.4" cy="87.6" r="1.95"/>
<circle cx="320.3" cy="79.1" r="1.95"/>
<circle cx="320.7" cy="80.7" r="1.95"/>
<circle cx="319.7" cy="83.0" r="1.95"/>
<circle cx="320.0" cy="88.7" r="1.95"/>
<circle cx="161.7" cy="114.3" r="1.95"/>
<circle cx="160.8" cy="113.2" r="1.95"/>
<circle cx="162.3" cy="112.5" r="1.95"/>
<circle cx="578.1" cy="140.4" r="1.95"/>
<circle cx="600.8" cy="149.4" r="1.95"/>
<circle cx="637.8" cy="130.5" r="1.95"/>
<circle cx="637.5" cy="133.6" r="1.95"/>
<circle cx="638.1" cy="131.3" r="1.95"/>
<circle cx="641.9" cy="135.5" r="1.95"/>
<circle cx="641.7" cy="137.0" r="1.95"/>
<circle cx="641.9" cy="139.9" r="1.95"/>
<circle cx="648.1" cy="144.0" r="1.95"/>
<circle cx="647.3" cy="143.8" r="1.95"/>
<circle cx="647.8" cy="146.9" r="1.95"/>
<circle cx="655.6" cy="150.9" r="1.95"/>
<circle cx="655.4" cy="151.8" r="1.95"/>
<circle cx="662.1" cy="156.6" r="1.95"/>
<circle cx="661.3" cy="155.2" r="1.95"/>
</g></g>
<g stroke="#000" stroke-width="1.4" fill="none">
<path d="M94.5,185.0 V43.5 H672.0 V821.4"/>
<path d="M672.0,43.5 v-12"/>
<path d="M672.0,185.0 v-11.5"/>
<path d="M584.5,43.5 v-12"/>
<path d="M584.5,185.0 v-11.5"/>
<path d="M497.0,43.5 v-12"/>
<path d="M497.0,185.0 v-11.5"/>
<path d="M409.5,43.5 v-12"/>
<path d="M409.5,185.0 v-11.5"/>
<path d="M322.0,43.5 v-12"/>
<path d="M322.0,185.0 v-11.5"/>
<path d="M234.5,43.5 v-12"/>
<path d="M234.5,185.0 v-11.5"/>
<path d="M147.0,43.5 v-12"/>
<path d="M147.0,185.0 v-11.5"/>
<path d="M94.5,170.5 h-12.5"/>
<path d="M672.0,170.5 h13"/>
<path d="M94.5,133.2 h-12.5"/>
<path d="M672.0,133.2 h13"/>
<path d="M94.5,95.8 h-12.5"/>
<path d="M672.0,95.8 h13"/>
<path d="M94.5,58.5 h-12.5"/>
<path d="M672.0,58.5 h13"/>
</g>
<g font-size="19.5" text-anchor="end" fill="#1a1a1a">
<text x="71" y="177.5">0</text>
<text x="71" y="140.2">5</text>
<text x="71" y="102.8">10</text>
<text x="71" y="65.5">15</text>
</g>
<text transform="translate(17.8,114) rotate(-90)" font-size="22.7" text-anchor="middle" fill="#1a1a1a">ΔT (° C)</text>
<rect x="428.6" y="62.2" width="226.6" height="30.4" fill="#fff" stroke="#222" stroke-width="1"/>
<circle cx="439.7" cy="77.4" r="1.9" fill="none" stroke="#000" stroke-width="0.9"/>
<text x="457" y="83.6" font-size="17.8" fill="#1a1a1a">Westerhold et al. (2020)</text>
<rect x="94.5" y="185.3" width="87.5" height="28.6" fill="#f0955a" stroke="#3a2a10" stroke-width="1.1"/>
<text x="138.6" y="206" font-size="18" text-anchor="middle" fill="#1a1a1a">Paleocene</text>
<rect x="182.0" y="185.3" width="193.4" height="28.6" fill="#f4a561" stroke="#3a2a10" stroke-width="1.1"/>
<text x="282.8" y="206" font-size="18" text-anchor="middle" fill="#1a1a1a">Eocene</text>
<rect x="375.4" y="185.3" width="95.1" height="28.6" fill="#f9bf8c" stroke="#3a2a10" stroke-width="1.1"/>
<text x="423.2" y="206" font-size="18" text-anchor="middle" fill="#1a1a1a">Oligocene</text>
<rect x="470.5" y="185.3" width="154.9" height="28.6" fill="#e9e436" stroke="#3a2a10" stroke-width="1.1"/>
<text x="549.2" y="206" font-size="18" text-anchor="middle" fill="#1a1a1a">Miocene</text>
<rect x="626" y="185.3" width="23.4" height="28.6" fill="#ebea93" stroke="#3a3a10" stroke-width="1.1"/>
<rect x="649.4" y="185.3" width="22.6" height="28.6" fill="#f7efa3" stroke="#3a3a10" stroke-width="1.1"/>
<text transform="translate(643.4,211.2) rotate(-90)" font-size="15" textLength="25.2" lengthAdjust="spacingAndGlyphs" fill="#1a1a1a">Plio.</text>
<g clip-path="url(#cp)"><text transform="translate(666.4,211.8) rotate(-90)" font-size="15" textLength="35.5" lengthAdjust="spacingAndGlyphs" fill="#1a1a1a">Pleist.</text></g>
<g clip-path="url(#cm)">
<g fill="none"><path d="M572.0,652.7V724.1" stroke="#f8c79e" stroke-width="1.0942784837178121"/><path d="M183.4,367.6V411.6" stroke="#4472c4" stroke-width="1.1559482309236913"/><path d="M560.5,730.8H597.3" stroke="#f08a8a" stroke-width="0.8149315559701079"/><path d="M308.4,604.3V629.0" stroke="#4472c4" stroke-width="0.8733615216203661"/><path d="M320.3,308.0V560.0" stroke="#4472c4" stroke-width="1.0"/><path d="M650.0,757.8V792.7" stroke="#cfd2d2" stroke-width="1.049316394851179"/><path d="M462.0,584.0V700.0" stroke="#f4a460" stroke-width="1.0"/><path d="M344.3,483.4V580.5" stroke="#f8c79e" stroke-width="0.8555043427756033"/><path d="M471.8,666.2V750.8" stroke="#f08a8a" stroke-width="0.9288037309554609"/><path d="M621.5,742.5H660.8" stroke="#f08a8a" stroke-width="1.1570681746193847"/><path d="M494.8,626.8V713.3" stroke="#f8c79e" stroke-width="0.8420529755153563"/><path d="M184.0,451.8V489.6" stroke="#8eaadb" stroke-width="0.8863603165517634"/><path d="M309.0,576.6V597.2" stroke="#4472c4" stroke-width="0.9053693431463766"/><path d="M228.4,713.7V754.6" stroke="#cfd2d2" stroke-width="0.8952792916618059"/><path d="M548.0,712.1V763.9" stroke="#f4a460" stroke-width="0.9620594757025521"/><path d="M379.0,571.4V621.4" stroke="#8eaadb" stroke-width="0.8893389455686529"/><path d="M485.1,668.0H514.9" stroke="#f4a460" stroke-width="0.8649322414255847"/><path d="M183.4,213.0V420.0" stroke="#8eaadb" stroke-width="1.3"/><path d="M424.1,720.5H468.5" stroke="#f8c79e" stroke-width="1.171928748129227"/><path d="M483.9,582.6V678.9" stroke="#f8c79e" stroke-width="0.8020757495895116"/><path d="M525.0,632.7V729.0" stroke="#f08a8a" stroke-width="1.1218853129670712"/><path d="M223.4,300.0V480.0" stroke="#8eaadb" stroke-width="1.0"/><path d="M621.0,662.8V714.5" stroke="#f8c79e" stroke-width="0.9366122883302422"/><path d="M198.4,686.2V715.1" stroke="#4472c4" stroke-width="0.8450074927190614"/><path d="M461.0,662.4V756.9" stroke="#f08a8a" stroke-width="0.9460149699189849"/><path d="M653.6,650.7V711.2" stroke="#4472c4" stroke-width="0.9952593928759561"/><path d="M400.7,590.6V658.9" stroke="#f8c79e" stroke-width="1.002764081594368"/><path d="M616.0,612.0V740.0" stroke="#f8c79e" stroke-width="1.0"/><path d="M483.3,709.6H518.7" stroke="#e8262a" stroke-width="0.9240244369366363"/><path d="M219.3,275.0V420.0" stroke="#8eaadb" stroke-width="1.0"/><path d="M105.4,760.0H158.3" stroke="#f08a8a" stroke-width="0.9809864317415607"/><path d="M441.2,726.0H470.3" stroke="#e8262a" stroke-width="0.8683959737514129"/><path d="M647.0,694.8V744.3" stroke="#f08a8a" stroke-width="0.999233295690384"/><path d="M602.0,730.4V775.6" stroke="#cfd2d2" stroke-width="0.9446845278660018"/><path d="M221.0,335.0V405.0" stroke="#cfd2d2" stroke-width="1.5"/><path d="M199.0,471.2V511.1" stroke="#8eaadb" stroke-width="0.9044257769409113"/><path d="M306.0,584.9V628.1" stroke="#4472c4" stroke-width="1.1016585430589403"/><path d="M578.0,729.5V762.8" stroke="#f8c79e" stroke-width="0.9528718138314728"/><path d="M513.0,740.4V771.3" stroke="#b0b4b4" stroke-width="0.9377074768462922"/><path d="M118.0,735.8V764.4" stroke="#cfd2d2" stroke-width="1.159875333171779"/><path d="M593.6,752.5V809.6" stroke="#cfd2d2" stroke-width="1.0593123198973917"/><path d="M604.5,745.0V792.0" stroke="#b0b4b4" stroke-width="0.88242391688597"/><path d="M184.0,510.5V551.9" stroke="#4472c4" stroke-width="1.1855285168661935"/><path d="M516.4,707.3V759.3" stroke="#f08a8a" stroke-width="0.8785206944694133"/><path d="M604.5,755.6H668.3" stroke="#e8262a" stroke-width="1.0781671860856825"/><path d="M368.5,486.6V597.6" stroke="#f8c79e" stroke-width="0.8454073475976411"/><path d="M135.0,678.4H170.0" stroke="#ece94c" stroke-width="1.0"/><path d="M184.0,519.6V551.3" stroke="#8eaadb" stroke-width="1.0713293684558058"/><path d="M656.0,753.0V792.4" stroke="#cfd2d2" stroke-width="0.8821107482049816"/><path d="M533.8,674.2V728.6" stroke="#f08a8a" stroke-width="1.0288850731078267"/><path d="M271.6,590.4V629.7" stroke="#8eaadb" stroke-width="1.067857094084815"/><path d="M552.0,683.9V772.3" stroke="#f8c79e" stroke-width="1.0309588988559248"/><path d="M220.8,378.7V428.8" stroke="#cfd2d2" stroke-width="1.0861968007712048"/><path d="M83.9,659.0H143.4" stroke="#e8262a" stroke-width="0.9855264544422588"/><path d="M224.7,631.7V675.5" stroke="#b0b4b4" stroke-width="0.8590877859694933"/><path d="M252.0,556.0V608.4" stroke="#8eaadb" stroke-width="1.0009886396572927"/><path d="M113.6,603.6V669.4" stroke="#f08a8a" stroke-width="1.0317536475107418"/><path d="M560.0,699.5V752.0" stroke="#f8c79e" stroke-width="1.1921984569495243"/><path d="M99.0,473.5V523.6" stroke="#cfd2d2" stroke-width="0.8897529546151248"/><path d="M576.0,736.8V794.6" stroke="#cfd2d2" stroke-width="0.8169064742481762"/><path d="M632.0,709.5V791.1" stroke="#e8262a" stroke-width="1.0500941334691005"/><path d="M436.8,549.0V672.4" stroke="#f8c79e" stroke-width="1.1508162396421264"/><path d="M190.7,528.9V631.8" stroke="#f8c79e" stroke-width="0.9486236642224511"/><path d="M565.0,702.8V765.9" stroke="#f8c79e" stroke-width="0.8600248892314571"/><path d="M199.5,283.0V700.0" stroke="#f4a460" stroke-width="1.0"/><path d="M296.0,558.1V616.4" stroke="#8eaadb" stroke-width="0.837497445435577"/><path d="M137.9,743.0H186.8" stroke="#e8262a" stroke-width="1.1191579781385446"/><path d="M525.0,646.8V693.6" stroke="#8eaadb" stroke-width="1.1669417591836724"/><path d="M183.0,591.7V637.9" stroke="#8eaadb" stroke-width="1.1151515960217981"/><path d="M598.0,716.0V758.3" stroke="#f08a8a" stroke-width="0.8222789106732541"/><path d="M228.4,540.0V655.0" stroke="#a01020" stroke-width="1.6"/><path d="M515.9,722.0H561.7" stroke="#f4a460" stroke-width="1.1424558678336414"/><path d="M218.7,502.2V546.4" stroke="#cfd2d2" stroke-width="0.8929208712956616"/><path d="M96.6,535.9V585.2" stroke="#cfd2d2" stroke-width="0.9910657363326194"/><path d="M328.5,596.1V642.9" stroke="#8eaadb" stroke-width="1.0535827432224787"/><path d="M507.0,733.6V785.3" stroke="#cfd2d2" stroke-width="1.0389018452372263"/><path d="M349.3,741.0H404.0" stroke="#f08a8a" stroke-width="0.8115168871557924"/><path d="M190.0,366.0H248.0" stroke="#ece94c" stroke-width="1.3"/><path d="M568.0,757.7V797.4" stroke="#b0b4b4" stroke-width="1.1940806171456668"/><path d="M383.6,664.6V709.0" stroke="#8eaadb" stroke-width="1.1875247571387262"/><path d="M250.9,300.0V400.0" stroke="#8eaadb" stroke-width="1.0"/><path d="M315.4,521.0V568.4" stroke="#8eaadb" stroke-width="1.1975558088369422"/><path d="M380.0,612.3V684.8" stroke="#f4a460" stroke-width="1.1395017797322833"/><path d="M528.0,657.3V740.6" stroke="#f8c79e" stroke-width="0.9683320325456362"/><path d="M183.4,315.0V364.9" stroke="#8eaadb" stroke-width="0.9323362123530091"/><path d="M379.0,685.1V757.6" stroke="#f08a8a" stroke-width="1.1355432750591155"/><path d="M369.0,510.0V640.0" stroke="#f4a460" stroke-width="1.0"/><path d="M572.0,722.6V775.0" stroke="#cfd2d2" stroke-width="0.8862939359802028"/><path d="M379.0,633.9V667.2" stroke="#8eaadb" stroke-width="0.8650767624054588"/><path d="M611.0,558.0V730.0" stroke="#f4a460" stroke-width="1.0"/><path d="M609.6,678.6V731.6" stroke="#cfd2d2" stroke-width="1.1515199591407757"/><path d="M215.0,213.0V482.0" stroke="#ece94c" stroke-width="1.3"/><path d="M608.4,592.9V679.1" stroke="#f4a460" stroke-width="0.9670010413433032"/><path d="M320.9,455.5V515.1" stroke="#8eaadb" stroke-width="0.8201378352945241"/><path d="M611.6,768.0H654.3" stroke="#f4a460" stroke-width="0.9632504014137275"/><path d="M340.6,630.5V728.6" stroke="#f08a8a" stroke-width="1.1797940715180693"/><path d="M421.5,581.4V661.1" stroke="#f8c79e" stroke-width="1.0129518112437"/><path d="M634.0,744.5V786.4" stroke="#cfd2d2" stroke-width="0.9758395839093355"/><path d="M396.7,662.1V730.0" stroke="#f08a8a" stroke-width="1.0424594006113432"/><path d="M344.0,502.0V640.0" stroke="#f8c79e" stroke-width="1.0"/><path d="M364.7,549.2V646.5" stroke="#f8c79e" stroke-width="1.1235550441678148"/><path d="M317.6,557.3V611.0" stroke="#8eaadb" stroke-width="1.1732373129530425"/><path d="M549.6,612.0V700.0" stroke="#cfd2d2" stroke-width="1.0"/><path d="M199.0,429.6V470.0" stroke="#8eaadb" stroke-width="1.0328176434061063"/><path d="M107.0,749.6V793.3" stroke="#cfd2d2" stroke-width="1.0032637214055533"/><path d="M530.0,726.2V774.4" stroke="#cfd2d2" stroke-width="0.9860898037957224"/><path d="M651.4,747.7V781.6" stroke="#8eaadb" stroke-width="0.8368602730058033"/><path d="M596.7,690.0V739.2" stroke="#4472c4" stroke-width="1.0292570119520816"/><path d="M460.3,713.0H505.7" stroke="#f08a8a" stroke-width="0.9181645165861635"/><path d="M362.5,670.8V771.2" stroke="#f08a8a" stroke-width="0.9623664157276102"/><path d="M281.5,550.7V597.6" stroke="#e8262a" stroke-width="0.9365673096886166"/><path d="M199.0,506.7V552.9" stroke="#8eaadb" stroke-width="0.8958627651796828"/><path d="M369.0,593.8V627.0" stroke="#8eaadb" stroke-width="1.1531658163946363"/><path d="M436.0,541.0V680.0" stroke="#f8c79e" stroke-width="1.0"/><path d="M199.5,572.3V607.8" stroke="#8eaadb" stroke-width="0.829368626163897"/><path d="M98.8,639.4V702.5" stroke="#e8262a" stroke-width="1.169841293444855"/><path d="M661.0,752.8V797.3" stroke="#b0b4b4" stroke-width="0.8214417640238442"/><path d="M336.5,720.5H398.4" stroke="#f08a8a" stroke-width="1.0719088658433626"/><path d="M600.0,757.8V790.6" stroke="#cfd2d2" stroke-width="1.0013474015255934"/><path d="M68.6,542.0H132.4" stroke="#f08a8a" stroke-width="1.1188446640954728"/><path d="M339.5,655.2V730.7" stroke="#e8262a" stroke-width="1.0195387846592538"/><path d="M219.6,441.4V499.2" stroke="#4472c4" stroke-width="1.167355321112264"/><path d="M320.0,550.7V619.8" stroke="#8eaadb" stroke-width="0.9214783415194121"/><path d="M199.0,467.8V515.0" stroke="#4472c4" stroke-width="0.8457719780683108"/><path d="M218.7,580.0V632.9" stroke="#b0b4b4" stroke-width="0.8790951132413447"/><path d="M199.5,423.4V480.2" stroke="#f4a460" stroke-width="0.9744022230497202"/><path d="M219.6,448.3V479.4" stroke="#8eaadb" stroke-width="1.1433234811766624"/><path d="M453.0,708.6V761.9" stroke="#f08a8a" stroke-width="0.908189026686376"/><path d="M392.0,573.2V662.1" stroke="#f8c79e" stroke-width="0.9314993232675076"/><path d="M147.0,684.8V759.6" stroke="#e8262a" stroke-width="0.9984993917163625"/><path d="M208.0,556.2V640.1" stroke="#f4a460" stroke-width="0.9358891436579411"/><path d="M593.0,685.7V736.2" stroke="#4472c4" stroke-width="1.0681952386137674"/><path d="M476.0,703.6V756.1" stroke="#4472c4" stroke-width="1.0656457045864463"/><path d="M471.4,410.0V760.0" stroke="#e8262a" stroke-width="1.2"/><path d="M582.0,602.0V760.0" stroke="#cfd2d2" stroke-width="1.3"/><path d="M229.7,656.8V704.7" stroke="#f08a8a" stroke-width="0.8311221205311553"/><path d="M633.2,694.3V721.6" stroke="#8eaadb" stroke-width="0.8349615335606371"/><path d="M405.8,731.5H485.2" stroke="#e8262a" stroke-width="0.8442729956805812"/><path d="M332.6,639.0H402.6" stroke="#e8262a" stroke-width="1.1586558816175727"/><path d="M105.0,523.4V615.0" stroke="#e8262a" stroke-width="1.0059889471764254"/><path d="M342.7,607.4H377.3" stroke="#f8c79e" stroke-width="1.0927307182060886"/><path d="M625.5,755.7V799.4" stroke="#cfd2d2" stroke-width="0.9337133784535605"/><path d="M540.7,637.6V681.6" stroke="#8eaadb" stroke-width="1.1008615382427271"/><path d="M516.7,743.6V796.1" stroke="#b0b4b4" stroke-width="0.9204612458199585"/><path d="M482.8,608.1V653.9" stroke="#e8262a" stroke-width="0.9059850467758722"/><path d="M198.6,213.0V330.0" stroke="#8eaadb" stroke-width="1.0"/><path d="M556.0,698.4V765.2" stroke="#f08a8a" stroke-width="1.1980762260373106"/><path d="M662.4,705.3V763.8" stroke="#8eaadb" stroke-width="1.1008110628784757"/><path d="M409.5,470.0V640.0" stroke="#f4a460" stroke-width="1.0"/><path d="M667.0,748.2V792.0" stroke="#8eaadb" stroke-width="0.9425502201108635"/><path d="M349.5,445.0V535.7" stroke="#f8c79e" stroke-width="1.069466813536809"/><path d="M492.0,731.5V786.8" stroke="#b0b4b4" stroke-width="0.870522424512561"/><path d="M243.0,380.3V409.4" stroke="#8eaadb" stroke-width="0.9947749666652574"/><path d="M333.0,552.7V618.7" stroke="#4472c4" stroke-width="1.1778172050902664"/><path d="M217.0,561.9V654.8" stroke="#f4a460" stroke-width="1.062751400364089"/><path d="M239.5,666.6H292.4" stroke="#f08a8a" stroke-width="1.1901585224023503"/><path d="M540.4,678.1V760.6" stroke="#f08a8a" stroke-width="0.9123893773098107"/><path d="M482.8,719.0V753.3" stroke="#e8262a" stroke-width="0.9052586568059781"/><path d="M352.1,657.6H408.1" stroke="#f08a8a" stroke-width="1.1375084577644272"/><path d="M351.5,698.2V749.6" stroke="#f08a8a" stroke-width="0.9468677997499741"/><path d="M221.4,536.5V562.1" stroke="#8eaadb" stroke-width="1.0161578074145146"/><path d="M393.0,549.0V648.2" stroke="#f4a460" stroke-width="1.0524301580020141"/><path d="M217.0,720.2V769.1" stroke="#b0b4b4" stroke-width="0.8231293296585276"/><path d="M513.4,742.8V769.1" stroke="#cfd2d2" stroke-width="1.016331413517464"/><path d="M369.6,645.0H418.0" stroke="#f8c79e" stroke-width="1.182779018078081"/><path d="M530.4,658.7V695.8" stroke="#4472c4" stroke-width="0.8519480059924249"/><path d="M313.0,576.4V636.4" stroke="#8eaadb" stroke-width="0.9852761153709795"/><path d="M99.9,689.4V722.3" stroke="#f08a8a" stroke-width="0.9525084365056011"/><path d="M278.0,608.5V665.4" stroke="#cfd2d2" stroke-width="0.8506276318532583"/><path d="M227.8,376.8V426.8" stroke="#8eaadb" stroke-width="1.1962256533334765"/><path d="M462.0,712.7V768.9" stroke="#8eaadb" stroke-width="1.1208469736096731"/><path d="M97.6,400.0V548.0" stroke="#8eaadb" stroke-width="1.2"/><path d="M463.0,739.3V782.9" stroke="#8eaadb" stroke-width="0.8442663387645278"/><path d="M560.0,749.1V783.0" stroke="#b0b4b4" stroke-width="0.874482106561256"/><path d="M278.4,441.0V700.0" stroke="#cfd2d2" stroke-width="1.0"/><path d="M519.3,712.0H554.6" stroke="#f4a460" stroke-width="1.0529231263913457"/><path d="M371.0,519.9V580.8" stroke="#f8c79e" stroke-width="1.1635595009894621"/><path d="M437.2,713.0H485.4" stroke="#f08a8a" stroke-width="0.9243183636879315"/><path d="M199.5,571.5V627.3" stroke="#4472c4" stroke-width="1.0044532770960093"/><path d="M477.0,705.1V752.2" stroke="#4472c4" stroke-width="0.851014304423781"/><path d="M81.9,717.0H137.2" stroke="#f08a8a" stroke-width="1.0812642220088784"/><path d="M183.0,592.6V630.1" stroke="#8eaadb" stroke-width="1.0171707701046153"/><path d="M283.2,734.0H340.4" stroke="#e8262a" stroke-width="1.1095934188310927"/><path d="M251.5,577.0H299.4" stroke="#f08a8a" stroke-width="0.9746606090648093"/><path d="M70.2,639.0H138.5" stroke="#f08a8a" stroke-width="0.8027741685976839"/><path d="M229.3,213.0V420.0" stroke="#4472c4" stroke-width="1.2"/><path d="M627.2,719.4H667.4" stroke="#f08a8a" stroke-width="0.9096740720441138"/><path d="M613.0,558.0V730.0" stroke="#f8c79e" stroke-width="1.0"/><path d="M454.5,690.0H502.1" stroke="#f08a8a" stroke-width="0.9284121767855341"/><path d="M575.0,650.6V738.3" stroke="#f8c79e" stroke-width="1.013876011826857"/><path d="M485.0,743.9V786.4" stroke="#b0b4b4" stroke-width="0.9585729126774328"/><path d="M88.4,684.6H148.5" stroke="#e8262a" stroke-width="1.1576720636814508"/><path d="M548.0,603.0V700.0" stroke="#cfd2d2" stroke-width="1.2"/><path d="M614.2,697.4V732.5" stroke="#4472c4" stroke-width="0.9400264902933598"/><path d="M446.8,670.0H482.0" stroke="#f08a8a" stroke-width="0.8677396065818096"/><path d="M180.9,666.7V708.0" stroke="#f08a8a" stroke-width="1.028158185430656"/><path d="M225.8,484.6V533.8" stroke="#b0b4b4" stroke-width="1.0554926032098222"/><path d="M586.0,710.0V771.7" stroke="#f4a460" stroke-width="0.8076616749323462"/><path d="M145.6,712.4H200.2" stroke="#f08a8a" stroke-width="1.1080948581297652"/><path d="M296.1,718.0H380.9" stroke="#f08a8a" stroke-width="1.1224027061520085"/><path d="M320.9,456.5V511.6" stroke="#4472c4" stroke-width="0.8937912509112543"/><path d="M596.0,656.1V751.7" stroke="#f4a460" stroke-width="1.000425191085073"/><path d="M638.0,752.0H672.4" stroke="#f4a460" stroke-width="1.0273992609926301"/><path d="M320.9,443.8V490.7" stroke="#4472c4" stroke-width="0.9921194531504726"/><path d="M323.0,543.9V571.4" stroke="#4472c4" stroke-width="1.111816530656187"/><path d="M466.0,650.9V744.1" stroke="#f8c79e" stroke-width="0.9782966485332159"/><path d="M466.0,739.5V791.2" stroke="#4472c4" stroke-width="1.1585209689861624"/><path d="M209.0,500.7V536.9" stroke="#8eaadb" stroke-width="0.9199546049145372"/><path d="M337.0,543.6V626.5" stroke="#f4a460" stroke-width="0.8035835574199266"/><path d="M101.4,709.7V760.2" stroke="#cfd2d2" stroke-width="0.9019690980265955"/><path d="M440.0,577.0V687.5" stroke="#f8c79e" stroke-width="0.9099659739002995"/><path d="M633.4,680.7V765.0" stroke="#e8262a" stroke-width="1.014013785016455"/><path d="M256.3,440.4V492.2" stroke="#4472c4" stroke-width="0.8034822010602368"/><path d="M206.0,437.1V502.6" stroke="#4472c4" stroke-width="0.8991996476333013"/><path d="M612.0,668.4V697.2" stroke="#f4a460" stroke-width="1.1369485096078265"/><path d="M592.0,681.3V775.5" stroke="#f4a460" stroke-width="0.8320975509303145"/><path d="M341.7,598.6V639.9" stroke="#8eaadb" stroke-width="1.0057167484550842"/><path d="M97.5,464.8V492.6" stroke="#cfd2d2" stroke-width="1.0110427821277241"/><path d="M453.0,676.5V716.7" stroke="#e8262a" stroke-width="0.9727261550173724"/><path d="M418.1,727.0H466.7" stroke="#f08a8a" stroke-width="0.8022043868782176"/><path d="M336.0,563.3V623.6" stroke="#8eaadb" stroke-width="1.0603710550409429"/><path d="M373.0,542.3V589.9" stroke="#8eaadb" stroke-width="1.1866458344840083"/><path d="M316.0,672.0H352.9" stroke="#f08a8a" stroke-width="0.8745953405491618"/><path d="M361.1,593.6H385.0" stroke="#f8c79e" stroke-width="0.9600908080395822"/><path d="M400.7,576.0V638.6" stroke="#f8c79e" stroke-width="0.9145681561723249"/><path d="M591.4,669.0H634.3" stroke="#f8c79e" stroke-width="0.8365093642227058"/><path d="M174.1,658.0H200.6" stroke="#f08a8a" stroke-width="1.1326567704628525"/><path d="M403.5,689.7V762.0" stroke="#e8262a" stroke-width="0.8911178156288304"/><path d="M600.7,486.9V602.8" stroke="#f8c79e" stroke-width="1.0800670398815697"/><path d="M578.5,757.5V803.2" stroke="#b0b4b4" stroke-width="0.9615853095115142"/><path d="M234.0,514.6V540.4" stroke="#8eaadb" stroke-width="1.0081872190101646"/><path d="M376.4,621.0H405.1" stroke="#f4a460" stroke-width="0.816036019019884"/><path d="M355.0,666.7V742.0" stroke="#f08a8a" stroke-width="0.8419383123127676"/><path d="M493.8,691.4H569.1" stroke="#e8262a" stroke-width="1.1633511271103187"/><path d="M300.0,706.7V733.2" stroke="#e8262a" stroke-width="0.9792678332527727"/><path d="M148.4,694.0H216.9" stroke="#e8262a" stroke-width="1.0278873282137377"/><path d="M209.3,555.6V621.4" stroke="#8eaadb" stroke-width="1.188105020939477"/><path d="M331.0,586.6V622.4" stroke="#8eaadb" stroke-width="1.1485531085721068"/><path d="M217.0,566.0V598.8" stroke="#8eaadb" stroke-width="1.1363498038738824"/><path d="M361.4,615.0V655.1" stroke="#f08a8a" stroke-width="1.1597976370985132"/><path d="M318.2,690.5H382.7" stroke="#f08a8a" stroke-width="1.112999977128042"/><path d="M524.7,744.0H547.7" stroke="#f8c79e" stroke-width="0.8801223145829979"/><path d="M442.4,662.6H481.4" stroke="#f08a8a" stroke-width="1.1036169339146653"/><path d="M414.0,534.0V640.0" stroke="#f8c79e" stroke-width="1.0"/><path d="M418.8,702.0H486.2" stroke="#f08a8a" stroke-width="0.8282916439191401"/><path d="M470.7,640.4V733.8" stroke="#e8262a" stroke-width="1.1021136573652435"/><path d="M412.7,545.0V629.4" stroke="#f4a460" stroke-width="1.0157557289206989"/><path d="M199.5,541.7V574.3" stroke="#4472c4" stroke-width="1.1500359260197772"/><path d="M84.5,603.5H139.6" stroke="#f08a8a" stroke-width="1.1278362861853912"/><path d="M274.8,709.6H315.9" stroke="#f08a8a" stroke-width="0.8536163153231124"/><path d="M533.8,668.3V728.3" stroke="#f08a8a" stroke-width="1.0252233792846221"/><path d="M195.9,585.0H224.2" stroke="#f4a460" stroke-width="1.0152851554688702"/><path d="M113.6,639.9V711.2" stroke="#e8262a" stroke-width="1.0401604336962917"/><path d="M609.4,735.3H656.3" stroke="#e8262a" stroke-width="0.8840164932101777"/><path d="M229.3,274.8V308.1" stroke="#8eaadb" stroke-width="1.1527094220271223"/><path d="M551.5,671.9V736.8" stroke="#e8262a" stroke-width="1.1327328033590018"/><path d="M668.0,756.9V788.8" stroke="#cfd2d2" stroke-width="0.9754549330851353"/><path d="M520.0,630.1V728.5" stroke="#f8c79e" stroke-width="0.8823679507873845"/><path d="M542.8,674.5V712.4" stroke="#f08a8a" stroke-width="1.0474749598441173"/><path d="M613.5,709.7V766.9" stroke="#8eaadb" stroke-width="1.160880238044024"/><path d="M612.7,684.8V727.9" stroke="#4472c4" stroke-width="1.119528051008266"/><path d="M377.8,550.6V633.4" stroke="#f4a460" stroke-width="1.0594499662322208"/><path d="M447.7,642.9V740.4" stroke="#f4a460" stroke-width="0.8284301141088661"/><path d="M399.6,606.5V661.6" stroke="#f8c79e" stroke-width="1.0007497879978595"/><path d="M527.0,372.0V700.0" stroke="#f08a8a" stroke-width="1.3"/><path d="M374.4,556.9V589.9" stroke="#4472c4" stroke-width="1.1832156562504317"/><path d="M635.8,643.9V687.2" stroke="#8eaadb" stroke-width="1.029279613304872"/><path d="M184.3,742.0H239.1" stroke="#f08a8a" stroke-width="0.874697110397959"/><path d="M111.0,712.9V766.9" stroke="#f08a8a" stroke-width="0.8655050421906549"/><path d="M372.8,557.6V592.3" stroke="#4472c4" stroke-width="0.872611323553446"/><path d="M471.8,744.5V788.4" stroke="#b0b4b4" stroke-width="1.1134240643939681"/><path d="M640.5,696.5V732.8" stroke="#4472c4" stroke-width="1.1538299951871935"/><path d="M349.3,568.0H395.1" stroke="#f8c79e" stroke-width="0.8312535280646439"/><path d="M463.9,740.0H536.6" stroke="#e8262a" stroke-width="1.16766381253012"/><path d="M183.0,542.1V572.2" stroke="#4472c4" stroke-width="1.1462686257967674"/><path d="M589.4,693.8V748.0" stroke="#8eaadb" stroke-width="0.9982002939122306"/><path d="M405.5,645.7V705.1" stroke="#f08a8a" stroke-width="0.892407622458195"/><path d="M522.0,715.8V746.5" stroke="#f8c79e" stroke-width="1.1350250142035716"/><path d="M359.0,630.9V734.8" stroke="#f08a8a" stroke-width="0.9428875280006157"/><path d="M474.0,757.3V792.4" stroke="#8eaadb" stroke-width="0.8602724345402372"/><path d="M184.0,512.9V550.4" stroke="#8eaadb" stroke-width="0.8318023405685236"/><path d="M113.6,683.3V762.7" stroke="#f08a8a" stroke-width="1.0919707127128846"/><path d="M381.0,561.3V615.6" stroke="#4472c4" stroke-width="0.9855341232390981"/><path d="M234.0,450.2V469.7" stroke="#8eaadb" stroke-width="1.080292011442698"/><path d="M182.4,324.5V359.9" stroke="#4472c4" stroke-width="1.0419655018924006"/><path d="M475.0,729.1V776.2" stroke="#8eaadb" stroke-width="1.101672276497196"/><path d="M184.0,491.5V535.1" stroke="#8eaadb" stroke-width="0.8445431354457926"/><path d="M477.0,741.1V794.8" stroke="#cfd2d2" stroke-width="1.090069771803157"/><path d="M450.4,699.7H508.9" stroke="#f08a8a" stroke-width="0.816670339591599"/><path d="M301.0,586.4V627.3" stroke="#8eaadb" stroke-width="1.1896290166052537"/><path d="M507.0,674.8V709.0" stroke="#f08a8a" stroke-width="1.1582477123180115"/><path d="M199.5,587.2V646.7" stroke="#8eaadb" stroke-width="0.8632853850393669"/><path d="M196.6,710.7V775.0" stroke="#e8262a" stroke-width="0.8000597360105731"/><path d="M113.6,670.2V745.3" stroke="#f08a8a" stroke-width="0.9346107654238487"/><path d="M605.0,457.0V720.0" stroke="#f4a460" stroke-width="1.0"/><path d="M471.5,681.7H508.2" stroke="#f8c79e" stroke-width="1.102269675898992"/><path d="M401.0,514.0V640.0" stroke="#f8c79e" stroke-width="1.0"/><path d="M537.2,748.0H562.5" stroke="#f4a460" stroke-width="0.8400867266199701"/><path d="M611.7,635.6V725.5" stroke="#f4a460" stroke-width="1.1300625190023346"/><path d="M504.7,640.2V688.4" stroke="#f8c79e" stroke-width="0.9791853045951314"/><path d="M192.0,440.0V513.9" stroke="#f8c79e" stroke-width="0.8661585660038762"/><path d="M593.7,700.5H635.9" stroke="#f4a460" stroke-width="0.9346262990856361"/><path d="M199.5,654.6V707.4" stroke="#4472c4" stroke-width="0.8279226185469103"/><path d="M184.6,245.0V560.0" stroke="#4472c4" stroke-width="1.2"/><path d="M456.7,717.0H511.9" stroke="#f4a460" stroke-width="1.098442177290917"/><path d="M556.7,700.0H583.7" stroke="#f4a460" stroke-width="0.9206508576561929"/><path d="M183.4,340.4V396.0" stroke="#8eaadb" stroke-width="1.05676209507207"/><path d="M183.0,599.8V652.6" stroke="#4472c4" stroke-width="0.9840396391266156"/><path d="M219.6,402.9V432.0" stroke="#4472c4" stroke-width="1.114729616311734"/><path d="M505.8,639.3V719.8" stroke="#f08a8a" stroke-width="1.172793326645855"/><path d="M400.7,630.2V693.2" stroke="#f4a460" stroke-width="1.138670598242847"/><path d="M335.0,574.0V667.5" stroke="#f8c79e" stroke-width="0.8028851172681055"/><path d="M563.0,737.5V792.2" stroke="#cfd2d2" stroke-width="1.1730464779280805"/><path d="M490.4,631.0V681.8" stroke="#f4a460" stroke-width="0.9053884572897756"/><path d="M343.9,697.5H391.3" stroke="#f08a8a" stroke-width="0.8937668580917191"/><path d="M395.8,732.8V780.6" stroke="#cfd2d2" stroke-width="1.1864848308246079"/><path d="M199.5,531.7V568.5" stroke="#8eaadb" stroke-width="0.9185585870861565"/><path d="M464.0,657.1V710.4" stroke="#f8c79e" stroke-width="0.8527432534933351"/><path d="M242.0,520.5V556.7" stroke="#8eaadb" stroke-width="0.8246136376812437"/><path d="M328.7,728.6H383.7" stroke="#f08a8a" stroke-width="1.0434704696172568"/><path d="M562.2,738.0H615.7" stroke="#f08a8a" stroke-width="0.9415190958594621"/><path d="M360.0,562.1V624.7" stroke="#4472c4" stroke-width="1.0608094430063661"/><path d="M661.0,747.6V774.9" stroke="#8eaadb" stroke-width="0.8535469510142649"/><path d="M222.5,559.8V617.8" stroke="#cfd2d2" stroke-width="1.0496596833136207"/><path d="M224.7,649.0V678.0" stroke="#f08a8a" stroke-width="0.8324640908339082"/><path d="M605.8,608.0V680.6" stroke="#f8c79e" stroke-width="1.0128220154889127"/><path d="M582.0,699.7V729.5" stroke="#cfd2d2" stroke-width="0.8914056245206955"/><path d="M281.9,450.0V600.0" stroke="#f08a8a" stroke-width="1.0"/><path d="M383.6,746.8H423.3" stroke="#f08a8a" stroke-width="0.8563832603400023"/><path d="M394.8,646.0H448.1" stroke="#e8262a" stroke-width="0.8861421382467773"/><path d="M531.7,606.1V655.0" stroke="#8eaadb" stroke-width="0.8044883022101246"/><path d="M319.8,626.4V673.4" stroke="#8eaadb" stroke-width="1.0431217961475499"/><path d="M322.0,541.8V595.3" stroke="#8eaadb" stroke-width="1.1554994370639435"/><path d="M96.0,596.7V646.5" stroke="#cfd2d2" stroke-width="0.9260137572821239"/><path d="M350.4,594.3V631.2" stroke="#8eaadb" stroke-width="1.021964191704859"/><path d="M177.6,687.6V748.6" stroke="#b0b4b4" stroke-width="1.0247060036110591"/><path d="M470.7,706.9V755.7" stroke="#4472c4" stroke-width="1.1494873172535645"/><path d="M360.0,670.0V758.3" stroke="#f08a8a" stroke-width="0.996767045145313"/><path d="M224.0,467.2V524.6" stroke="#cfd2d2" stroke-width="1.1050115631872361"/><path d="M519.0,631.2V721.3" stroke="#f4a460" stroke-width="0.9151293711358978"/><path d="M392.0,622.4V669.0" stroke="#f8c79e" stroke-width="1.0784904317874997"/><path d="M444.4,673.8V741.5" stroke="#e8262a" stroke-width="1.1981463881474808"/><path d="M603.0,420.0V700.0" stroke="#f8c79e" stroke-width="1.0"/><path d="M516.7,687.4V711.4" stroke="#8eaadb" stroke-width="0.882161448467004"/><path d="M505.8,694.3V739.7" stroke="#4472c4" stroke-width="0.939383293056693"/><path d="M378.8,635.6V661.1" stroke="#8eaadb" stroke-width="1.0001803631341992"/><path d="M570.0,658.6V780.0" stroke="#f8c79e" stroke-width="1.0560826663107936"/><path d="M198.4,394.1V512.8" stroke="#f8c79e" stroke-width="1.0064614847619782"/><path d="M304.4,678.5V725.9" stroke="#e8262a" stroke-width="0.977422917613668"/><path d="M598.0,730.0V779.8" stroke="#8eaadb" stroke-width="0.9359607196686057"/><path d="M239.0,578.0H314.0" stroke="#f08a8a" stroke-width="1.1795457288982159"/><path d="M115.0,748.7V790.2" stroke="#b0b4b4" stroke-width="1.0069256835404978"/><path d="M516.7,687.8V744.4" stroke="#e8262a" stroke-width="1.0723556508829353"/><path d="M324.0,554.4V615.2" stroke="#8eaadb" stroke-width="1.136161424138908"/><path d="M641.2,666.7V708.5" stroke="#8eaadb" stroke-width="1.0996778004580674"/><path d="M525.0,747.5V785.7" stroke="#cfd2d2" stroke-width="0.9952895922617258"/><path d="M375.3,629.8H417.9" stroke="#f8c79e" stroke-width="0.8702961243122312"/><path d="M270.5,530.7V583.2" stroke="#4472c4" stroke-width="1.011831237395666"/><path d="M371.0,587.6V639.3" stroke="#4472c4" stroke-width="1.0847019893729142"/><path d="M344.0,572.6V630.5" stroke="#8eaadb" stroke-width="0.9182113518488839"/><path d="M184.0,463.4V519.2" stroke="#8eaadb" stroke-width="1.1832235068374688"/><path d="M600.6,372.0V700.0" stroke="#f4a460" stroke-width="1.0"/><path d="M183.0,544.8V609.8" stroke="#4472c4" stroke-width="1.084321051973703"/><path d="M326.0,583.8V619.5" stroke="#4472c4" stroke-width="0.8258066019029195"/><path d="M512.0,731.6V765.4" stroke="#4472c4" stroke-width="1.0824776693298157"/><path d="M320.3,333.4V381.4" stroke="#8eaadb" stroke-width="1.1321372841716546"/><path d="M567.2,693.8V751.4" stroke="#f08a8a" stroke-width="1.1162387573504977"/><path d="M512.5,635.8V697.1" stroke="#f8c79e" stroke-width="1.074510402455755"/><path d="M482.5,551.0V700.0" stroke="#f08a8a" stroke-width="1.0"/><path d="M498.0,635.7V681.0" stroke="#f8c79e" stroke-width="1.0338832258763122"/><path d="M96.0,390.0V470.0" stroke="#cfd2d2" stroke-width="1.0"/><path d="M361.4,658.0H406.4" stroke="#f8c79e" stroke-width="0.8229728673288562"/><path d="M102.7,727.4V785.7" stroke="#b0b4b4" stroke-width="0.9051845130270394"/><path d="M107.0,566.8V623.2" stroke="#f08a8a" stroke-width="1.0065100306432082"/><path d="M516.4,698.5V771.5" stroke="#f08a8a" stroke-width="1.019461946710323"/><path d="M487.0,686.9V748.2" stroke="#e8262a" stroke-width="0.993817355273155"/><path d="M163.4,661.8V727.5" stroke="#f08a8a" stroke-width="1.0287551689071532"/><path d="M510.0,595.0V702.7" stroke="#f4a460" stroke-width="1.0479842757961142"/><path d="M669.0,747.7V803.1" stroke="#4472c4" stroke-width="0.9304635687347238"/><path d="M413.8,600.5V664.0" stroke="#e8262a" stroke-width="0.9344222866850683"/><path d="M613.0,753.6V787.9" stroke="#b0b4b4" stroke-width="1.1297081476717428"/><path d="M256.3,438.0V510.0" stroke="#4472c4" stroke-width="1.0"/><path d="M313.0,522.5V558.8" stroke="#8eaadb" stroke-width="1.0150006423732991"/><path d="M197.2,667.1V703.7" stroke="#f08a8a" stroke-width="0.8296382607200272"/><path d="M483.0,710.2V754.3" stroke="#8eaadb" stroke-width="0.9896980824326608"/><path d="M533.0,726.7V777.2" stroke="#cfd2d2" stroke-width="0.8524686410627424"/><path d="M192.0,431.3V521.3" stroke="#f4a460" stroke-width="0.9180915514206954"/><path d="M652.3,692.9V766.5" stroke="#f08a8a" stroke-width="0.8957718093587465"/><path d="M552.6,745.0H600.1" stroke="#f8c79e" stroke-width="1.14252772427867"/><path d="M598.6,735.0H657.8" stroke="#e8262a" stroke-width="0.9986502378896922"/><path d="M226.9,480.0V600.9" stroke="#f8c79e" stroke-width="1.168319967671252"/><path d="M281.9,573.6V610.2" stroke="#e8262a" stroke-width="1.1304174733777883"/><path d="M635.0,719.2V806.1" stroke="#f8c79e" stroke-width="0.8929075339712786"/><path d="M584.0,712.1V778.3" stroke="#e8262a" stroke-width="1.074920231616317"/><path d="M259.1,586.4H308.6" stroke="#f08a8a" stroke-width="1.1014255323404982"/><path d="M512.0,693.2V748.2" stroke="#f4a460" stroke-width="0.875899489606794"/><path d="M501.4,601.0V692.5" stroke="#f4a460" stroke-width="1.0704475812859764"/><path d="M666.8,722.3V772.2" stroke="#8eaadb" stroke-width="0.9038672455928419"/><path d="M199.5,549.4V600.1" stroke="#8eaadb" stroke-width="1.1108695725224005"/><path d="M218.0,670.1V705.6" stroke="#f08a8a" stroke-width="1.1680400758719038"/><path d="M623.0,588.0V740.0" stroke="#f4a460" stroke-width="1.0"/><path d="M234.5,530.4V564.1" stroke="#8eaadb" stroke-width="1.172591733532745"/><path d="M464.0,655.4V711.0" stroke="#f08a8a" stroke-width="0.9792402029553121"/><path d="M217.0,612.1V686.3" stroke="#f08a8a" stroke-width="0.9055655874307438"/><path d="M85.2,707.4H126.3" stroke="#f08a8a" stroke-width="1.0945815734975974"/><path d="M520.4,726.0H558.1" stroke="#f08a8a" stroke-width="1.0960232227653715"/><path d="M371.0,542.4V605.5" stroke="#4472c4" stroke-width="1.063117694380761"/><path d="M250.9,334.6V374.6" stroke="#8eaadb" stroke-width="1.0019015621209937"/><path d="M96.5,488.8V538.5" stroke="#cfd2d2" stroke-width="1.0907476701711964"/><path d="M347.0,561.5V615.7" stroke="#f4a460" stroke-width="1.0177129618923506"/><path d="M199.5,572.7V633.4" stroke="#4472c4" stroke-width="1.0702707956777315"/><path d="M557.5,734.0H607.3" stroke="#e8262a" stroke-width="1.1744495771920476"/><path d="M668.5,720.3V783.9" stroke="#8eaadb" stroke-width="1.0025001018085504"/><path d="M316.5,510.7V564.3" stroke="#8eaadb" stroke-width="1.1470174501489663"/><path d="M334.8,731.5H405.6" stroke="#e8262a" stroke-width="1.0922014151559636"/><path d="M317.6,335.0V640.0" stroke="#e8262a" stroke-width="1.0"/><path d="M231.0,617.2V706.2" stroke="#e8262a" stroke-width="1.1361903699257265"/><path d="M182.9,495.0H207.1" stroke="#f4a460" stroke-width="0.8507604220599421"/><path d="M262.8,565.6V603.9" stroke="#8eaadb" stroke-width="1.0083001877472744"/><path d="M117.0,727.2V799.6" stroke="#f08a8a" stroke-width="0.8501976075345214"/><path d="M349.5,427.0V600.0" stroke="#f4a460" stroke-width="1.0"/><path d="M369.0,552.9V585.1" stroke="#f8c79e" stroke-width="0.8901526511032817"/><path d="M228.0,527.0V566.9" stroke="#4472c4" stroke-width="1.0179763310419137"/><path d="M417.0,582.1V636.3" stroke="#f8c79e" stroke-width="0.9653440896382053"/><path d="M171.5,647.4V728.0" stroke="#e8262a" stroke-width="0.9602853623319618"/><path d="M183.0,528.1V592.6" stroke="#8eaadb" stroke-width="1.1104646701149212"/><path d="M510.0,622.9V747.2" stroke="#f8c79e" stroke-width="1.0976954426829344"/><path d="M454.0,712.5V737.6" stroke="#e8262a" stroke-width="1.0356988547671866"/><path d="M191.0,316.0V640.0" stroke="#f8c79e" stroke-width="1.0"/><path d="M98.0,530.5V555.9" stroke="#f08a8a" stroke-width="1.0706595724627164"/><path d="M497.0,732.5V789.5" stroke="#4472c4" stroke-width="0.8966757847333208"/><path d="M636.8,658.9V722.1" stroke="#8eaadb" stroke-width="1.1350180897491176"/><path d="M593.0,745.2V798.3" stroke="#cfd2d2" stroke-width="1.0050458764527115"/><path d="M483.9,646.1V754.6" stroke="#f8c79e" stroke-width="1.0608751648306547"/><path d="M435.7,579.9V684.1" stroke="#f8c79e" stroke-width="1.1392637415493052"/><path d="M182.4,641.4V690.9" stroke="#e8262a" stroke-width="0.9644208080337564"/><path d="M209.0,571.4V621.7" stroke="#f8c79e" stroke-width="1.0844905635518525"/><path d="M150.3,704.0H196.1" stroke="#e8262a" stroke-width="1.1271302195702164"/><path d="M80.0,668.0H137.6" stroke="#f08a8a" stroke-width="1.0089573111457115"/><path d="M322.0,501.4V551.6" stroke="#8eaadb" stroke-width="1.1658173250632522"/><path d="M209.0,527.1V598.5" stroke="#f8c79e" stroke-width="0.902152462629951"/><path d="M452.0,535.0V640.0" stroke="#cfd2d2" stroke-width="1.4"/><path d="M137.7,727.5V768.6" stroke="#f08a8a" stroke-width="1.1921743978548724"/><path d="M646.7,637.0V720.0" stroke="#e8262a" stroke-width="1.0"/><path d="M423.0,712.2V759.4" stroke="#f08a8a" stroke-width="0.9935265855121711"/><path d="M516.4,734.7V800.5" stroke="#cfd2d2" stroke-width="0.8329797879711511"/><path d="M191.8,734.3V780.9" stroke="#cfd2d2" stroke-width="1.0844136963595732"/><path d="M632.9,653.4V699.5" stroke="#4472c4" stroke-width="0.8953736064548405"/><path d="M460.9,670.0H500.6" stroke="#f8c79e" stroke-width="0.8300170530063997"/><path d="M328.5,589.4V622.2" stroke="#8eaadb" stroke-width="1.0192338511147485"/><path d="M143.2,674.0V703.0" stroke="#e8262a" stroke-width="0.9266399989731647"/><path d="M229.0,335.0V560.0" stroke="#e8262a" stroke-width="1.0"/><path d="M323.0,528.4V580.4" stroke="#4472c4" stroke-width="0.8700998257359376"/><path d="M608.5,623.3V702.5" stroke="#f8c79e" stroke-width="1.120620359682846"/><path d="M461.0,736.4V777.0" stroke="#8eaadb" stroke-width="1.076918326147867"/><path d="M113.6,568.0V640.0" stroke="#ece94c" stroke-width="1.0"/><path d="M336.9,703.6V751.8" stroke="#f08a8a" stroke-width="0.9305673423475033"/><path d="M284.0,543.6V584.4" stroke="#8eaadb" stroke-width="1.108962534036149"/><path d="M427.0,603.0V654.7" stroke="#f8c79e" stroke-width="0.9181232042747068"/><path d="M538.0,603.0V700.0" stroke="#cfd2d2" stroke-width="1.2"/><path d="M415.0,546.7V597.0" stroke="#f8c79e" stroke-width="0.8795480607508736"/><path d="M290.0,537.1V576.8" stroke="#8eaadb" stroke-width="1.0063344422728884"/><path d="M219.0,596.8V670.5" stroke="#f8c79e" stroke-width="0.8722367596931959"/><path d="M156.3,636.0V715.0" stroke="#ece94c" stroke-width="1.2"/><path d="M516.7,681.0V775.2" stroke="#f08a8a" stroke-width="0.9524776844710993"/><path d="M649.2,672.6V719.6" stroke="#8eaadb" stroke-width="1.0941563039039228"/><path d="M99.9,615.0V673.2" stroke="#f08a8a" stroke-width="0.9036259305784698"/><path d="M405.0,596.2V667.5" stroke="#f4a460" stroke-width="1.1263819554607322"/><path d="M359.0,684.1V740.0" stroke="#f08a8a" stroke-width="0.9341812795177293"/><path d="M392.5,520.0V680.0" stroke="#f4a460" stroke-width="1.0"/><path d="M219.6,486.0V504.2" stroke="#4472c4" stroke-width="1.1785833730927973"/><path d="M218.0,491.6V534.3" stroke="#cfd2d2" stroke-width="0.8038025779862366"/><path d="M655.0,680.5V728.4" stroke="#8eaadb" stroke-width="1.1830327827966889"/><path d="M322.0,591.6V621.9" stroke="#8eaadb" stroke-width="0.9146665442460676"/><path d="M513.6,460.0V740.0" stroke="#f08a8a" stroke-width="1.2"/><path d="M181.0,418.5V531.0" stroke="#f4a460" stroke-width="1.1861905429019277"/><path d="M193.4,701.9V746.3" stroke="#f08a8a" stroke-width="0.8581684713872765"/><path d="M199.5,610.8V660.9" stroke="#8eaadb" stroke-width="1.0965716739113773"/><path d="M356.5,480.0V640.0" stroke="#f4a460" stroke-width="1.0"/><path d="M219.6,501.2V520.4" stroke="#8eaadb" stroke-width="1.0189344897141557"/><path d="M356.5,523.1V558.3" stroke="#f4a460" stroke-width="0.9187300549448107"/><path d="M603.0,662.4V755.2" stroke="#f8c79e" stroke-width="1.183498861197187"/><path d="M265.0,553.1V618.1" stroke="#f08a8a" stroke-width="0.8923845291613305"/><path d="M500.0,636.5V709.1" stroke="#f8c79e" stroke-width="1.008525462244881"/><path d="M379.0,683.9V755.3" stroke="#e8262a" stroke-width="1.046821727312525"/><path d="M306.9,696.4H350.9" stroke="#e8262a" stroke-width="1.1707947611229943"/><path d="M469.6,630.9V682.2" stroke="#f08a8a" stroke-width="0.9510876615560765"/><path d="M180.0,428.9V496.3" stroke="#f8c79e" stroke-width="0.9471178636366325"/><path d="M410.0,557.1V621.0" stroke="#f4a460" stroke-width="0.8936379253410788"/><path d="M385.3,636.0H430.6" stroke="#f8c79e" stroke-width="0.8252185835293624"/><path d="M489.0,724.3V763.0" stroke="#8eaadb" stroke-width="1.0194126023213614"/><path d="M490.7,698.8H543.4" stroke="#f08a8a" stroke-width="1.0656166654406225"/><path d="M183.4,306.4V337.7" stroke="#4472c4" stroke-width="0.8073631275474843"/><path d="M591.8,570.7H626.5" stroke="#f8c79e" stroke-width="1.0856908369977913"/><path d="M608.4,531.0V720.0" stroke="#f8c79e" stroke-width="1.0"/><path d="M341.7,577.1V630.8" stroke="#4472c4" stroke-width="0.9175847495417384"/><path d="M508.0,729.1V772.8" stroke="#b0b4b4" stroke-width="0.976239454796701"/><path d="M258.5,535.7V582.7" stroke="#8eaadb" stroke-width="0.9759692834230799"/><path d="M388.2,616.6H422.5" stroke="#f4a460" stroke-width="1.0244227122951206"/><path d="M586.6,759.4V789.2" stroke="#b0b4b4" stroke-width="0.8461041523807435"/><path d="M198.4,503.7V611.6" stroke="#f8c79e" stroke-width="1.1789719876081914"/><path d="M375.5,673.9V728.8" stroke="#f08a8a" stroke-width="0.8653787539188744"/><path d="M464.0,666.1V715.0" stroke="#f08a8a" stroke-width="0.8083694454582194"/><path d="M372.0,623.0V667.8" stroke="#e8262a" stroke-width="1.1577312627783676"/><path d="M98.0,553.3V599.5" stroke="#b0b4b4" stroke-width="1.0301267113604973"/><path d="M229.3,276.1V304.1" stroke="#4472c4" stroke-width="0.9880572353714737"/><path d="M560.5,658.5V730.2" stroke="#e8262a" stroke-width="1.1236222457346754"/><path d="M643.0,741.4V788.2" stroke="#f08a8a" stroke-width="1.0056020182314884"/><path d="M533.8,685.6V744.7" stroke="#f08a8a" stroke-width="1.1383155986475646"/><path d="M642.0,715.9V762.0" stroke="#f08a8a" stroke-width="0.913613736956147"/><path d="M666.0,748.0V801.4" stroke="#cfd2d2" stroke-width="0.9018653628592552"/><path d="M170.4,423.0V760.0" stroke="#cfd2d2" stroke-width="1.0"/><path d="M548.0,668.8V694.6" stroke="#8eaadb" stroke-width="0.8493563122156522"/><path d="M500.0,746.4V783.1" stroke="#cfd2d2" stroke-width="0.8540613088861989"/><path d="M374.5,661.2V761.1" stroke="#e8262a" stroke-width="0.8018752934035006"/><path d="M427.0,556.0V690.0" stroke="#f4a460" stroke-width="1.0"/><path d="M79.0,732.0H146.9" stroke="#f08a8a" stroke-width="0.8789137221985109"/><path d="M266.0,566.1V604.6" stroke="#8eaadb" stroke-width="0.85500514166694"/><path d="M379.0,717.6V773.3" stroke="#f08a8a" stroke-width="1.127114644915978"/><path d="M201.7,448.8V501.9" stroke="#f8c79e" stroke-width="1.0408935220837945"/><path d="M314.6,730.0H371.2" stroke="#e8262a" stroke-width="1.0396435407671232"/><path d="M358.0,555.8V625.4" stroke="#f4a460" stroke-width="0.8469107907939852"/><path d="M210.0,708.1V741.7" stroke="#cfd2d2" stroke-width="1.0758983853418522"/><path d="M96.0,604.5V643.9" stroke="#cfd2d2" stroke-width="1.193059426655161"/><path d="M236.0,497.1V542.5" stroke="#8eaadb" stroke-width="0.8753687766153335"/><path d="M475.7,738.0H545.8" stroke="#e8262a" stroke-width="1.1022494123737805"/><path d="M468.5,699.0H514.1" stroke="#e8262a" stroke-width="1.1176640083577911"/><path d="M313.2,665.3V714.3" stroke="#f08a8a" stroke-width="1.0592695186350647"/><path d="M333.0,568.7V647.4" stroke="#f8c79e" stroke-width="1.0738593507513037"/><path d="M668.0,716.7V781.4" stroke="#4472c4" stroke-width="1.1563316788744609"/><path d="M191.0,515.7V572.2" stroke="#f8c79e" stroke-width="0.9479301148657905"/><path d="M98.0,316.0V420.0" stroke="#4472c4" stroke-width="1.0"/><path d="M535.0,615.0V700.0" stroke="#8eaadb" stroke-width="1.0"/><path d="M395.8,699.7V764.2" stroke="#cfd2d2" stroke-width="0.8801153516740124"/><path d="M479.5,718.0V775.8" stroke="#4472c4" stroke-width="0.9919795100234055"/><path d="M628.0,652.2V772.8" stroke="#f8c79e" stroke-width="0.8649037235068147"/><path d="M251.5,335.0V541.0" stroke="#e8262a" stroke-width="1.0"/><path d="M461.0,643.4V729.5" stroke="#f08a8a" stroke-width="0.8465707902727719"/><path d="M336.9,661.4V695.9" stroke="#f08a8a" stroke-width="1.0097158363085035"/><path d="M322.0,564.2V624.0" stroke="#4472c4" stroke-width="0.9492480197876785"/><path d="M257.4,523.0V554.6" stroke="#f08a8a" stroke-width="1.0205028818598554"/><path d="M199.5,651.6V691.6" stroke="#4472c4" stroke-width="1.105482887850983"/><path d="M410.5,571.7V658.0" stroke="#f8c79e" stroke-width="1.1337778872507225"/><path d="M344.8,490.4V600.9" stroke="#f4a460" stroke-width="1.070860754819777"/><path d="M541.0,737.8V774.4" stroke="#cfd2d2" stroke-width="1.1449604666528073"/><path d="M377.5,523.0V660.0" stroke="#f8c79e" stroke-width="1.0"/><path d="M578.5,643.0H611.3" stroke="#f4a460" stroke-width="1.1083495169224102"/><path d="M646.3,641.9V694.3" stroke="#8eaadb" stroke-width="0.8899654486795758"/><path d="M359.0,546.7V626.4" stroke="#f8c79e" stroke-width="0.8596725319512413"/><path d="M295.7,551.5V601.3" stroke="#8eaadb" stroke-width="0.9389069081529939"/><path d="M211.5,622.6V674.3" stroke="#cfd2d2" stroke-width="0.877259870104784"/><path d="M532.0,602.0V640.0" stroke="#4472c4" stroke-width="1.0"/><path d="M486.0,679.6V745.3" stroke="#f8c79e" stroke-width="1.123523664328474"/><path d="M520.0,729.0V775.4" stroke="#b0b4b4" stroke-width="0.9467996032145749"/><path d="M642.0,747.6V805.1" stroke="#cfd2d2" stroke-width="1.0906600414269807"/><path d="M371.0,714.4V750.4" stroke="#b0b4b4" stroke-width="1.1141063672243945"/><path d="M225.8,537.0V635.7" stroke="#f4a460" stroke-width="0.9450023604911826"/><path d="M532.8,701.4H593.6" stroke="#e8262a" stroke-width="0.861515350377487"/><path d="M407.5,644.0H437.9" stroke="#f8c79e" stroke-width="1.0833594486984803"/><path d="M670.4,710.6V745.6" stroke="#f8c79e" stroke-width="1.0165557090142936"/><path d="M243.0,345.0V440.0" stroke="#8eaadb" stroke-width="1.0"/><path d="M502.3,686.7H577.5" stroke="#f08a8a" stroke-width="0.8870398807738448"/><path d="M225.0,520.0V690.0" stroke="#e8262a" stroke-width="1.0"/><path d="M442.7,678.0H495.6" stroke="#e8262a" stroke-width="1.1542727702458084"/><path d="M185.0,693.3V735.9" stroke="#f08a8a" stroke-width="1.0136701163748318"/><path d="M610.0,707.0V767.7" stroke="#f4a460" stroke-width="1.0118632255900768"/><path d="M527.0,691.0V756.1" stroke="#e8262a" stroke-width="1.16291405629184"/><path d="M180.1,729.0H214.4" stroke="#e8262a" stroke-width="1.1910651014998614"/><path d="M187.4,720.3V765.3" stroke="#cfd2d2" stroke-width="1.1551770573092996"/><path d="M499.0,707.2V754.9" stroke="#f08a8a" stroke-width="1.0754286482267712"/><path d="M489.1,683.4H537.9" stroke="#f8c79e" stroke-width="0.9314225595368791"/><path d="M234.8,432.2V477.5" stroke="#8eaadb" stroke-width="0.9701023409079621"/><path d="M553.0,748.3V797.1" stroke="#cfd2d2" stroke-width="1.0024165153436153"/><path d="M98.8,513.7V587.7" stroke="#f08a8a" stroke-width="1.061074354323935"/><path d="M281.9,555.0V605.0" stroke="#f08a8a" stroke-width="1.1733073978939756"/><path d="M349.2,657.6H415.2" stroke="#f08a8a" stroke-width="0.9047453296783853"/><path d="M541.8,722.5V750.8" stroke="#b0b4b4" stroke-width="1.1693513648676765"/><path d="M546.0,735.3V780.3" stroke="#cfd2d2" stroke-width="0.9019288713501246"/><path d="M170.6,603.4V634.8" stroke="#b0b4b4" stroke-width="0.9035944470528646"/><path d="M541.0,696.6V741.4" stroke="#e8262a" stroke-width="1.0002556724761498"/><path d="M175.8,661.4V708.4" stroke="#cfd2d2" stroke-width="0.9820022938798951"/><path d="M466.0,737.7V774.6" stroke="#8eaadb" stroke-width="1.0710482982566731"/><path d="M513.4,604.7V640.2" stroke="#f08a8a" stroke-width="0.8606866332257103"/><path d="M565.4,722.0H589.8" stroke="#f8c79e" stroke-width="0.9875902156539392"/><path d="M567.5,633.0V740.0" stroke="#f08a8a" stroke-width="1.0"/><path d="M184.0,506.2V532.3" stroke="#8eaadb" stroke-width="0.9685329400629192"/><path d="M588.0,661.8V738.6" stroke="#f4a460" stroke-width="0.8876154603474044"/><path d="M451.9,624.3H518.5" stroke="#e8262a" stroke-width="1.1267740057399913"/><path d="M223.4,338.9V384.8" stroke="#8eaadb" stroke-width="0.826657890975647"/><path d="M372.0,633.8V673.0" stroke="#f08a8a" stroke-width="0.9841548442690917"/></g>
<path d="M123,752.6H672.0" stroke="#111" stroke-width="1.3" stroke-dasharray="5.2,3.2" fill="none"/>
<path d="M484.3,655V708" stroke="#111" stroke-width="1.6" stroke-dasharray="4,3" fill="none"/>
<circle cx="97.5" cy="476.6" r="6.1" fill="#b4b9b9" stroke="#111" stroke-width="1.2"/><circle cx="99.0" cy="494.6" r="6.1" fill="#b4b9b9" stroke="#111" stroke-width="1.2"/><circle cx="96.5" cy="516.0" r="6.1" fill="#b4b9b9" stroke="#111" stroke-width="1.2"/><circle cx="97.0" cy="522.0" r="6.1" fill="#b4b9b9" stroke="#111" stroke-width="1.2"/><circle cx="220.8" cy="405.0" r="6.1" fill="#b4b9b9" stroke="#111" stroke-width="1.2"/><circle cx="224.0" cy="491.5" r="6.1" fill="#b4b9b9" stroke="#111" stroke-width="1.2"/><circle cx="225.8" cy="508.0" r="6.1" fill="#b4b9b9" stroke="#111" stroke-width="1.2"/><circle cx="218.0" cy="514.0" r="6.1" fill="#b4b9b9" stroke="#111" stroke-width="1.2"/><circle cx="218.7" cy="526.6" r="6.1" fill="#b4b9b9" stroke="#111" stroke-width="1.2"/><circle cx="96.6" cy="558.6" r="6.1" fill="#b4b9b9" stroke="#111" stroke-width="1.2"/><circle cx="98.0" cy="565.0" r="6.1" fill="#b4b9b9" stroke="#111" stroke-width="1.2"/><circle cx="96.0" cy="614.5" r="6.1" fill="#b4b9b9" stroke="#111" stroke-width="1.2"/><circle cx="96.0" cy="626.5" r="6.1" fill="#b4b9b9" stroke="#111" stroke-width="1.2"/><circle cx="170.6" cy="622.8" r="6.1" fill="#b4b9b9" stroke="#111" stroke-width="1.2"/><circle cx="222.5" cy="585.0" r="6.1" fill="#b4b9b9" stroke="#111" stroke-width="1.2"/><circle cx="218.7" cy="602.0" r="6.1" fill="#b4b9b9" stroke="#111" stroke-width="1.2"/><circle cx="211.5" cy="638.5" r="6.1" fill="#b4b9b9" stroke="#111" stroke-width="1.2"/><circle cx="224.7" cy="644.0" r="6.1" fill="#b4b9b9" stroke="#111" stroke-width="1.2"/><circle cx="175.8" cy="679.7" r="6.1" fill="#b4b9b9" stroke="#111" stroke-width="1.2"/><circle cx="101.4" cy="733.6" r="6.1" fill="#b4b9b9" stroke="#111" stroke-width="1.2"/><circle cx="99.9" cy="748.0" r="6.1" fill="#b4b9b9" stroke="#111" stroke-width="1.2"/><circle cx="102.7" cy="753.0" r="6.1" fill="#b4b9b9" stroke="#111" stroke-width="1.2"/><circle cx="118.0" cy="752.0" r="6.1" fill="#b4b9b9" stroke="#111" stroke-width="1.2"/><circle cx="107.0" cy="772.4" r="6.1" fill="#b4b9b9" stroke="#111" stroke-width="1.2"/><circle cx="115.0" cy="768.7" r="6.1" fill="#b4b9b9" stroke="#111" stroke-width="1.2"/><circle cx="177.6" cy="716.0" r="6.1" fill="#b4b9b9" stroke="#111" stroke-width="1.2"/><circle cx="210.0" cy="723.0" r="6.1" fill="#b4b9b9" stroke="#111" stroke-width="1.2"/><circle cx="228.4" cy="724.4" r="6.1" fill="#b4b9b9" stroke="#111" stroke-width="1.2"/><circle cx="217.0" cy="747.4" r="6.1" fill="#b4b9b9" stroke="#111" stroke-width="1.2"/><circle cx="191.8" cy="764.0" r="6.1" fill="#b4b9b9" stroke="#111" stroke-width="1.2"/><circle cx="187.4" cy="740.0" r="6.1" fill="#b4b9b9" stroke="#111" stroke-width="1.2"/><circle cx="278.0" cy="631.0" r="6.1" fill="#b4b9b9" stroke="#111" stroke-width="1.2"/><circle cx="371.0" cy="726.0" r="6.1" fill="#b4b9b9" stroke="#111" stroke-width="1.2"/><circle cx="395.8" cy="729.0" r="6.1" fill="#b4b9b9" stroke="#111" stroke-width="1.2"/><circle cx="395.8" cy="756.6" r="6.1" fill="#b4b9b9" stroke="#111" stroke-width="1.2"/><circle cx="471.8" cy="773.7" r="6.1" fill="#b4b9b9" stroke="#111" stroke-width="1.2"/><circle cx="513.4" cy="754.4" r="6.1" fill="#b4b9b9" stroke="#111" stroke-width="1.2"/><circle cx="516.7" cy="763.0" r="6.1" fill="#b4b9b9" stroke="#111" stroke-width="1.2"/><circle cx="513.0" cy="754.0" r="6.1" fill="#b4b9b9" stroke="#111" stroke-width="1.2"/><circle cx="516.4" cy="763.6" r="6.1" fill="#b4b9b9" stroke="#111" stroke-width="1.2"/><circle cx="525.0" cy="760.0" r="6.1" fill="#b4b9b9" stroke="#111" stroke-width="1.2"/><circle cx="541.8" cy="738.0" r="6.1" fill="#b4b9b9" stroke="#111" stroke-width="1.2"/><circle cx="541.0" cy="757.0" r="6.1" fill="#b4b9b9" stroke="#111" stroke-width="1.2"/><circle cx="533.0" cy="750.0" r="6.1" fill="#b4b9b9" stroke="#111" stroke-width="1.2"/><circle cx="553.0" cy="767.0" r="6.1" fill="#b4b9b9" stroke="#111" stroke-width="1.2"/><circle cx="576.0" cy="763.6" r="6.1" fill="#b4b9b9" stroke="#111" stroke-width="1.2"/><circle cx="578.5" cy="771.0" r="6.1" fill="#b4b9b9" stroke="#111" stroke-width="1.2"/><circle cx="586.6" cy="775.0" r="6.1" fill="#b4b9b9" stroke="#111" stroke-width="1.2"/><circle cx="593.0" cy="773.0" r="6.1" fill="#b4b9b9" stroke="#111" stroke-width="1.2"/><circle cx="582.0" cy="711.5" r="6.1" fill="#b4b9b9" stroke="#111" stroke-width="1.2"/><circle cx="609.6" cy="707.0" r="6.1" fill="#b4b9b9" stroke="#111" stroke-width="1.2"/><circle cx="604.5" cy="761.0" r="6.1" fill="#b4b9b9" stroke="#111" stroke-width="1.2"/><circle cx="613.0" cy="767.0" r="6.1" fill="#b4b9b9" stroke="#111" stroke-width="1.2"/><circle cx="618.0" cy="770.0" r="6.1" fill="#b4b9b9" stroke="#111" stroke-width="1.2"/><circle cx="625.5" cy="768.0" r="6.1" fill="#b4b9b9" stroke="#111" stroke-width="1.2"/><circle cx="593.6" cy="773.7" r="6.1" fill="#b4b9b9" stroke="#111" stroke-width="1.2"/><circle cx="661.0" cy="774.4" r="6.1" fill="#b4b9b9" stroke="#111" stroke-width="1.2"/><circle cx="602.0" cy="749.0" r="6.1" fill="#b4b9b9" stroke="#111" stroke-width="1.2"/><circle cx="508.0" cy="745.0" r="6.1" fill="#b4b9b9" stroke="#111" stroke-width="1.2"/><circle cx="520.0" cy="748.0" r="6.1" fill="#b4b9b9" stroke="#111" stroke-width="1.2"/><circle cx="530.0" cy="755.0" r="6.1" fill="#b4b9b9" stroke="#111" stroke-width="1.2"/><circle cx="546.0" cy="762.0" r="6.1" fill="#b4b9b9" stroke="#111" stroke-width="1.2"/><circle cx="560.0" cy="768.0" r="6.1" fill="#b4b9b9" stroke="#111" stroke-width="1.2"/><circle cx="568.0" cy="770.0" r="6.1" fill="#b4b9b9" stroke="#111" stroke-width="1.2"/><circle cx="572.0" cy="752.0" r="6.1" fill="#b4b9b9" stroke="#111" stroke-width="1.2"/><circle cx="563.0" cy="757.0" r="6.1" fill="#b4b9b9" stroke="#111" stroke-width="1.2"/><circle cx="600.0" cy="768.0" r="6.1" fill="#b4b9b9" stroke="#111" stroke-width="1.2"/><circle cx="598.0" cy="757.0" r="6.1" fill="#b4b9b9" stroke="#111" stroke-width="1.2"/><circle cx="634.0" cy="766.0" r="6.1" fill="#b4b9b9" stroke="#111" stroke-width="1.2"/><circle cx="642.0" cy="768.0" r="6.1" fill="#b4b9b9" stroke="#111" stroke-width="1.2"/><circle cx="650.0" cy="770.0" r="6.1" fill="#b4b9b9" stroke="#111" stroke-width="1.2"/><circle cx="656.0" cy="772.0" r="6.1" fill="#b4b9b9" stroke="#111" stroke-width="1.2"/><circle cx="666.0" cy="776.0" r="6.1" fill="#b4b9b9" stroke="#111" stroke-width="1.2"/><circle cx="668.0" cy="770.0" r="6.1" fill="#b4b9b9" stroke="#111" stroke-width="1.2"/><circle cx="477.0" cy="760.0" r="6.1" fill="#b4b9b9" stroke="#111" stroke-width="1.2"/><circle cx="485.0" cy="762.0" r="6.1" fill="#b4b9b9" stroke="#111" stroke-width="1.2"/><circle cx="492.0" cy="758.0" r="6.1" fill="#b4b9b9" stroke="#111" stroke-width="1.2"/><circle cx="500.0" cy="764.0" r="6.1" fill="#b4b9b9" stroke="#111" stroke-width="1.2"/><circle cx="507.0" cy="760.0" r="6.1" fill="#b4b9b9" stroke="#111" stroke-width="1.2"/>
<path d="M349.5,510.8l6.9,6.9l-6.9,6.9l-6.9,-6.9z" fill="#f59c4e" stroke="#000" stroke-width="1.7" stroke-linejoin="miter"/><path d="M356.5,538.1l6.9,6.9l-6.9,6.9l-6.9,-6.9z" fill="#f59c4e" stroke="#000" stroke-width="1.7" stroke-linejoin="miter"/><path d="M344.8,560.4l6.9,6.9l-6.9,6.9l-6.9,-6.9z" fill="#f59c4e" stroke="#000" stroke-width="1.7" stroke-linejoin="miter"/><path d="M368.5,561.1l6.9,6.9l-6.9,6.9l-6.9,-6.9z" fill="#f59c4e" stroke="#000" stroke-width="1.7" stroke-linejoin="miter"/><path d="M347.0,584.1l6.9,6.9l-6.9,6.9l-6.9,-6.9z" fill="#f59c4e" stroke="#000" stroke-width="1.7" stroke-linejoin="miter"/><path d="M358.0,583.1l6.9,6.9l-6.9,6.9l-6.9,-6.9z" fill="#f59c4e" stroke="#000" stroke-width="1.7" stroke-linejoin="miter"/><path d="M415.0,577.1l6.9,6.9l-6.9,6.9l-6.9,-6.9z" fill="#f59c4e" stroke="#000" stroke-width="1.7" stroke-linejoin="miter"/><path d="M408.5,579.1l6.9,6.9l-6.9,6.9l-6.9,-6.9z" fill="#f59c4e" stroke="#000" stroke-width="1.7" stroke-linejoin="miter"/><path d="M410.0,585.8l6.9,6.9l-6.9,6.9l-6.9,-6.9z" fill="#f59c4e" stroke="#000" stroke-width="1.7" stroke-linejoin="miter"/><path d="M199.5,457.7l6.9,6.9l-6.9,6.9l-6.9,-6.9z" fill="#f59c4e" stroke="#000" stroke-width="1.7" stroke-linejoin="miter"/><path d="M198.4,467.1l6.9,6.9l-6.9,6.9l-6.9,-6.9z" fill="#f59c4e" stroke="#000" stroke-width="1.7" stroke-linejoin="miter"/><path d="M180.0,478.5l6.9,6.9l-6.9,6.9l-6.9,-6.9z" fill="#f59c4e" stroke="#000" stroke-width="1.7" stroke-linejoin="miter"/><path d="M192.0,479.6l6.9,6.9l-6.9,6.9l-6.9,-6.9z" fill="#f59c4e" stroke="#000" stroke-width="1.7" stroke-linejoin="miter"/><path d="M201.7,480.7l6.9,6.9l-6.9,6.9l-6.9,-6.9z" fill="#f59c4e" stroke="#000" stroke-width="1.7" stroke-linejoin="miter"/><path d="M181.0,488.1l6.9,6.9l-6.9,6.9l-6.9,-6.9z" fill="#f59c4e" stroke="#000" stroke-width="1.7" stroke-linejoin="miter"/><path d="M192.0,488.1l6.9,6.9l-6.9,6.9l-6.9,-6.9z" fill="#f59c4e" stroke="#000" stroke-width="1.7" stroke-linejoin="miter"/><path d="M191.0,548.1l6.9,6.9l-6.9,6.9l-6.9,-6.9z" fill="#f59c4e" stroke="#000" stroke-width="1.7" stroke-linejoin="miter"/><path d="M226.9,558.1l6.9,6.9l-6.9,6.9l-6.9,-6.9z" fill="#f59c4e" stroke="#000" stroke-width="1.7" stroke-linejoin="miter"/><path d="M209.0,578.1l6.9,6.9l-6.9,6.9l-6.9,-6.9z" fill="#f59c4e" stroke="#000" stroke-width="1.7" stroke-linejoin="miter"/><path d="M198.4,582.1l6.9,6.9l-6.9,6.9l-6.9,-6.9z" fill="#f59c4e" stroke="#000" stroke-width="1.7" stroke-linejoin="miter"/><path d="M190.7,594.1l6.9,6.9l-6.9,6.9l-6.9,-6.9z" fill="#f59c4e" stroke="#000" stroke-width="1.7" stroke-linejoin="miter"/><path d="M208.0,598.8l6.9,6.9l-6.9,6.9l-6.9,-6.9z" fill="#f59c4e" stroke="#000" stroke-width="1.7" stroke-linejoin="miter"/><path d="M209.0,603.1l6.9,6.9l-6.9,6.9l-6.9,-6.9z" fill="#f59c4e" stroke="#000" stroke-width="1.7" stroke-linejoin="miter"/><path d="M225.8,602.1l6.9,6.9l-6.9,6.9l-6.9,-6.9z" fill="#f59c4e" stroke="#000" stroke-width="1.7" stroke-linejoin="miter"/><path d="M217.0,617.1l6.9,6.9l-6.9,6.9l-6.9,-6.9z" fill="#f59c4e" stroke="#000" stroke-width="1.7" stroke-linejoin="miter"/><path d="M219.0,626.1l6.9,6.9l-6.9,6.9l-6.9,-6.9z" fill="#f59c4e" stroke="#000" stroke-width="1.7" stroke-linejoin="miter"/><path d="M344.3,560.5l6.9,6.9l-6.9,6.9l-6.9,-6.9z" fill="#f59c4e" stroke="#000" stroke-width="1.7" stroke-linejoin="miter"/><path d="M369.0,561.1l6.9,6.9l-6.9,6.9l-6.9,-6.9z" fill="#f59c4e" stroke="#000" stroke-width="1.7" stroke-linejoin="miter"/><path d="M359.0,583.1l6.9,6.9l-6.9,6.9l-6.9,-6.9z" fill="#f59c4e" stroke="#000" stroke-width="1.7" stroke-linejoin="miter"/><path d="M364.7,600.5l6.9,6.9l-6.9,6.9l-6.9,-6.9z" fill="#f59c4e" stroke="#000" stroke-width="1.7" stroke-linejoin="miter"/><path d="M333.0,604.1l6.9,6.9l-6.9,6.9l-6.9,-6.9z" fill="#f59c4e" stroke="#000" stroke-width="1.7" stroke-linejoin="miter"/><path d="M335.0,621.8l6.9,6.9l-6.9,6.9l-6.9,-6.9z" fill="#f59c4e" stroke="#000" stroke-width="1.7" stroke-linejoin="miter"/><path d="M337.0,593.1l6.9,6.9l-6.9,6.9l-6.9,-6.9z" fill="#f59c4e" stroke="#000" stroke-width="1.7" stroke-linejoin="miter"/><path d="M377.8,586.7l6.9,6.9l-6.9,6.9l-6.9,-6.9z" fill="#f59c4e" stroke="#000" stroke-width="1.7" stroke-linejoin="miter"/><path d="M371.0,561.6l6.9,6.9l-6.9,6.9l-6.9,-6.9z" fill="#f59c4e" stroke="#000" stroke-width="1.7" stroke-linejoin="miter"/><path d="M412.7,596.6l6.9,6.9l-6.9,6.9l-6.9,-6.9z" fill="#f59c4e" stroke="#000" stroke-width="1.7" stroke-linejoin="miter"/><path d="M417.0,606.5l6.9,6.9l-6.9,6.9l-6.9,-6.9z" fill="#f59c4e" stroke="#000" stroke-width="1.7" stroke-linejoin="miter"/><path d="M410.5,611.5l6.9,6.9l-6.9,6.9l-6.9,-6.9z" fill="#f59c4e" stroke="#000" stroke-width="1.7" stroke-linejoin="miter"/><path d="M400.7,609.7l6.9,6.9l-6.9,6.9l-6.9,-6.9z" fill="#f59c4e" stroke="#000" stroke-width="1.7" stroke-linejoin="miter"/><path d="M393.0,614.1l6.9,6.9l-6.9,6.9l-6.9,-6.9z" fill="#f59c4e" stroke="#000" stroke-width="1.7" stroke-linejoin="miter"/><path d="M400.7,622.9l6.9,6.9l-6.9,6.9l-6.9,-6.9z" fill="#f59c4e" stroke="#000" stroke-width="1.7" stroke-linejoin="miter"/><path d="M392.0,627.1l6.9,6.9l-6.9,6.9l-6.9,-6.9z" fill="#f59c4e" stroke="#000" stroke-width="1.7" stroke-linejoin="miter"/><path d="M380.0,627.1l6.9,6.9l-6.9,6.9l-6.9,-6.9z" fill="#f59c4e" stroke="#000" stroke-width="1.7" stroke-linejoin="miter"/><path d="M405.0,629.1l6.9,6.9l-6.9,6.9l-6.9,-6.9z" fill="#f59c4e" stroke="#000" stroke-width="1.7" stroke-linejoin="miter"/><path d="M399.6,638.1l6.9,6.9l-6.9,6.9l-6.9,-6.9z" fill="#f59c4e" stroke="#000" stroke-width="1.7" stroke-linejoin="miter"/><path d="M392.0,636.1l6.9,6.9l-6.9,6.9l-6.9,-6.9z" fill="#f59c4e" stroke="#000" stroke-width="1.7" stroke-linejoin="miter"/><path d="M436.8,627.1l6.9,6.9l-6.9,6.9l-6.9,-6.9z" fill="#f59c4e" stroke="#000" stroke-width="1.7" stroke-linejoin="miter"/><path d="M427.0,637.1l6.9,6.9l-6.9,6.9l-6.9,-6.9z" fill="#f59c4e" stroke="#000" stroke-width="1.7" stroke-linejoin="miter"/><path d="M421.5,634.1l6.9,6.9l-6.9,6.9l-6.9,-6.9z" fill="#f59c4e" stroke="#000" stroke-width="1.7" stroke-linejoin="miter"/><path d="M435.7,643.7l6.9,6.9l-6.9,6.9l-6.9,-6.9z" fill="#f59c4e" stroke="#000" stroke-width="1.7" stroke-linejoin="miter"/><path d="M440.0,654.6l6.9,6.9l-6.9,6.9l-6.9,-6.9z" fill="#f59c4e" stroke="#000" stroke-width="1.7" stroke-linejoin="miter"/><path d="M453.0,654.6l6.9,6.9l-6.9,6.9l-6.9,-6.9z" fill="#f59c4e" stroke="#000" stroke-width="1.7" stroke-linejoin="miter"/><path d="M380.0,651.1l6.9,6.9l-6.9,6.9l-6.9,-6.9z" fill="#f59c4e" stroke="#000" stroke-width="1.7" stroke-linejoin="miter"/><path d="M400.7,664.1l6.9,6.9l-6.9,6.9l-6.9,-6.9z" fill="#f59c4e" stroke="#000" stroke-width="1.7" stroke-linejoin="miter"/><path d="M464.0,672.1l6.9,6.9l-6.9,6.9l-6.9,-6.9z" fill="#f59c4e" stroke="#000" stroke-width="1.7" stroke-linejoin="miter"/><path d="M483.9,656.8l6.9,6.9l-6.9,6.9l-6.9,-6.9z" fill="#f59c4e" stroke="#000" stroke-width="1.7" stroke-linejoin="miter"/><path d="M490.4,663.1l6.9,6.9l-6.9,6.9l-6.9,-6.9z" fill="#f59c4e" stroke="#000" stroke-width="1.7" stroke-linejoin="miter"/><path d="M498.0,661.1l6.9,6.9l-6.9,6.9l-6.9,-6.9z" fill="#f59c4e" stroke="#000" stroke-width="1.7" stroke-linejoin="miter"/><path d="M504.7,660.1l6.9,6.9l-6.9,6.9l-6.9,-6.9z" fill="#f59c4e" stroke="#000" stroke-width="1.7" stroke-linejoin="miter"/><path d="M494.8,668.9l6.9,6.9l-6.9,6.9l-6.9,-6.9z" fill="#f59c4e" stroke="#000" stroke-width="1.7" stroke-linejoin="miter"/><path d="M501.4,673.1l6.9,6.9l-6.9,6.9l-6.9,-6.9z" fill="#f59c4e" stroke="#000" stroke-width="1.7" stroke-linejoin="miter"/><path d="M511.0,673.1l6.9,6.9l-6.9,6.9l-6.9,-6.9z" fill="#f59c4e" stroke="#000" stroke-width="1.7" stroke-linejoin="miter"/><path d="M519.0,676.5l6.9,6.9l-6.9,6.9l-6.9,-6.9z" fill="#f59c4e" stroke="#000" stroke-width="1.7" stroke-linejoin="miter"/><path d="M466.0,720.1l6.9,6.9l-6.9,6.9l-6.9,-6.9z" fill="#f59c4e" stroke="#000" stroke-width="1.7" stroke-linejoin="miter"/><path d="M483.9,724.6l6.9,6.9l-6.9,6.9l-6.9,-6.9z" fill="#f59c4e" stroke="#000" stroke-width="1.7" stroke-linejoin="miter"/><path d="M447.7,713.6l6.9,6.9l-6.9,6.9l-6.9,-6.9z" fill="#f59c4e" stroke="#000" stroke-width="1.7" stroke-linejoin="miter"/><path d="M500.0,674.8l6.9,6.9l-6.9,6.9l-6.9,-6.9z" fill="#f59c4e" stroke="#000" stroke-width="1.7" stroke-linejoin="miter"/><path d="M510.0,675.1l6.9,6.9l-6.9,6.9l-6.9,-6.9z" fill="#f59c4e" stroke="#000" stroke-width="1.7" stroke-linejoin="miter"/><path d="M510.0,701.6l6.9,6.9l-6.9,6.9l-6.9,-6.9z" fill="#f59c4e" stroke="#000" stroke-width="1.7" stroke-linejoin="miter"/><path d="M486.0,710.1l6.9,6.9l-6.9,6.9l-6.9,-6.9z" fill="#f59c4e" stroke="#000" stroke-width="1.7" stroke-linejoin="miter"/><path d="M600.7,563.8l6.9,6.9l-6.9,6.9l-6.9,-6.9z" fill="#f59c4e" stroke="#000" stroke-width="1.7" stroke-linejoin="miter"/><path d="M605.8,636.1l6.9,6.9l-6.9,6.9l-6.9,-6.9z" fill="#f59c4e" stroke="#000" stroke-width="1.7" stroke-linejoin="miter"/><path d="M608.4,662.1l6.9,6.9l-6.9,6.9l-6.9,-6.9z" fill="#f59c4e" stroke="#000" stroke-width="1.7" stroke-linejoin="miter"/><path d="M612.0,677.5l6.9,6.9l-6.9,6.9l-6.9,-6.9z" fill="#f59c4e" stroke="#000" stroke-width="1.7" stroke-linejoin="miter"/><path d="M512.5,673.6l6.9,6.9l-6.9,6.9l-6.9,-6.9z" fill="#f59c4e" stroke="#000" stroke-width="1.7" stroke-linejoin="miter"/><path d="M608.5,662.5l6.9,6.9l-6.9,6.9l-6.9,-6.9z" fill="#f59c4e" stroke="#000" stroke-width="1.7" stroke-linejoin="miter"/><path d="M611.7,678.4l6.9,6.9l-6.9,6.9l-6.9,-6.9z" fill="#f59c4e" stroke="#000" stroke-width="1.7" stroke-linejoin="miter"/><path d="M615.3,677.1l6.9,6.9l-6.9,6.9l-6.9,-6.9z" fill="#f59c4e" stroke="#000" stroke-width="1.7" stroke-linejoin="miter"/><path d="M621.0,687.9l6.9,6.9l-6.9,6.9l-6.9,-6.9z" fill="#f59c4e" stroke="#000" stroke-width="1.7" stroke-linejoin="miter"/><path d="M611.7,693.6l6.9,6.9l-6.9,6.9l-6.9,-6.9z" fill="#f59c4e" stroke="#000" stroke-width="1.7" stroke-linejoin="miter"/><path d="M635.0,761.1l6.9,6.9l-6.9,6.9l-6.9,-6.9z" fill="#f59c4e" stroke="#000" stroke-width="1.7" stroke-linejoin="miter"/><path d="M670.4,725.5l6.9,6.9l-6.9,6.9l-6.9,-6.9z" fill="#f59c4e" stroke="#000" stroke-width="1.7" stroke-linejoin="miter"/><path d="M520.0,693.1l6.9,6.9l-6.9,6.9l-6.9,-6.9z" fill="#f59c4e" stroke="#000" stroke-width="1.7" stroke-linejoin="miter"/><path d="M528.0,705.1l6.9,6.9l-6.9,6.9l-6.9,-6.9z" fill="#f59c4e" stroke="#000" stroke-width="1.7" stroke-linejoin="miter"/><path d="M545.0,715.1l6.9,6.9l-6.9,6.9l-6.9,-6.9z" fill="#f59c4e" stroke="#000" stroke-width="1.7" stroke-linejoin="miter"/><path d="M552.0,728.1l6.9,6.9l-6.9,6.9l-6.9,-6.9z" fill="#f59c4e" stroke="#000" stroke-width="1.7" stroke-linejoin="miter"/><path d="M560.0,735.1l6.9,6.9l-6.9,6.9l-6.9,-6.9z" fill="#f59c4e" stroke="#000" stroke-width="1.7" stroke-linejoin="miter"/><path d="M570.0,741.1l6.9,6.9l-6.9,6.9l-6.9,-6.9z" fill="#f59c4e" stroke="#000" stroke-width="1.7" stroke-linejoin="miter"/><path d="M578.0,738.1l6.9,6.9l-6.9,6.9l-6.9,-6.9z" fill="#f59c4e" stroke="#000" stroke-width="1.7" stroke-linejoin="miter"/><path d="M586.0,745.1l6.9,6.9l-6.9,6.9l-6.9,-6.9z" fill="#f59c4e" stroke="#000" stroke-width="1.7" stroke-linejoin="miter"/><path d="M592.0,739.1l6.9,6.9l-6.9,6.9l-6.9,-6.9z" fill="#f59c4e" stroke="#000" stroke-width="1.7" stroke-linejoin="miter"/><path d="M596.0,731.1l6.9,6.9l-6.9,6.9l-6.9,-6.9z" fill="#f59c4e" stroke="#000" stroke-width="1.7" stroke-linejoin="miter"/><path d="M512.0,715.1l6.9,6.9l-6.9,6.9l-6.9,-6.9z" fill="#f59c4e" stroke="#000" stroke-width="1.7" stroke-linejoin="miter"/><path d="M522.0,729.1l6.9,6.9l-6.9,6.9l-6.9,-6.9z" fill="#f59c4e" stroke="#000" stroke-width="1.7" stroke-linejoin="miter"/><path d="M534.0,737.1l6.9,6.9l-6.9,6.9l-6.9,-6.9z" fill="#f59c4e" stroke="#000" stroke-width="1.7" stroke-linejoin="miter"/><path d="M548.0,741.1l6.9,6.9l-6.9,6.9l-6.9,-6.9z" fill="#f59c4e" stroke="#000" stroke-width="1.7" stroke-linejoin="miter"/><path d="M565.0,723.1l6.9,6.9l-6.9,6.9l-6.9,-6.9z" fill="#f59c4e" stroke="#000" stroke-width="1.7" stroke-linejoin="miter"/><path d="M575.0,715.1l6.9,6.9l-6.9,6.9l-6.9,-6.9z" fill="#f59c4e" stroke="#000" stroke-width="1.7" stroke-linejoin="miter"/><path d="M588.0,719.1l6.9,6.9l-6.9,6.9l-6.9,-6.9z" fill="#f59c4e" stroke="#000" stroke-width="1.7" stroke-linejoin="miter"/><path d="M603.0,721.1l6.9,6.9l-6.9,6.9l-6.9,-6.9z" fill="#f59c4e" stroke="#000" stroke-width="1.7" stroke-linejoin="miter"/><path d="M610.0,733.1l6.9,6.9l-6.9,6.9l-6.9,-6.9z" fill="#f59c4e" stroke="#000" stroke-width="1.7" stroke-linejoin="miter"/><path d="M620.0,741.1l6.9,6.9l-6.9,6.9l-6.9,-6.9z" fill="#f59c4e" stroke="#000" stroke-width="1.7" stroke-linejoin="miter"/><path d="M628.0,735.1l6.9,6.9l-6.9,6.9l-6.9,-6.9z" fill="#f59c4e" stroke="#000" stroke-width="1.7" stroke-linejoin="miter"/><path d="M655.0,738.1l6.9,6.9l-6.9,6.9l-6.9,-6.9z" fill="#f59c4e" stroke="#000" stroke-width="1.7" stroke-linejoin="miter"/><path d="M662.0,745.1l6.9,6.9l-6.9,6.9l-6.9,-6.9z" fill="#f59c4e" stroke="#000" stroke-width="1.7" stroke-linejoin="miter"/><path d="M572.0,693.1l6.9,6.9l-6.9,6.9l-6.9,-6.9z" fill="#f59c4e" stroke="#000" stroke-width="1.7" stroke-linejoin="miter"/><path d="M590.0,705.1l6.9,6.9l-6.9,6.9l-6.9,-6.9z" fill="#f59c4e" stroke="#000" stroke-width="1.7" stroke-linejoin="miter"/><path d="M191.9,250.3h13.4l-6.7,11.9z" fill="#4a7ac6" stroke="#0a0a14" stroke-width="1.25" stroke-linejoin="miter"/><path d="M222.6,264.3h13.4l-6.7,11.9z" fill="#4a7ac6" stroke="#0a0a14" stroke-width="1.25" stroke-linejoin="miter"/><path d="M222.6,290.5h13.4l-6.7,11.9z" fill="#4a7ac6" stroke="#0a0a14" stroke-width="1.25" stroke-linejoin="miter"/><path d="M222.6,293.5h13.4l-6.7,11.9z" fill="#4a7ac6" stroke="#0a0a14" stroke-width="1.25" stroke-linejoin="miter"/><path d="M222.6,302.0h13.4l-6.7,11.9z" fill="#4a7ac6" stroke="#0a0a14" stroke-width="1.25" stroke-linejoin="miter"/><path d="M176.7,321.8h13.4l-6.7,11.9z" fill="#4a7ac6" stroke="#0a0a14" stroke-width="1.25" stroke-linejoin="miter"/><path d="M176.7,330.5h13.4l-6.7,11.9z" fill="#4a7ac6" stroke="#0a0a14" stroke-width="1.25" stroke-linejoin="miter"/><path d="M175.7,337.8h13.4l-6.7,11.9z" fill="#4a7ac6" stroke="#0a0a14" stroke-width="1.25" stroke-linejoin="miter"/><path d="M176.7,347.0h13.4l-6.7,11.9z" fill="#4a7ac6" stroke="#0a0a14" stroke-width="1.25" stroke-linejoin="miter"/><path d="M176.7,361.8h13.4l-6.7,11.9z" fill="#4a7ac6" stroke="#0a0a14" stroke-width="1.25" stroke-linejoin="miter"/><path d="M212.6,352.4h13.4l-6.7,11.9z" fill="#4a7ac6" stroke="#0a0a14" stroke-width="1.25" stroke-linejoin="miter"/><path d="M216.7,359.0h13.4l-6.7,11.9z" fill="#4a7ac6" stroke="#0a0a14" stroke-width="1.25" stroke-linejoin="miter"/><path d="M244.2,353.3h13.4l-6.7,11.9z" fill="#4a7ac6" stroke="#0a0a14" stroke-width="1.25" stroke-linejoin="miter"/><path d="M236.3,390.4h13.4l-6.7,11.9z" fill="#4a7ac6" stroke="#0a0a14" stroke-width="1.25" stroke-linejoin="miter"/><path d="M221.1,394.8h13.4l-6.7,11.9z" fill="#4a7ac6" stroke="#0a0a14" stroke-width="1.25" stroke-linejoin="miter"/><path d="M176.7,396.0h13.4l-6.7,11.9z" fill="#4a7ac6" stroke="#0a0a14" stroke-width="1.25" stroke-linejoin="miter"/><path d="M178.3,405.0h13.4l-6.7,11.9z" fill="#4a7ac6" stroke="#0a0a14" stroke-width="1.25" stroke-linejoin="miter"/><path d="M91.3,402.0h13.4l-6.7,11.9z" fill="#4a7ac6" stroke="#0a0a14" stroke-width="1.25" stroke-linejoin="miter"/><path d="M313.6,365.6h13.4l-6.7,11.9z" fill="#4a7ac6" stroke="#0a0a14" stroke-width="1.25" stroke-linejoin="miter"/><path d="M314.2,474.4h13.4l-6.7,11.9z" fill="#4a7ac6" stroke="#0a0a14" stroke-width="1.25" stroke-linejoin="miter"/><path d="M314.2,482.6h13.4l-6.7,11.9z" fill="#4a7ac6" stroke="#0a0a14" stroke-width="1.25" stroke-linejoin="miter"/><path d="M314.2,489.0h13.4l-6.7,11.9z" fill="#4a7ac6" stroke="#0a0a14" stroke-width="1.25" stroke-linejoin="miter"/><path d="M315.3,525.0h13.4l-6.7,11.9z" fill="#4a7ac6" stroke="#0a0a14" stroke-width="1.25" stroke-linejoin="miter"/><path d="M306.3,530.0h13.4l-6.7,11.9z" fill="#4a7ac6" stroke="#0a0a14" stroke-width="1.25" stroke-linejoin="miter"/><path d="M309.3,539.5h13.4l-6.7,11.9z" fill="#4a7ac6" stroke="#0a0a14" stroke-width="1.25" stroke-linejoin="miter"/><path d="M307.8,549.7h13.4l-6.7,11.9z" fill="#4a7ac6" stroke="#0a0a14" stroke-width="1.25" stroke-linejoin="miter"/><path d="M316.3,555.0h13.4l-6.7,11.9z" fill="#4a7ac6" stroke="#0a0a14" stroke-width="1.25" stroke-linejoin="miter"/><path d="M315.3,561.0h13.4l-6.7,11.9z" fill="#4a7ac6" stroke="#0a0a14" stroke-width="1.25" stroke-linejoin="miter"/><path d="M366.1,571.0h13.4l-6.7,11.9z" fill="#4a7ac6" stroke="#0a0a14" stroke-width="1.25" stroke-linejoin="miter"/><path d="M367.3,579.0h13.4l-6.7,11.9z" fill="#4a7ac6" stroke="#0a0a14" stroke-width="1.25" stroke-linejoin="miter"/><path d="M372.3,582.0h13.4l-6.7,11.9z" fill="#4a7ac6" stroke="#0a0a14" stroke-width="1.25" stroke-linejoin="miter"/><path d="M372.3,588.0h13.4l-6.7,11.9z" fill="#4a7ac6" stroke="#0a0a14" stroke-width="1.25" stroke-linejoin="miter"/><path d="M277.3,557.0h13.4l-6.7,11.9z" fill="#4a7ac6" stroke="#0a0a14" stroke-width="1.25" stroke-linejoin="miter"/><path d="M283.3,563.0h13.4l-6.7,11.9z" fill="#4a7ac6" stroke="#0a0a14" stroke-width="1.25" stroke-linejoin="miter"/><path d="M289.3,585.0h13.4l-6.7,11.9z" fill="#4a7ac6" stroke="#0a0a14" stroke-width="1.25" stroke-linejoin="miter"/><path d="M302.3,583.0h13.4l-6.7,11.9z" fill="#4a7ac6" stroke="#0a0a14" stroke-width="1.25" stroke-linejoin="miter"/><path d="M177.3,445.0h13.4l-6.7,11.9z" fill="#4a7ac6" stroke="#0a0a14" stroke-width="1.25" stroke-linejoin="miter"/><path d="M177.3,457.4h13.4l-6.7,11.9z" fill="#4a7ac6" stroke="#0a0a14" stroke-width="1.25" stroke-linejoin="miter"/><path d="M177.3,467.0h13.4l-6.7,11.9z" fill="#4a7ac6" stroke="#0a0a14" stroke-width="1.25" stroke-linejoin="miter"/><path d="M177.3,474.0h13.4l-6.7,11.9z" fill="#4a7ac6" stroke="#0a0a14" stroke-width="1.25" stroke-linejoin="miter"/><path d="M177.3,491.0h13.4l-6.7,11.9z" fill="#4a7ac6" stroke="#0a0a14" stroke-width="1.25" stroke-linejoin="miter"/><path d="M177.3,503.0h13.4l-6.7,11.9z" fill="#4a7ac6" stroke="#0a0a14" stroke-width="1.25" stroke-linejoin="miter"/><path d="M177.3,510.0h13.4l-6.7,11.9z" fill="#4a7ac6" stroke="#0a0a14" stroke-width="1.25" stroke-linejoin="miter"/><path d="M177.3,515.0h13.4l-6.7,11.9z" fill="#4a7ac6" stroke="#0a0a14" stroke-width="1.25" stroke-linejoin="miter"/><path d="M177.3,523.0h13.4l-6.7,11.9z" fill="#4a7ac6" stroke="#0a0a14" stroke-width="1.25" stroke-linejoin="miter"/><path d="M177.3,531.0h13.4l-6.7,11.9z" fill="#4a7ac6" stroke="#0a0a14" stroke-width="1.25" stroke-linejoin="miter"/><path d="M177.3,537.0h13.4l-6.7,11.9z" fill="#4a7ac6" stroke="#0a0a14" stroke-width="1.25" stroke-linejoin="miter"/><path d="M192.3,453.0h13.4l-6.7,11.9z" fill="#4a7ac6" stroke="#0a0a14" stroke-width="1.25" stroke-linejoin="miter"/><path d="M192.3,479.0h13.4l-6.7,11.9z" fill="#4a7ac6" stroke="#0a0a14" stroke-width="1.25" stroke-linejoin="miter"/><path d="M192.3,500.0h13.4l-6.7,11.9z" fill="#4a7ac6" stroke="#0a0a14" stroke-width="1.25" stroke-linejoin="miter"/><path d="M192.3,522.0h13.4l-6.7,11.9z" fill="#4a7ac6" stroke="#0a0a14" stroke-width="1.25" stroke-linejoin="miter"/><path d="M199.3,469.0h13.4l-6.7,11.9z" fill="#4a7ac6" stroke="#0a0a14" stroke-width="1.25" stroke-linejoin="miter"/><path d="M202.3,504.5h13.4l-6.7,11.9z" fill="#4a7ac6" stroke="#0a0a14" stroke-width="1.25" stroke-linejoin="miter"/><path d="M212.9,411.0h13.4l-6.7,11.9z" fill="#4a7ac6" stroke="#0a0a14" stroke-width="1.25" stroke-linejoin="miter"/><path d="M212.9,455.0h13.4l-6.7,11.9z" fill="#4a7ac6" stroke="#0a0a14" stroke-width="1.25" stroke-linejoin="miter"/><path d="M212.9,474.0h13.4l-6.7,11.9z" fill="#4a7ac6" stroke="#0a0a14" stroke-width="1.25" stroke-linejoin="miter"/><path d="M212.9,490.0h13.4l-6.7,11.9z" fill="#4a7ac6" stroke="#0a0a14" stroke-width="1.25" stroke-linejoin="miter"/><path d="M212.9,507.0h13.4l-6.7,11.9z" fill="#4a7ac6" stroke="#0a0a14" stroke-width="1.25" stroke-linejoin="miter"/><path d="M227.3,456.0h13.4l-6.7,11.9z" fill="#4a7ac6" stroke="#0a0a14" stroke-width="1.25" stroke-linejoin="miter"/><path d="M227.3,519.0h13.4l-6.7,11.9z" fill="#4a7ac6" stroke="#0a0a14" stroke-width="1.25" stroke-linejoin="miter"/><path d="M221.3,534.0h13.4l-6.7,11.9z" fill="#4a7ac6" stroke="#0a0a14" stroke-width="1.25" stroke-linejoin="miter"/><path d="M215.3,542.0h13.4l-6.7,11.9z" fill="#4a7ac6" stroke="#0a0a14" stroke-width="1.25" stroke-linejoin="miter"/><path d="M222.3,395.0h13.4l-6.7,11.9z" fill="#4a7ac6" stroke="#0a0a14" stroke-width="1.25" stroke-linejoin="miter"/><path d="M176.3,548.0h13.4l-6.7,11.9z" fill="#4a7ac6" stroke="#0a0a14" stroke-width="1.25" stroke-linejoin="miter"/><path d="M176.3,556.0h13.4l-6.7,11.9z" fill="#4a7ac6" stroke="#0a0a14" stroke-width="1.25" stroke-linejoin="miter"/><path d="M176.3,561.0h13.4l-6.7,11.9z" fill="#4a7ac6" stroke="#0a0a14" stroke-width="1.25" stroke-linejoin="miter"/><path d="M176.3,570.0h13.4l-6.7,11.9z" fill="#4a7ac6" stroke="#0a0a14" stroke-width="1.25" stroke-linejoin="miter"/><path d="M176.3,577.0h13.4l-6.7,11.9z" fill="#4a7ac6" stroke="#0a0a14" stroke-width="1.25" stroke-linejoin="miter"/><path d="M176.3,585.0h13.4l-6.7,11.9z" fill="#4a7ac6" stroke="#0a0a14" stroke-width="1.25" stroke-linejoin="miter"/><path d="M176.3,598.0h13.4l-6.7,11.9z" fill="#4a7ac6" stroke="#0a0a14" stroke-width="1.25" stroke-linejoin="miter"/><path d="M176.3,605.0h13.4l-6.7,11.9z" fill="#4a7ac6" stroke="#0a0a14" stroke-width="1.25" stroke-linejoin="miter"/><path d="M176.3,618.0h13.4l-6.7,11.9z" fill="#4a7ac6" stroke="#0a0a14" stroke-width="1.25" stroke-linejoin="miter"/><path d="M176.3,624.0h13.4l-6.7,11.9z" fill="#4a7ac6" stroke="#0a0a14" stroke-width="1.25" stroke-linejoin="miter"/><path d="M192.8,552.0h13.4l-6.7,11.9z" fill="#4a7ac6" stroke="#0a0a14" stroke-width="1.25" stroke-linejoin="miter"/><path d="M192.8,560.0h13.4l-6.7,11.9z" fill="#4a7ac6" stroke="#0a0a14" stroke-width="1.25" stroke-linejoin="miter"/><path d="M192.8,568.0h13.4l-6.7,11.9z" fill="#4a7ac6" stroke="#0a0a14" stroke-width="1.25" stroke-linejoin="miter"/><path d="M192.8,574.4h13.4l-6.7,11.9z" fill="#4a7ac6" stroke="#0a0a14" stroke-width="1.25" stroke-linejoin="miter"/><path d="M192.8,582.0h13.4l-6.7,11.9z" fill="#4a7ac6" stroke="#0a0a14" stroke-width="1.25" stroke-linejoin="miter"/><path d="M192.8,601.8h13.4l-6.7,11.9z" fill="#4a7ac6" stroke="#0a0a14" stroke-width="1.25" stroke-linejoin="miter"/><path d="M192.8,606.0h13.4l-6.7,11.9z" fill="#4a7ac6" stroke="#0a0a14" stroke-width="1.25" stroke-linejoin="miter"/><path d="M192.8,619.3h13.4l-6.7,11.9z" fill="#4a7ac6" stroke="#0a0a14" stroke-width="1.25" stroke-linejoin="miter"/><path d="M192.8,634.6h13.4l-6.7,11.9z" fill="#4a7ac6" stroke="#0a0a14" stroke-width="1.25" stroke-linejoin="miter"/><path d="M192.8,647.8h13.4l-6.7,11.9z" fill="#4a7ac6" stroke="#0a0a14" stroke-width="1.25" stroke-linejoin="miter"/><path d="M192.8,659.8h13.4l-6.7,11.9z" fill="#4a7ac6" stroke="#0a0a14" stroke-width="1.25" stroke-linejoin="miter"/><path d="M192.8,666.4h13.4l-6.7,11.9z" fill="#4a7ac6" stroke="#0a0a14" stroke-width="1.25" stroke-linejoin="miter"/><path d="M192.8,675.0h13.4l-6.7,11.9z" fill="#4a7ac6" stroke="#0a0a14" stroke-width="1.25" stroke-linejoin="miter"/><path d="M210.3,571.0h13.4l-6.7,11.9z" fill="#4a7ac6" stroke="#0a0a14" stroke-width="1.25" stroke-linejoin="miter"/><path d="M202.6,588.6h13.4l-6.7,11.9z" fill="#4a7ac6" stroke="#0a0a14" stroke-width="1.25" stroke-linejoin="miter"/><path d="M214.7,542.7h13.4l-6.7,11.9z" fill="#4a7ac6" stroke="#0a0a14" stroke-width="1.25" stroke-linejoin="miter"/><path d="M227.8,545.0h13.4l-6.7,11.9z" fill="#4a7ac6" stroke="#0a0a14" stroke-width="1.25" stroke-linejoin="miter"/><path d="M89.9,605.0h13.4l-6.7,11.9z" fill="#4a7ac6" stroke="#0a0a14" stroke-width="1.25" stroke-linejoin="miter"/><path d="M228.1,455.9h13.4l-6.7,11.9z" fill="#4a7ac6" stroke="#0a0a14" stroke-width="1.25" stroke-linejoin="miter"/><path d="M249.6,472.0h13.4l-6.7,11.9z" fill="#4a7ac6" stroke="#0a0a14" stroke-width="1.25" stroke-linejoin="miter"/><path d="M229.3,518.7h13.4l-6.7,11.9z" fill="#4a7ac6" stroke="#0a0a14" stroke-width="1.25" stroke-linejoin="miter"/><path d="M235.3,529.7h13.4l-6.7,11.9z" fill="#4a7ac6" stroke="#0a0a14" stroke-width="1.25" stroke-linejoin="miter"/><path d="M225.3,534.0h13.4l-6.7,11.9z" fill="#4a7ac6" stroke="#0a0a14" stroke-width="1.25" stroke-linejoin="miter"/><path d="M244.1,540.6h13.4l-6.7,11.9z" fill="#4a7ac6" stroke="#0a0a14" stroke-width="1.25" stroke-linejoin="miter"/><path d="M263.8,545.0h13.4l-6.7,11.9z" fill="#4a7ac6" stroke="#0a0a14" stroke-width="1.25" stroke-linejoin="miter"/><path d="M270.3,545.0h13.4l-6.7,11.9z" fill="#4a7ac6" stroke="#0a0a14" stroke-width="1.25" stroke-linejoin="miter"/><path d="M309.8,539.0h13.4l-6.7,11.9z" fill="#4a7ac6" stroke="#0a0a14" stroke-width="1.25" stroke-linejoin="miter"/><path d="M308.7,549.0h13.4l-6.7,11.9z" fill="#4a7ac6" stroke="#0a0a14" stroke-width="1.25" stroke-linejoin="miter"/><path d="M316.3,554.7h13.4l-6.7,11.9z" fill="#4a7ac6" stroke="#0a0a14" stroke-width="1.25" stroke-linejoin="miter"/><path d="M251.8,555.8h13.4l-6.7,11.9z" fill="#4a7ac6" stroke="#0a0a14" stroke-width="1.25" stroke-linejoin="miter"/><path d="M245.3,563.5h13.4l-6.7,11.9z" fill="#4a7ac6" stroke="#0a0a14" stroke-width="1.25" stroke-linejoin="miter"/><path d="M263.8,565.7h13.4l-6.7,11.9z" fill="#4a7ac6" stroke="#0a0a14" stroke-width="1.25" stroke-linejoin="miter"/><path d="M259.3,571.0h13.4l-6.7,11.9z" fill="#4a7ac6" stroke="#0a0a14" stroke-width="1.25" stroke-linejoin="miter"/><path d="M245.3,576.6h13.4l-6.7,11.9z" fill="#4a7ac6" stroke="#0a0a14" stroke-width="1.25" stroke-linejoin="miter"/><path d="M256.1,582.0h13.4l-6.7,11.9z" fill="#4a7ac6" stroke="#0a0a14" stroke-width="1.25" stroke-linejoin="miter"/><path d="M282.3,560.8h13.4l-6.7,11.9z" fill="#4a7ac6" stroke="#0a0a14" stroke-width="1.25" stroke-linejoin="miter"/><path d="M289.0,584.0h13.4l-6.7,11.9z" fill="#4a7ac6" stroke="#0a0a14" stroke-width="1.25" stroke-linejoin="miter"/><path d="M272.6,598.5h13.4l-6.7,11.9z" fill="#4a7ac6" stroke="#0a0a14" stroke-width="1.25" stroke-linejoin="miter"/><path d="M271.3,604.0h13.4l-6.7,11.9z" fill="#4a7ac6" stroke="#0a0a14" stroke-width="1.25" stroke-linejoin="miter"/><path d="M264.9,610.5h13.4l-6.7,11.9z" fill="#4a7ac6" stroke="#0a0a14" stroke-width="1.25" stroke-linejoin="miter"/><path d="M285.7,607.0h13.4l-6.7,11.9z" fill="#4a7ac6" stroke="#0a0a14" stroke-width="1.25" stroke-linejoin="miter"/><path d="M294.3,600.7h13.4l-6.7,11.9z" fill="#4a7ac6" stroke="#0a0a14" stroke-width="1.25" stroke-linejoin="miter"/><path d="M301.7,612.0h13.4l-6.7,11.9z" fill="#4a7ac6" stroke="#0a0a14" stroke-width="1.25" stroke-linejoin="miter"/><path d="M306.3,605.0h13.4l-6.7,11.9z" fill="#4a7ac6" stroke="#0a0a14" stroke-width="1.25" stroke-linejoin="miter"/><path d="M298.8,624.0h13.4l-6.7,11.9z" fill="#4a7ac6" stroke="#0a0a14" stroke-width="1.25" stroke-linejoin="miter"/><path d="M313.1,651.0h13.4l-6.7,11.9z" fill="#4a7ac6" stroke="#0a0a14" stroke-width="1.25" stroke-linejoin="miter"/><path d="M310.9,587.5h13.4l-6.7,11.9z" fill="#4a7ac6" stroke="#0a0a14" stroke-width="1.25" stroke-linejoin="miter"/><path d="M315.3,592.0h13.4l-6.7,11.9z" fill="#4a7ac6" stroke="#0a0a14" stroke-width="1.25" stroke-linejoin="miter"/><path d="M319.3,587.5h13.4l-6.7,11.9z" fill="#4a7ac6" stroke="#0a0a14" stroke-width="1.25" stroke-linejoin="miter"/><path d="M326.3,586.5h13.4l-6.7,11.9z" fill="#4a7ac6" stroke="#0a0a14" stroke-width="1.25" stroke-linejoin="miter"/><path d="M315.3,600.7h13.4l-6.7,11.9z" fill="#4a7ac6" stroke="#0a0a14" stroke-width="1.25" stroke-linejoin="miter"/><path d="M321.8,606.0h13.4l-6.7,11.9z" fill="#4a7ac6" stroke="#0a0a14" stroke-width="1.25" stroke-linejoin="miter"/><path d="M335.0,598.5h13.4l-6.7,11.9z" fill="#4a7ac6" stroke="#0a0a14" stroke-width="1.25" stroke-linejoin="miter"/><path d="M343.7,604.0h13.4l-6.7,11.9z" fill="#4a7ac6" stroke="#0a0a14" stroke-width="1.25" stroke-linejoin="miter"/><path d="M353.3,595.0h13.4l-6.7,11.9z" fill="#4a7ac6" stroke="#0a0a14" stroke-width="1.25" stroke-linejoin="miter"/><path d="M321.8,624.8h13.4l-6.7,11.9z" fill="#4a7ac6" stroke="#0a0a14" stroke-width="1.25" stroke-linejoin="miter"/><path d="M335.0,619.0h13.4l-6.7,11.9z" fill="#4a7ac6" stroke="#0a0a14" stroke-width="1.25" stroke-linejoin="miter"/><path d="M342.3,621.5h13.4l-6.7,11.9z" fill="#4a7ac6" stroke="#0a0a14" stroke-width="1.25" stroke-linejoin="miter"/><path d="M362.3,613.0h13.4l-6.7,11.9z" fill="#4a7ac6" stroke="#0a0a14" stroke-width="1.25" stroke-linejoin="miter"/><path d="M364.3,575.5h13.4l-6.7,11.9z" fill="#4a7ac6" stroke="#0a0a14" stroke-width="1.25" stroke-linejoin="miter"/><path d="M368.9,583.0h13.4l-6.7,11.9z" fill="#4a7ac6" stroke="#0a0a14" stroke-width="1.25" stroke-linejoin="miter"/><path d="M372.3,638.0h13.4l-6.7,11.9z" fill="#4a7ac6" stroke="#0a0a14" stroke-width="1.25" stroke-linejoin="miter"/><path d="M366.3,572.0h13.4l-6.7,11.9z" fill="#4a7ac6" stroke="#0a0a14" stroke-width="1.25" stroke-linejoin="miter"/><path d="M367.7,576.6h13.4l-6.7,11.9z" fill="#4a7ac6" stroke="#0a0a14" stroke-width="1.25" stroke-linejoin="miter"/><path d="M373.3,582.0h13.4l-6.7,11.9z" fill="#4a7ac6" stroke="#0a0a14" stroke-width="1.25" stroke-linejoin="miter"/><path d="M369.9,586.5h13.4l-6.7,11.9z" fill="#4a7ac6" stroke="#0a0a14" stroke-width="1.25" stroke-linejoin="miter"/><path d="M374.3,589.7h13.4l-6.7,11.9z" fill="#4a7ac6" stroke="#0a0a14" stroke-width="1.25" stroke-linejoin="miter"/><path d="M364.3,612.7h13.4l-6.7,11.9z" fill="#4a7ac6" stroke="#0a0a14" stroke-width="1.25" stroke-linejoin="miter"/><path d="M372.1,640.0h13.4l-6.7,11.9z" fill="#4a7ac6" stroke="#0a0a14" stroke-width="1.25" stroke-linejoin="miter"/><path d="M376.9,676.0h13.4l-6.7,11.9z" fill="#4a7ac6" stroke="#0a0a14" stroke-width="1.25" stroke-linejoin="miter"/><path d="M455.3,737.4h13.4l-6.7,11.9z" fill="#4a7ac6" stroke="#0a0a14" stroke-width="1.25" stroke-linejoin="miter"/><path d="M464.0,730.8h13.4l-6.7,11.9z" fill="#4a7ac6" stroke="#0a0a14" stroke-width="1.25" stroke-linejoin="miter"/><path d="M470.3,727.5h13.4l-6.7,11.9z" fill="#4a7ac6" stroke="#0a0a14" stroke-width="1.25" stroke-linejoin="miter"/><path d="M459.3,745.0h13.4l-6.7,11.9z" fill="#4a7ac6" stroke="#0a0a14" stroke-width="1.25" stroke-linejoin="miter"/><path d="M456.3,753.8h13.4l-6.7,11.9z" fill="#4a7ac6" stroke="#0a0a14" stroke-width="1.25" stroke-linejoin="miter"/><path d="M454.3,761.5h13.4l-6.7,11.9z" fill="#4a7ac6" stroke="#0a0a14" stroke-width="1.25" stroke-linejoin="miter"/><path d="M461.8,758.0h13.4l-6.7,11.9z" fill="#4a7ac6" stroke="#0a0a14" stroke-width="1.25" stroke-linejoin="miter"/><path d="M468.3,751.6h13.4l-6.7,11.9z" fill="#4a7ac6" stroke="#0a0a14" stroke-width="1.25" stroke-linejoin="miter"/><path d="M472.8,745.0h13.4l-6.7,11.9z" fill="#4a7ac6" stroke="#0a0a14" stroke-width="1.25" stroke-linejoin="miter"/><path d="M490.3,755.0h13.4l-6.7,11.9z" fill="#4a7ac6" stroke="#0a0a14" stroke-width="1.25" stroke-linejoin="miter"/><path d="M495.8,747.0h13.4l-6.7,11.9z" fill="#4a7ac6" stroke="#0a0a14" stroke-width="1.25" stroke-linejoin="miter"/><path d="M505.3,741.8h13.4l-6.7,11.9z" fill="#4a7ac6" stroke="#0a0a14" stroke-width="1.25" stroke-linejoin="miter"/><path d="M499.1,722.0h13.4l-6.7,11.9z" fill="#4a7ac6" stroke="#0a0a14" stroke-width="1.25" stroke-linejoin="miter"/><path d="M510.0,697.0h13.4l-6.7,11.9z" fill="#4a7ac6" stroke="#0a0a14" stroke-width="1.25" stroke-linejoin="miter"/><path d="M465.3,740.0h13.4l-6.7,11.9z" fill="#4a7ac6" stroke="#0a0a14" stroke-width="1.25" stroke-linejoin="miter"/><path d="M469.3,736.0h13.4l-6.7,11.9z" fill="#4a7ac6" stroke="#0a0a14" stroke-width="1.25" stroke-linejoin="miter"/><path d="M474.3,739.0h13.4l-6.7,11.9z" fill="#4a7ac6" stroke="#0a0a14" stroke-width="1.25" stroke-linejoin="miter"/><path d="M478.3,743.0h13.4l-6.7,11.9z" fill="#4a7ac6" stroke="#0a0a14" stroke-width="1.25" stroke-linejoin="miter"/><path d="M482.3,748.0h13.4l-6.7,11.9z" fill="#4a7ac6" stroke="#0a0a14" stroke-width="1.25" stroke-linejoin="miter"/><path d="M463.3,750.0h13.4l-6.7,11.9z" fill="#4a7ac6" stroke="#0a0a14" stroke-width="1.25" stroke-linejoin="miter"/><path d="M473.3,755.0h13.4l-6.7,11.9z" fill="#4a7ac6" stroke="#0a0a14" stroke-width="1.25" stroke-linejoin="miter"/><path d="M467.3,763.0h13.4l-6.7,11.9z" fill="#4a7ac6" stroke="#0a0a14" stroke-width="1.25" stroke-linejoin="miter"/><path d="M459.3,767.0h13.4l-6.7,11.9z" fill="#4a7ac6" stroke="#0a0a14" stroke-width="1.25" stroke-linejoin="miter"/><path d="M476.3,733.0h13.4l-6.7,11.9z" fill="#4a7ac6" stroke="#0a0a14" stroke-width="1.25" stroke-linejoin="miter"/><path d="M525.0,624.4h13.4l-6.7,11.9z" fill="#4a7ac6" stroke="#0a0a14" stroke-width="1.25" stroke-linejoin="miter"/><path d="M525.0,647.4h13.4l-6.7,11.9z" fill="#4a7ac6" stroke="#0a0a14" stroke-width="1.25" stroke-linejoin="miter"/><path d="M523.7,652.5h13.4l-6.7,11.9z" fill="#4a7ac6" stroke="#0a0a14" stroke-width="1.25" stroke-linejoin="miter"/><path d="M523.3,661.5h13.4l-6.7,11.9z" fill="#4a7ac6" stroke="#0a0a14" stroke-width="1.25" stroke-linejoin="miter"/><path d="M534.0,665.0h13.4l-6.7,11.9z" fill="#4a7ac6" stroke="#0a0a14" stroke-width="1.25" stroke-linejoin="miter"/><path d="M523.7,671.7h13.4l-6.7,11.9z" fill="#4a7ac6" stroke="#0a0a14" stroke-width="1.25" stroke-linejoin="miter"/><path d="M518.3,676.8h13.4l-6.7,11.9z" fill="#4a7ac6" stroke="#0a0a14" stroke-width="1.25" stroke-linejoin="miter"/><path d="M541.3,676.8h13.4l-6.7,11.9z" fill="#4a7ac6" stroke="#0a0a14" stroke-width="1.25" stroke-linejoin="miter"/><path d="M629.1,657.3h13.4l-6.7,11.9z" fill="#4a7ac6" stroke="#0a0a14" stroke-width="1.25" stroke-linejoin="miter"/><path d="M626.2,672.6h13.4l-6.7,11.9z" fill="#4a7ac6" stroke="#0a0a14" stroke-width="1.25" stroke-linejoin="miter"/><path d="M639.6,675.5h13.4l-6.7,11.9z" fill="#4a7ac6" stroke="#0a0a14" stroke-width="1.25" stroke-linejoin="miter"/><path d="M637.9,679.2h13.4l-6.7,11.9z" fill="#4a7ac6" stroke="#0a0a14" stroke-width="1.25" stroke-linejoin="miter"/><path d="M620.9,683.6h13.4l-6.7,11.9z" fill="#4a7ac6" stroke="#0a0a14" stroke-width="1.25" stroke-linejoin="miter"/><path d="M634.5,685.0h13.4l-6.7,11.9z" fill="#4a7ac6" stroke="#0a0a14" stroke-width="1.25" stroke-linejoin="miter"/><path d="M646.9,682.8h13.4l-6.7,11.9z" fill="#4a7ac6" stroke="#0a0a14" stroke-width="1.25" stroke-linejoin="miter"/><path d="M642.5,687.2h13.4l-6.7,11.9z" fill="#4a7ac6" stroke="#0a0a14" stroke-width="1.25" stroke-linejoin="miter"/><path d="M630.1,693.0h13.4l-6.7,11.9z" fill="#4a7ac6" stroke="#0a0a14" stroke-width="1.25" stroke-linejoin="miter"/><path d="M646.9,696.7h13.4l-6.7,11.9z" fill="#4a7ac6" stroke="#0a0a14" stroke-width="1.25" stroke-linejoin="miter"/><path d="M622.1,701.0h13.4l-6.7,11.9z" fill="#4a7ac6" stroke="#0a0a14" stroke-width="1.25" stroke-linejoin="miter"/><path d="M633.8,701.8h13.4l-6.7,11.9z" fill="#4a7ac6" stroke="#0a0a14" stroke-width="1.25" stroke-linejoin="miter"/><path d="M642.5,700.4h13.4l-6.7,11.9z" fill="#4a7ac6" stroke="#0a0a14" stroke-width="1.25" stroke-linejoin="miter"/><path d="M649.8,704.0h13.4l-6.7,11.9z" fill="#4a7ac6" stroke="#0a0a14" stroke-width="1.25" stroke-linejoin="miter"/><path d="M584.1,698.2h13.4l-6.7,11.9z" fill="#4a7ac6" stroke="#0a0a14" stroke-width="1.25" stroke-linejoin="miter"/><path d="M592.2,697.4h13.4l-6.7,11.9z" fill="#4a7ac6" stroke="#0a0a14" stroke-width="1.25" stroke-linejoin="miter"/><path d="M586.3,707.0h13.4l-6.7,11.9z" fill="#4a7ac6" stroke="#0a0a14" stroke-width="1.25" stroke-linejoin="miter"/><path d="M582.7,714.0h13.4l-6.7,11.9z" fill="#4a7ac6" stroke="#0a0a14" stroke-width="1.25" stroke-linejoin="miter"/><path d="M590.0,715.0h13.4l-6.7,11.9z" fill="#4a7ac6" stroke="#0a0a14" stroke-width="1.25" stroke-linejoin="miter"/><path d="M607.5,709.9h13.4l-6.7,11.9z" fill="#4a7ac6" stroke="#0a0a14" stroke-width="1.25" stroke-linejoin="miter"/><path d="M606.0,714.2h13.4l-6.7,11.9z" fill="#4a7ac6" stroke="#0a0a14" stroke-width="1.25" stroke-linejoin="miter"/><path d="M616.3,707.0h13.4l-6.7,11.9z" fill="#4a7ac6" stroke="#0a0a14" stroke-width="1.25" stroke-linejoin="miter"/><path d="M619.2,711.3h13.4l-6.7,11.9z" fill="#4a7ac6" stroke="#0a0a14" stroke-width="1.25" stroke-linejoin="miter"/><path d="M626.5,708.4h13.4l-6.7,11.9z" fill="#4a7ac6" stroke="#0a0a14" stroke-width="1.25" stroke-linejoin="miter"/><path d="M648.3,709.9h13.4l-6.7,11.9z" fill="#4a7ac6" stroke="#0a0a14" stroke-width="1.25" stroke-linejoin="miter"/><path d="M606.8,735.5h13.4l-6.7,11.9z" fill="#4a7ac6" stroke="#0a0a14" stroke-width="1.25" stroke-linejoin="miter"/><path d="M591.3,751.6h13.4l-6.7,11.9z" fill="#4a7ac6" stroke="#0a0a14" stroke-width="1.25" stroke-linejoin="miter"/><path d="M644.7,764.7h13.4l-6.7,11.9z" fill="#4a7ac6" stroke="#0a0a14" stroke-width="1.25" stroke-linejoin="miter"/><path d="M654.3,752.0h13.4l-6.7,11.9z" fill="#4a7ac6" stroke="#0a0a14" stroke-width="1.25" stroke-linejoin="miter"/><path d="M655.7,732.0h13.4l-6.7,11.9z" fill="#4a7ac6" stroke="#0a0a14" stroke-width="1.25" stroke-linejoin="miter"/><path d="M660.1,737.7h13.4l-6.7,11.9z" fill="#4a7ac6" stroke="#0a0a14" stroke-width="1.25" stroke-linejoin="miter"/><path d="M661.3,747.0h13.4l-6.7,11.9z" fill="#4a7ac6" stroke="#0a0a14" stroke-width="1.25" stroke-linejoin="miter"/><path d="M661.8,755.0h13.4l-6.7,11.9z" fill="#4a7ac6" stroke="#0a0a14" stroke-width="1.25" stroke-linejoin="miter"/><path d="M660.3,763.0h13.4l-6.7,11.9z" fill="#4a7ac6" stroke="#0a0a14" stroke-width="1.25" stroke-linejoin="miter"/><path d="M662.3,769.0h13.4l-6.7,11.9z" fill="#4a7ac6" stroke="#0a0a14" stroke-width="1.25" stroke-linejoin="miter"/><path d="M191.7,690.0h13.4l-6.7,11.9z" fill="#4a7ac6" stroke="#0a0a14" stroke-width="1.25" stroke-linejoin="miter"/><path d="M191.7,698.0h13.4l-6.7,11.9z" fill="#4a7ac6" stroke="#0a0a14" stroke-width="1.25" stroke-linejoin="miter"/><path d="M173.3,681.6h13.4l-6.7,11.9z" fill="#4a7ac6" stroke="#0a0a14" stroke-width="1.25" stroke-linejoin="miter"/><path d="M313.3,585.0h13.4l-6.7,11.9z" fill="#4a7ac6" stroke="#0a0a14" stroke-width="1.25" stroke-linejoin="miter"/><path d="M317.3,589.0h13.4l-6.7,11.9z" fill="#4a7ac6" stroke="#0a0a14" stroke-width="1.25" stroke-linejoin="miter"/><path d="M322.3,591.0h13.4l-6.7,11.9z" fill="#4a7ac6" stroke="#0a0a14" stroke-width="1.25" stroke-linejoin="miter"/><path d="M324.3,594.0h13.4l-6.7,11.9z" fill="#4a7ac6" stroke="#0a0a14" stroke-width="1.25" stroke-linejoin="miter"/><path d="M329.3,592.0h13.4l-6.7,11.9z" fill="#4a7ac6" stroke="#0a0a14" stroke-width="1.25" stroke-linejoin="miter"/><path d="M307.3,591.0h13.4l-6.7,11.9z" fill="#4a7ac6" stroke="#0a0a14" stroke-width="1.25" stroke-linejoin="miter"/><path d="M299.3,595.0h13.4l-6.7,11.9z" fill="#4a7ac6" stroke="#0a0a14" stroke-width="1.25" stroke-linejoin="miter"/><path d="M337.3,601.0h13.4l-6.7,11.9z" fill="#4a7ac6" stroke="#0a0a14" stroke-width="1.25" stroke-linejoin="miter"/><path d="M545.2,660.0h13.4l-6.7,11.9z" fill="#4a7ac6" stroke="#0a0a14" stroke-width="1.25" stroke-linejoin="miter"/><path d="M535.9,668.2h13.4l-6.7,11.9z" fill="#4a7ac6" stroke="#0a0a14" stroke-width="1.25" stroke-linejoin="miter"/><path d="M529.5,681.2h13.4l-6.7,11.9z" fill="#4a7ac6" stroke="#0a0a14" stroke-width="1.25" stroke-linejoin="miter"/><path d="M526.6,661.5h13.4l-6.7,11.9z" fill="#4a7ac6" stroke="#0a0a14" stroke-width="1.25" stroke-linejoin="miter"/><path d="M538.6,692.0h13.4l-6.7,11.9z" fill="#4a7ac6" stroke="#0a0a14" stroke-width="1.25" stroke-linejoin="miter"/><path d="M519.9,715.2h13.4l-6.7,11.9z" fill="#4a7ac6" stroke="#0a0a14" stroke-width="1.25" stroke-linejoin="miter"/><path d="M520.7,664.9h13.4l-6.7,11.9z" fill="#4a7ac6" stroke="#0a0a14" stroke-width="1.25" stroke-linejoin="miter"/><path d="M526.3,674.4h13.4l-6.7,11.9z" fill="#4a7ac6" stroke="#0a0a14" stroke-width="1.25" stroke-linejoin="miter"/><path d="M533.0,710.5h13.4l-6.7,11.9z" fill="#4a7ac6" stroke="#0a0a14" stroke-width="1.25" stroke-linejoin="miter"/><path d="M520.5,688.5h13.4l-6.7,11.9z" fill="#4a7ac6" stroke="#0a0a14" stroke-width="1.25" stroke-linejoin="miter"/><path d="M537.3,667.3h13.4l-6.7,11.9z" fill="#4a7ac6" stroke="#0a0a14" stroke-width="1.25" stroke-linejoin="miter"/><path d="M528.7,679.8h13.4l-6.7,11.9z" fill="#4a7ac6" stroke="#0a0a14" stroke-width="1.25" stroke-linejoin="miter"/><path d="M545.7,702.0h13.4l-6.7,11.9z" fill="#4a7ac6" stroke="#0a0a14" stroke-width="1.25" stroke-linejoin="miter"/><path d="M532.7,654.6h13.4l-6.7,11.9z" fill="#4a7ac6" stroke="#0a0a14" stroke-width="1.25" stroke-linejoin="miter"/><path d="M528.8,704.7h13.4l-6.7,11.9z" fill="#4a7ac6" stroke="#0a0a14" stroke-width="1.25" stroke-linejoin="miter"/><path d="M531.2,676.2h13.4l-6.7,11.9z" fill="#4a7ac6" stroke="#0a0a14" stroke-width="1.25" stroke-linejoin="miter"/><path d="M537.7,652.7h13.4l-6.7,11.9z" fill="#4a7ac6" stroke="#0a0a14" stroke-width="1.25" stroke-linejoin="miter"/><path d="M538.0,695.9h13.4l-6.7,11.9z" fill="#4a7ac6" stroke="#0a0a14" stroke-width="1.25" stroke-linejoin="miter"/><path d="M520.9,678.0h13.4l-6.7,11.9z" fill="#4a7ac6" stroke="#0a0a14" stroke-width="1.25" stroke-linejoin="miter"/><path d="M544.7,667.6h13.4l-6.7,11.9z" fill="#4a7ac6" stroke="#0a0a14" stroke-width="1.25" stroke-linejoin="miter"/><path d="M534.3,673.2h13.4l-6.7,11.9z" fill="#4a7ac6" stroke="#0a0a14" stroke-width="1.25" stroke-linejoin="miter"/><path d="M535.0,676.2h13.4l-6.7,11.9z" fill="#4a7ac6" stroke="#0a0a14" stroke-width="1.25" stroke-linejoin="miter"/><path d="M525.0,751.8h13.4l-6.7,11.9z" fill="#4a7ac6" stroke="#0a0a14" stroke-width="1.25" stroke-linejoin="miter"/><path d="M557.0,754.9h13.4l-6.7,11.9z" fill="#4a7ac6" stroke="#0a0a14" stroke-width="1.25" stroke-linejoin="miter"/><path d="M524.1,732.6h13.4l-6.7,11.9z" fill="#4a7ac6" stroke="#0a0a14" stroke-width="1.25" stroke-linejoin="miter"/><path d="M526.9,749.4h13.4l-6.7,11.9z" fill="#4a7ac6" stroke="#0a0a14" stroke-width="1.25" stroke-linejoin="miter"/><path d="M527.1,741.6h13.4l-6.7,11.9z" fill="#4a7ac6" stroke="#0a0a14" stroke-width="1.25" stroke-linejoin="miter"/><path d="M509.6,735.8h13.4l-6.7,11.9z" fill="#4a7ac6" stroke="#0a0a14" stroke-width="1.25" stroke-linejoin="miter"/><path d="M518.1,751.4h13.4l-6.7,11.9z" fill="#4a7ac6" stroke="#0a0a14" stroke-width="1.25" stroke-linejoin="miter"/><path d="M527.0,753.0h13.4l-6.7,11.9z" fill="#4a7ac6" stroke="#0a0a14" stroke-width="1.25" stroke-linejoin="miter"/><path d="M545.4,727.3h13.4l-6.7,11.9z" fill="#4a7ac6" stroke="#0a0a14" stroke-width="1.25" stroke-linejoin="miter"/><path d="M544.0,752.1h13.4l-6.7,11.9z" fill="#4a7ac6" stroke="#0a0a14" stroke-width="1.25" stroke-linejoin="miter"/><path d="M557.1,747.6h13.4l-6.7,11.9z" fill="#4a7ac6" stroke="#0a0a14" stroke-width="1.25" stroke-linejoin="miter"/><path d="M545.4,739.0h13.4l-6.7,11.9z" fill="#4a7ac6" stroke="#0a0a14" stroke-width="1.25" stroke-linejoin="miter"/><path d="M506.2,747.9h13.4l-6.7,11.9z" fill="#4a7ac6" stroke="#0a0a14" stroke-width="1.25" stroke-linejoin="miter"/><path d="M552.2,740.2h13.4l-6.7,11.9z" fill="#4a7ac6" stroke="#0a0a14" stroke-width="1.25" stroke-linejoin="miter"/><path d="M521.3,745.0h13.4l-6.7,11.9z" fill="#4a7ac6" stroke="#0a0a14" stroke-width="1.25" stroke-linejoin="miter"/><path d="M541.8,726.5h13.4l-6.7,11.9z" fill="#4a7ac6" stroke="#0a0a14" stroke-width="1.25" stroke-linejoin="miter"/><path d="M584.5,745.4h13.4l-6.7,11.9z" fill="#4a7ac6" stroke="#0a0a14" stroke-width="1.25" stroke-linejoin="miter"/><path d="M555.8,748.3h13.4l-6.7,11.9z" fill="#4a7ac6" stroke="#0a0a14" stroke-width="1.25" stroke-linejoin="miter"/><path d="M557.3,729.2h13.4l-6.7,11.9z" fill="#4a7ac6" stroke="#0a0a14" stroke-width="1.25" stroke-linejoin="miter"/><path d="M581.2,751.0h13.4l-6.7,11.9z" fill="#4a7ac6" stroke="#0a0a14" stroke-width="1.25" stroke-linejoin="miter"/><path d="M555.1,731.3h13.4l-6.7,11.9z" fill="#4a7ac6" stroke="#0a0a14" stroke-width="1.25" stroke-linejoin="miter"/><path d="M539.4,714.9h13.4l-6.7,11.9z" fill="#4a7ac6" stroke="#0a0a14" stroke-width="1.25" stroke-linejoin="miter"/><path d="M575.1,747.9h13.4l-6.7,11.9z" fill="#4a7ac6" stroke="#0a0a14" stroke-width="1.25" stroke-linejoin="miter"/><path d="M548.0,732.6h13.4l-6.7,11.9z" fill="#4a7ac6" stroke="#0a0a14" stroke-width="1.25" stroke-linejoin="miter"/><path d="M567.2,713.9h13.4l-6.7,11.9z" fill="#4a7ac6" stroke="#0a0a14" stroke-width="1.25" stroke-linejoin="miter"/><path d="M530.1,723.5h13.4l-6.7,11.9z" fill="#4a7ac6" stroke="#0a0a14" stroke-width="1.25" stroke-linejoin="miter"/><path d="M549.2,727.9h13.4l-6.7,11.9z" fill="#4a7ac6" stroke="#0a0a14" stroke-width="1.25" stroke-linejoin="miter"/><path d="M549.2,750.7h13.4l-6.7,11.9z" fill="#4a7ac6" stroke="#0a0a14" stroke-width="1.25" stroke-linejoin="miter"/><path d="M531.1,717.8h13.4l-6.7,11.9z" fill="#4a7ac6" stroke="#0a0a14" stroke-width="1.25" stroke-linejoin="miter"/><path d="M494.5,748.1h13.4l-6.7,11.9z" fill="#4a7ac6" stroke="#0a0a14" stroke-width="1.25" stroke-linejoin="miter"/><path d="M469.9,746.3h13.4l-6.7,11.9z" fill="#4a7ac6" stroke="#0a0a14" stroke-width="1.25" stroke-linejoin="miter"/><path d="M450.6,733.8h13.4l-6.7,11.9z" fill="#4a7ac6" stroke="#0a0a14" stroke-width="1.25" stroke-linejoin="miter"/><path d="M449.3,763.1h13.4l-6.7,11.9z" fill="#4a7ac6" stroke="#0a0a14" stroke-width="1.25" stroke-linejoin="miter"/><path d="M451.4,741.9h13.4l-6.7,11.9z" fill="#4a7ac6" stroke="#0a0a14" stroke-width="1.25" stroke-linejoin="miter"/><path d="M470.1,751.2h13.4l-6.7,11.9z" fill="#4a7ac6" stroke="#0a0a14" stroke-width="1.25" stroke-linejoin="miter"/><path d="M459.1,753.9h13.4l-6.7,11.9z" fill="#4a7ac6" stroke="#0a0a14" stroke-width="1.25" stroke-linejoin="miter"/><path d="M477.4,766.4h13.4l-6.7,11.9z" fill="#4a7ac6" stroke="#0a0a14" stroke-width="1.25" stroke-linejoin="miter"/><path d="M453.4,740.9h13.4l-6.7,11.9z" fill="#4a7ac6" stroke="#0a0a14" stroke-width="1.25" stroke-linejoin="miter"/><path d="M453.8,740.7h13.4l-6.7,11.9z" fill="#4a7ac6" stroke="#0a0a14" stroke-width="1.25" stroke-linejoin="miter"/><path d="M458.7,731.1h13.4l-6.7,11.9z" fill="#4a7ac6" stroke="#0a0a14" stroke-width="1.25" stroke-linejoin="miter"/><path d="M484.8,740.2h13.4l-6.7,11.9z" fill="#4a7ac6" stroke="#0a0a14" stroke-width="1.25" stroke-linejoin="miter"/><path d="M482.1,760.1h13.4l-6.7,11.9z" fill="#4a7ac6" stroke="#0a0a14" stroke-width="1.25" stroke-linejoin="miter"/><path d="M484.3,730.9h13.4l-6.7,11.9z" fill="#4a7ac6" stroke="#0a0a14" stroke-width="1.25" stroke-linejoin="miter"/><path d="M475.1,761.5h13.4l-6.7,11.9z" fill="#4a7ac6" stroke="#0a0a14" stroke-width="1.25" stroke-linejoin="miter"/><path d="M627.6,740.8h13.4l-6.7,11.9z" fill="#4a7ac6" stroke="#0a0a14" stroke-width="1.25" stroke-linejoin="miter"/><path d="M613.1,753.1h13.4l-6.7,11.9z" fill="#4a7ac6" stroke="#0a0a14" stroke-width="1.25" stroke-linejoin="miter"/><path d="M620.7,726.7h13.4l-6.7,11.9z" fill="#4a7ac6" stroke="#0a0a14" stroke-width="1.25" stroke-linejoin="miter"/><path d="M618.0,733.4h13.4l-6.7,11.9z" fill="#4a7ac6" stroke="#0a0a14" stroke-width="1.25" stroke-linejoin="miter"/><path d="M596.4,744.7h13.4l-6.7,11.9z" fill="#4a7ac6" stroke="#0a0a14" stroke-width="1.25" stroke-linejoin="miter"/><path d="M641.7,743.6h13.4l-6.7,11.9z" fill="#4a7ac6" stroke="#0a0a14" stroke-width="1.25" stroke-linejoin="miter"/><path d="M584.0,729.7h13.4l-6.7,11.9z" fill="#4a7ac6" stroke="#0a0a14" stroke-width="1.25" stroke-linejoin="miter"/><path d="M636.9,714.3h13.4l-6.7,11.9z" fill="#4a7ac6" stroke="#0a0a14" stroke-width="1.25" stroke-linejoin="miter"/><path d="M618.7,745.3h13.4l-6.7,11.9z" fill="#4a7ac6" stroke="#0a0a14" stroke-width="1.25" stroke-linejoin="miter"/><path d="M620.7,725.5h13.4l-6.7,11.9z" fill="#4a7ac6" stroke="#0a0a14" stroke-width="1.25" stroke-linejoin="miter"/><path d="M584.5,746.4h13.4l-6.7,11.9z" fill="#4a7ac6" stroke="#0a0a14" stroke-width="1.25" stroke-linejoin="miter"/><path d="M594.9,740.7h13.4l-6.7,11.9z" fill="#4a7ac6" stroke="#0a0a14" stroke-width="1.25" stroke-linejoin="miter"/><path d="M620.0,747.5h13.4l-6.7,11.9z" fill="#4a7ac6" stroke="#0a0a14" stroke-width="1.25" stroke-linejoin="miter"/><path d="M591.1,761.5h13.4l-6.7,11.9z" fill="#4a7ac6" stroke="#0a0a14" stroke-width="1.25" stroke-linejoin="miter"/><path d="M635.7,755.9h13.4l-6.7,11.9z" fill="#4a7ac6" stroke="#0a0a14" stroke-width="1.25" stroke-linejoin="miter"/><path d="M596.2,747.3h13.4l-6.7,11.9z" fill="#4a7ac6" stroke="#0a0a14" stroke-width="1.25" stroke-linejoin="miter"/><path d="M609.8,746.2h13.4l-6.7,11.9z" fill="#4a7ac6" stroke="#0a0a14" stroke-width="1.25" stroke-linejoin="miter"/><path d="M632.2,729.9h13.4l-6.7,11.9z" fill="#4a7ac6" stroke="#0a0a14" stroke-width="1.25" stroke-linejoin="miter"/><path d="M649.6,731.5h13.4l-6.7,11.9z" fill="#4a7ac6" stroke="#0a0a14" stroke-width="1.25" stroke-linejoin="miter"/><path d="M616.0,747.0h13.4l-6.7,11.9z" fill="#4a7ac6" stroke="#0a0a14" stroke-width="1.25" stroke-linejoin="miter"/><path d="M593.9,757.2h13.4l-6.7,11.9z" fill="#4a7ac6" stroke="#0a0a14" stroke-width="1.25" stroke-linejoin="miter"/><path d="M606.6,756.7h13.4l-6.7,11.9z" fill="#4a7ac6" stroke="#0a0a14" stroke-width="1.25" stroke-linejoin="miter"/><path d="M593.5,713.9h13.4l-6.7,11.9z" fill="#4a7ac6" stroke="#0a0a14" stroke-width="1.25" stroke-linejoin="miter"/><path d="M624.6,720.5h13.4l-6.7,11.9z" fill="#4a7ac6" stroke="#0a0a14" stroke-width="1.25" stroke-linejoin="miter"/><path d="M614.1,718.2h13.4l-6.7,11.9z" fill="#4a7ac6" stroke="#0a0a14" stroke-width="1.25" stroke-linejoin="miter"/><path d="M634.0,748.3h13.4l-6.7,11.9z" fill="#4a7ac6" stroke="#0a0a14" stroke-width="1.25" stroke-linejoin="miter"/><path d="M631.3,714.5h13.4l-6.7,11.9z" fill="#4a7ac6" stroke="#0a0a14" stroke-width="1.25" stroke-linejoin="miter"/><path d="M586.6,739.6h13.4l-6.7,11.9z" fill="#4a7ac6" stroke="#0a0a14" stroke-width="1.25" stroke-linejoin="miter"/><path d="M589.0,747.1h13.4l-6.7,11.9z" fill="#4a7ac6" stroke="#0a0a14" stroke-width="1.25" stroke-linejoin="miter"/><path d="M621.6,759.2h13.4l-6.7,11.9z" fill="#4a7ac6" stroke="#0a0a14" stroke-width="1.25" stroke-linejoin="miter"/><path d="M640.6,743.7h13.4l-6.7,11.9z" fill="#4a7ac6" stroke="#0a0a14" stroke-width="1.25" stroke-linejoin="miter"/><path d="M641.2,735.4h13.4l-6.7,11.9z" fill="#4a7ac6" stroke="#0a0a14" stroke-width="1.25" stroke-linejoin="miter"/><path d="M603.7,710.4h13.4l-6.7,11.9z" fill="#4a7ac6" stroke="#0a0a14" stroke-width="1.25" stroke-linejoin="miter"/><path d="M632.5,744.3h13.4l-6.7,11.9z" fill="#4a7ac6" stroke="#0a0a14" stroke-width="1.25" stroke-linejoin="miter"/><path d="M627.6,735.7h13.4l-6.7,11.9z" fill="#4a7ac6" stroke="#0a0a14" stroke-width="1.25" stroke-linejoin="miter"/><path d="M615.2,758.5h13.4l-6.7,11.9z" fill="#4a7ac6" stroke="#0a0a14" stroke-width="1.25" stroke-linejoin="miter"/><path d="M609.6,714.8h13.4l-6.7,11.9z" fill="#4a7ac6" stroke="#0a0a14" stroke-width="1.25" stroke-linejoin="miter"/><path d="M649.9,749.6h13.4l-6.7,11.9z" fill="#4a7ac6" stroke="#0a0a14" stroke-width="1.25" stroke-linejoin="miter"/><path d="M646.0,762.2h13.4l-6.7,11.9z" fill="#4a7ac6" stroke="#0a0a14" stroke-width="1.25" stroke-linejoin="miter"/><path d="M613.9,715.7h13.4l-6.7,11.9z" fill="#4a7ac6" stroke="#0a0a14" stroke-width="1.25" stroke-linejoin="miter"/><path d="M617.8,734.4h13.4l-6.7,11.9z" fill="#4a7ac6" stroke="#0a0a14" stroke-width="1.25" stroke-linejoin="miter"/><path d="M610.4,751.0h13.4l-6.7,11.9z" fill="#4a7ac6" stroke="#0a0a14" stroke-width="1.25" stroke-linejoin="miter"/><path d="M600.8,761.3h13.4l-6.7,11.9z" fill="#4a7ac6" stroke="#0a0a14" stroke-width="1.25" stroke-linejoin="miter"/><path d="M598.2,722.9h13.4l-6.7,11.9z" fill="#4a7ac6" stroke="#0a0a14" stroke-width="1.25" stroke-linejoin="miter"/><path d="M641.4,720.1h13.4l-6.7,11.9z" fill="#4a7ac6" stroke="#0a0a14" stroke-width="1.25" stroke-linejoin="miter"/><path d="M634.0,722.3h13.4l-6.7,11.9z" fill="#4a7ac6" stroke="#0a0a14" stroke-width="1.25" stroke-linejoin="miter"/><path d="M611.9,733.3h13.4l-6.7,11.9z" fill="#4a7ac6" stroke="#0a0a14" stroke-width="1.25" stroke-linejoin="miter"/><path d="M600.6,753.1h13.4l-6.7,11.9z" fill="#4a7ac6" stroke="#0a0a14" stroke-width="1.25" stroke-linejoin="miter"/><path d="M649.2,758.8h13.4l-6.7,11.9z" fill="#4a7ac6" stroke="#0a0a14" stroke-width="1.25" stroke-linejoin="miter"/><path d="M594.4,708.4h13.4l-6.7,11.9z" fill="#4a7ac6" stroke="#0a0a14" stroke-width="1.25" stroke-linejoin="miter"/><path d="M614.1,748.5h13.4l-6.7,11.9z" fill="#4a7ac6" stroke="#0a0a14" stroke-width="1.25" stroke-linejoin="miter"/><path d="M621.6,760.8h13.4l-6.7,11.9z" fill="#4a7ac6" stroke="#0a0a14" stroke-width="1.25" stroke-linejoin="miter"/><path d="M652.4,745.2h13.4l-6.7,11.9z" fill="#4a7ac6" stroke="#0a0a14" stroke-width="1.25" stroke-linejoin="miter"/><path d="M601.6,729.5h13.4l-6.7,11.9z" fill="#4a7ac6" stroke="#0a0a14" stroke-width="1.25" stroke-linejoin="miter"/><path d="M587.9,729.1h13.4l-6.7,11.9z" fill="#4a7ac6" stroke="#0a0a14" stroke-width="1.25" stroke-linejoin="miter"/><path d="M635.9,724.7h13.4l-6.7,11.9z" fill="#4a7ac6" stroke="#0a0a14" stroke-width="1.25" stroke-linejoin="miter"/><path d="M596.3,737.2h13.4l-6.7,11.9z" fill="#4a7ac6" stroke="#0a0a14" stroke-width="1.25" stroke-linejoin="miter"/><path d="M646.0,743.2h13.4l-6.7,11.9z" fill="#4a7ac6" stroke="#0a0a14" stroke-width="1.25" stroke-linejoin="miter"/><path d="M591.0,731.2h13.4l-6.7,11.9z" fill="#4a7ac6" stroke="#0a0a14" stroke-width="1.25" stroke-linejoin="miter"/><path d="M599.3,752.5h13.4l-6.7,11.9z" fill="#4a7ac6" stroke="#0a0a14" stroke-width="1.25" stroke-linejoin="miter"/><path d="M612.6,731.8h13.4l-6.7,11.9z" fill="#4a7ac6" stroke="#0a0a14" stroke-width="1.25" stroke-linejoin="miter"/><path d="M644.7,723.6h13.4l-6.7,11.9z" fill="#4a7ac6" stroke="#0a0a14" stroke-width="1.25" stroke-linejoin="miter"/><path d="M645.0,768.2h13.4l-6.7,11.9z" fill="#4a7ac6" stroke="#0a0a14" stroke-width="1.25" stroke-linejoin="miter"/><path d="M641.3,751.0h13.4l-6.7,11.9z" fill="#4a7ac6" stroke="#0a0a14" stroke-width="1.25" stroke-linejoin="miter"/><path d="M650.2,743.1h13.4l-6.7,11.9z" fill="#4a7ac6" stroke="#0a0a14" stroke-width="1.25" stroke-linejoin="miter"/><path d="M649.7,746.4h13.4l-6.7,11.9z" fill="#4a7ac6" stroke="#0a0a14" stroke-width="1.25" stroke-linejoin="miter"/><path d="M654.9,751.7h13.4l-6.7,11.9z" fill="#4a7ac6" stroke="#0a0a14" stroke-width="1.25" stroke-linejoin="miter"/><path d="M652.2,752.4h13.4l-6.7,11.9z" fill="#4a7ac6" stroke="#0a0a14" stroke-width="1.25" stroke-linejoin="miter"/><path d="M651.4,745.2h13.4l-6.7,11.9z" fill="#4a7ac6" stroke="#0a0a14" stroke-width="1.25" stroke-linejoin="miter"/><path d="M637.1,744.2h13.4l-6.7,11.9z" fill="#4a7ac6" stroke="#0a0a14" stroke-width="1.25" stroke-linejoin="miter"/><path d="M641.8,730.6h13.4l-6.7,11.9z" fill="#4a7ac6" stroke="#0a0a14" stroke-width="1.25" stroke-linejoin="miter"/><path d="M653.3,750.5h13.4l-6.7,11.9z" fill="#4a7ac6" stroke="#0a0a14" stroke-width="1.25" stroke-linejoin="miter"/><path d="M655.5,761.8h13.4l-6.7,11.9z" fill="#4a7ac6" stroke="#0a0a14" stroke-width="1.25" stroke-linejoin="miter"/><path d="M649.3,743.9h13.4l-6.7,11.9z" fill="#4a7ac6" stroke="#0a0a14" stroke-width="1.25" stroke-linejoin="miter"/><path d="M659.1,741.3h13.4l-6.7,11.9z" fill="#4a7ac6" stroke="#0a0a14" stroke-width="1.25" stroke-linejoin="miter"/><path d="M661.3,755.7h13.4l-6.7,11.9z" fill="#4a7ac6" stroke="#0a0a14" stroke-width="1.25" stroke-linejoin="miter"/><path d="M662.8,766.6h13.4l-6.7,11.9z" fill="#4a7ac6" stroke="#0a0a14" stroke-width="1.25" stroke-linejoin="miter"/><path d="M654.4,750.7h13.4l-6.7,11.9z" fill="#4a7ac6" stroke="#0a0a14" stroke-width="1.25" stroke-linejoin="miter"/><path d="M654.8,763.9h13.4l-6.7,11.9z" fill="#4a7ac6" stroke="#0a0a14" stroke-width="1.25" stroke-linejoin="miter"/><path d="M655.2,762.3h13.4l-6.7,11.9z" fill="#4a7ac6" stroke="#0a0a14" stroke-width="1.25" stroke-linejoin="miter"/><path d="M589.0,717.5h13.4l-6.7,11.9z" fill="#4a7ac6" stroke="#0a0a14" stroke-width="1.25" stroke-linejoin="miter"/><path d="M571.8,717.3h13.4l-6.7,11.9z" fill="#4a7ac6" stroke="#0a0a14" stroke-width="1.25" stroke-linejoin="miter"/><path d="M571.1,712.4h13.4l-6.7,11.9z" fill="#4a7ac6" stroke="#0a0a14" stroke-width="1.25" stroke-linejoin="miter"/><path d="M568.4,723.1h13.4l-6.7,11.9z" fill="#4a7ac6" stroke="#0a0a14" stroke-width="1.25" stroke-linejoin="miter"/><path d="M588.8,712.0h13.4l-6.7,11.9z" fill="#4a7ac6" stroke="#0a0a14" stroke-width="1.25" stroke-linejoin="miter"/><path d="M573.4,698.1h13.4l-6.7,11.9z" fill="#4a7ac6" stroke="#0a0a14" stroke-width="1.25" stroke-linejoin="miter"/>
<rect x="223.4" y="648.4" width="13.2" height="13.2" fill="#000"/><rect x="169.9" y="737.4" width="13.2" height="13.2" fill="#000"/><rect x="477.7" y="648.4" width="13.2" height="13.2" fill="#000"/><rect x="93.2" y="537.4" width="11.2" height="11.2" fill="#ec2a2e" stroke="#000" stroke-width="2.1"/><rect x="99.4" y="572.1" width="11.2" height="11.2" fill="#ec2a2e" stroke="#000" stroke-width="2.1"/><rect x="101.4" y="597.9" width="11.2" height="11.2" fill="#ec2a2e" stroke="#000" stroke-width="2.1"/><rect x="108.0" y="633.4" width="11.2" height="11.2" fill="#ec2a2e" stroke="#000" stroke-width="2.1"/><rect x="94.3" y="653.4" width="11.2" height="11.2" fill="#ec2a2e" stroke="#000" stroke-width="2.1"/><rect x="93.2" y="662.4" width="11.2" height="11.2" fill="#ec2a2e" stroke="#000" stroke-width="2.1"/><rect x="108.0" y="679.0" width="11.2" height="11.2" fill="#ec2a2e" stroke="#000" stroke-width="2.1"/><rect x="137.6" y="675.4" width="11.2" height="11.2" fill="#ec2a2e" stroke="#000" stroke-width="2.1"/><rect x="137.6" y="685.4" width="11.2" height="11.2" fill="#ec2a2e" stroke="#000" stroke-width="2.1"/><rect x="176.8" y="652.4" width="11.2" height="11.2" fill="#ec2a2e" stroke="#000" stroke-width="2.1"/><rect x="211.4" y="660.4" width="11.2" height="11.2" fill="#ec2a2e" stroke="#000" stroke-width="2.1"/><rect x="219.1" y="654.4" width="11.2" height="11.2" fill="#ec2a2e" stroke="#000" stroke-width="2.1"/><rect x="224.1" y="668.4" width="11.2" height="11.2" fill="#ec2a2e" stroke="#000" stroke-width="2.1"/><rect x="191.6" y="679.4" width="11.2" height="11.2" fill="#ec2a2e" stroke="#000" stroke-width="2.1"/><rect x="212.4" y="683.9" width="11.2" height="11.2" fill="#ec2a2e" stroke="#000" stroke-width="2.1"/><rect x="94.3" y="701.8" width="11.2" height="11.2" fill="#ec2a2e" stroke="#000" stroke-width="2.1"/><rect x="108.0" y="701.8" width="11.2" height="11.2" fill="#ec2a2e" stroke="#000" stroke-width="2.1"/><rect x="92.1" y="711.4" width="11.2" height="11.2" fill="#ec2a2e" stroke="#000" stroke-width="2.1"/><rect x="108.0" y="726.4" width="11.2" height="11.2" fill="#ec2a2e" stroke="#000" stroke-width="2.1"/><rect x="105.4" y="735.4" width="11.2" height="11.2" fill="#ec2a2e" stroke="#000" stroke-width="2.1"/><rect x="132.1" y="738.4" width="11.2" height="11.2" fill="#ec2a2e" stroke="#000" stroke-width="2.1"/><rect x="141.4" y="737.4" width="11.2" height="11.2" fill="#ec2a2e" stroke="#000" stroke-width="2.1"/><rect x="111.4" y="754.4" width="11.2" height="11.2" fill="#ec2a2e" stroke="#000" stroke-width="2.1"/><rect x="162.8" y="693.4" width="11.2" height="11.2" fill="#ec2a2e" stroke="#000" stroke-width="2.1"/><rect x="175.3" y="688.4" width="11.2" height="11.2" fill="#ec2a2e" stroke="#000" stroke-width="2.1"/><rect x="157.8" y="706.8" width="11.2" height="11.2" fill="#ec2a2e" stroke="#000" stroke-width="2.1"/><rect x="165.9" y="701.8" width="11.2" height="11.2" fill="#ec2a2e" stroke="#000" stroke-width="2.1"/><rect x="179.4" y="698.4" width="11.2" height="11.2" fill="#ec2a2e" stroke="#000" stroke-width="2.1"/><rect x="192.1" y="707.7" width="11.2" height="11.2" fill="#ec2a2e" stroke="#000" stroke-width="2.1"/><rect x="214.4" y="687.4" width="11.2" height="11.2" fill="#ec2a2e" stroke="#000" stroke-width="2.1"/><rect x="187.8" y="723.4" width="11.2" height="11.2" fill="#ec2a2e" stroke="#000" stroke-width="2.1"/><rect x="191.0" y="736.4" width="11.2" height="11.2" fill="#ec2a2e" stroke="#000" stroke-width="2.1"/><rect x="175.3" y="740.4" width="11.2" height="11.2" fill="#ec2a2e" stroke="#000" stroke-width="2.1"/><rect x="92.4" y="536.4" width="11.2" height="11.2" fill="#ec2a2e" stroke="#000" stroke-width="2.1"/><rect x="251.8" y="536.4" width="11.2" height="11.2" fill="#ec2a2e" stroke="#000" stroke-width="2.1"/><rect x="276.3" y="571.4" width="11.2" height="11.2" fill="#ec2a2e" stroke="#000" stroke-width="2.1"/><rect x="276.3" y="580.8" width="11.2" height="11.2" fill="#ec2a2e" stroke="#000" stroke-width="2.1"/><rect x="311.6" y="572.4" width="11.2" height="11.2" fill="#ec2a2e" stroke="#000" stroke-width="2.1"/><rect x="259.4" y="594.0" width="11.2" height="11.2" fill="#ec2a2e" stroke="#000" stroke-width="2.1"/><rect x="246.3" y="661.0" width="11.2" height="11.2" fill="#ec2a2e" stroke="#000" stroke-width="2.1"/><rect x="225.4" y="669.1" width="11.2" height="11.2" fill="#ec2a2e" stroke="#000" stroke-width="2.1"/><rect x="307.6" y="671.4" width="11.2" height="11.2" fill="#ec2a2e" stroke="#000" stroke-width="2.1"/><rect x="331.3" y="666.4" width="11.2" height="11.2" fill="#ec2a2e" stroke="#000" stroke-width="2.1"/><rect x="335.0" y="679.9" width="11.2" height="11.2" fill="#ec2a2e" stroke="#000" stroke-width="2.1"/><rect x="355.8" y="633.4" width="11.2" height="11.2" fill="#ec2a2e" stroke="#000" stroke-width="2.1"/><rect x="366.4" y="652.0" width="11.2" height="11.2" fill="#ec2a2e" stroke="#000" stroke-width="2.1"/><rect x="353.4" y="684.4" width="11.2" height="11.2" fill="#ec2a2e" stroke="#000" stroke-width="2.1"/><rect x="333.9" y="684.9" width="11.2" height="11.2" fill="#ec2a2e" stroke="#000" stroke-width="2.1"/><rect x="333.9" y="690.8" width="11.2" height="11.2" fill="#ec2a2e" stroke="#000" stroke-width="2.1"/><rect x="352.4" y="687.1" width="11.2" height="11.2" fill="#ec2a2e" stroke="#000" stroke-width="2.1"/><rect x="355.8" y="691.9" width="11.2" height="11.2" fill="#ec2a2e" stroke="#000" stroke-width="2.1"/><rect x="349.4" y="698.4" width="11.2" height="11.2" fill="#ec2a2e" stroke="#000" stroke-width="2.1"/><rect x="353.4" y="706.1" width="11.2" height="11.2" fill="#ec2a2e" stroke="#000" stroke-width="2.1"/><rect x="354.4" y="714.9" width="11.2" height="11.2" fill="#ec2a2e" stroke="#000" stroke-width="2.1"/><rect x="356.9" y="723.0" width="11.2" height="11.2" fill="#ec2a2e" stroke="#000" stroke-width="2.1"/><rect x="345.9" y="724.4" width="11.2" height="11.2" fill="#ec2a2e" stroke="#000" stroke-width="2.1"/><rect x="331.3" y="712.4" width="11.2" height="11.2" fill="#ec2a2e" stroke="#000" stroke-width="2.1"/><rect x="298.8" y="704.0" width="11.2" height="11.2" fill="#ec2a2e" stroke="#000" stroke-width="2.1"/><rect x="294.4" y="712.3" width="11.2" height="11.2" fill="#ec2a2e" stroke="#000" stroke-width="2.1"/><rect x="307.6" y="728.4" width="11.2" height="11.2" fill="#ec2a2e" stroke="#000" stroke-width="2.1"/><rect x="368.9" y="712.4" width="11.2" height="11.2" fill="#ec2a2e" stroke="#000" stroke-width="2.1"/><rect x="373.4" y="726.9" width="11.2" height="11.2" fill="#ec2a2e" stroke="#000" stroke-width="2.1"/><rect x="373.4" y="734.4" width="11.2" height="11.2" fill="#ec2a2e" stroke="#000" stroke-width="2.1"/><rect x="275.9" y="572.4" width="11.2" height="11.2" fill="#ec2a2e" stroke="#000" stroke-width="2.1"/><rect x="507.8" y="612.1" width="11.2" height="11.2" fill="#ec2a2e" stroke="#000" stroke-width="2.1"/><rect x="477.2" y="618.7" width="11.2" height="11.2" fill="#ec2a2e" stroke="#000" stroke-width="2.1"/><rect x="408.2" y="640.4" width="11.2" height="11.2" fill="#ec2a2e" stroke="#000" stroke-width="2.1"/><rect x="366.4" y="652.0" width="11.2" height="11.2" fill="#ec2a2e" stroke="#000" stroke-width="2.1"/><rect x="464.0" y="657.0" width="11.2" height="11.2" fill="#ec2a2e" stroke="#000" stroke-width="2.1"/><rect x="458.4" y="664.4" width="11.2" height="11.2" fill="#ec2a2e" stroke="#000" stroke-width="2.1"/><rect x="446.4" y="672.4" width="11.2" height="11.2" fill="#ec2a2e" stroke="#000" stroke-width="2.1"/><rect x="399.9" y="677.8" width="11.2" height="11.2" fill="#ec2a2e" stroke="#000" stroke-width="2.1"/><rect x="455.4" y="681.9" width="11.2" height="11.2" fill="#ec2a2e" stroke="#000" stroke-width="2.1"/><rect x="465.1" y="684.4" width="11.2" height="11.2" fill="#ec2a2e" stroke="#000" stroke-width="2.1"/><rect x="391.1" y="702.4" width="11.2" height="11.2" fill="#ec2a2e" stroke="#000" stroke-width="2.1"/><rect x="369.9" y="712.7" width="11.2" height="11.2" fill="#ec2a2e" stroke="#000" stroke-width="2.1"/><rect x="373.4" y="725.9" width="11.2" height="11.2" fill="#ec2a2e" stroke="#000" stroke-width="2.1"/><rect x="373.4" y="735.4" width="11.2" height="11.2" fill="#ec2a2e" stroke="#000" stroke-width="2.1"/><rect x="397.9" y="741.2" width="11.2" height="11.2" fill="#ec2a2e" stroke="#000" stroke-width="2.1"/><rect x="417.4" y="720.8" width="11.2" height="11.2" fill="#ec2a2e" stroke="#000" stroke-width="2.1"/><rect x="429.0" y="721.4" width="11.2" height="11.2" fill="#ec2a2e" stroke="#000" stroke-width="2.1"/><rect x="434.9" y="725.9" width="11.2" height="11.2" fill="#ec2a2e" stroke="#000" stroke-width="2.1"/><rect x="447.4" y="744.4" width="11.2" height="11.2" fill="#ec2a2e" stroke="#000" stroke-width="2.1"/><rect x="448.4" y="720.4" width="11.2" height="11.2" fill="#ec2a2e" stroke="#000" stroke-width="2.1"/><rect x="438.8" y="707.4" width="11.2" height="11.2" fill="#ec2a2e" stroke="#000" stroke-width="2.1"/><rect x="447.4" y="696.4" width="11.2" height="11.2" fill="#ec2a2e" stroke="#000" stroke-width="2.1"/><rect x="458.4" y="694.1" width="11.2" height="11.2" fill="#ec2a2e" stroke="#000" stroke-width="2.1"/><rect x="469.4" y="696.4" width="11.2" height="11.2" fill="#ec2a2e" stroke="#000" stroke-width="2.1"/><rect x="466.2" y="707.4" width="11.2" height="11.2" fill="#ec2a2e" stroke="#000" stroke-width="2.1"/><rect x="455.4" y="707.4" width="11.2" height="11.2" fill="#ec2a2e" stroke="#000" stroke-width="2.1"/><rect x="477.2" y="734.4" width="11.2" height="11.2" fill="#ec2a2e" stroke="#000" stroke-width="2.1"/><rect x="492.4" y="734.4" width="11.2" height="11.2" fill="#ec2a2e" stroke="#000" stroke-width="2.1"/><rect x="492.4" y="704.0" width="11.2" height="11.2" fill="#ec2a2e" stroke="#000" stroke-width="2.1"/><rect x="500.2" y="693.4" width="11.2" height="11.2" fill="#ec2a2e" stroke="#000" stroke-width="2.1"/><rect x="493.4" y="719.4" width="11.2" height="11.2" fill="#ec2a2e" stroke="#000" stroke-width="2.1"/><rect x="481.4" y="716.0" width="11.2" height="11.2" fill="#ec2a2e" stroke="#000" stroke-width="2.1"/><rect x="511.1" y="721.4" width="11.2" height="11.2" fill="#ec2a2e" stroke="#000" stroke-width="2.1"/><rect x="511.1" y="732.4" width="11.2" height="11.2" fill="#ec2a2e" stroke="#000" stroke-width="2.1"/><rect x="528.2" y="681.8" width="11.2" height="11.2" fill="#ec2a2e" stroke="#000" stroke-width="2.1"/><rect x="537.2" y="681.1" width="11.2" height="11.2" fill="#ec2a2e" stroke="#000" stroke-width="2.1"/><rect x="519.4" y="685.8" width="11.2" height="11.2" fill="#ec2a2e" stroke="#000" stroke-width="2.1"/><rect x="528.2" y="691.8" width="11.2" height="11.2" fill="#ec2a2e" stroke="#000" stroke-width="2.1"/><rect x="528.2" y="699.8" width="11.2" height="11.2" fill="#ec2a2e" stroke="#000" stroke-width="2.1"/><rect x="501.4" y="693.2" width="11.2" height="11.2" fill="#ec2a2e" stroke="#000" stroke-width="2.1"/><rect x="545.9" y="695.8" width="11.2" height="11.2" fill="#ec2a2e" stroke="#000" stroke-width="2.1"/><rect x="561.6" y="701.2" width="11.2" height="11.2" fill="#ec2a2e" stroke="#000" stroke-width="2.1"/><rect x="554.9" y="709.9" width="11.2" height="11.2" fill="#ec2a2e" stroke="#000" stroke-width="2.1"/><rect x="535.4" y="707.2" width="11.2" height="11.2" fill="#ec2a2e" stroke="#000" stroke-width="2.1"/><rect x="534.8" y="720.4" width="11.2" height="11.2" fill="#ec2a2e" stroke="#000" stroke-width="2.1"/><rect x="510.8" y="721.2" width="11.2" height="11.2" fill="#ec2a2e" stroke="#000" stroke-width="2.1"/><rect x="510.8" y="731.9" width="11.2" height="11.2" fill="#ec2a2e" stroke="#000" stroke-width="2.1"/><rect x="521.4" y="726.2" width="11.2" height="11.2" fill="#ec2a2e" stroke="#000" stroke-width="2.1"/><rect x="550.4" y="744.0" width="11.2" height="11.2" fill="#ec2a2e" stroke="#000" stroke-width="2.1"/><rect x="574.4" y="725.2" width="11.2" height="11.2" fill="#ec2a2e" stroke="#000" stroke-width="2.1"/><rect x="578.4" y="732.4" width="11.2" height="11.2" fill="#ec2a2e" stroke="#000" stroke-width="2.1"/><rect x="641.4" y="713.8" width="11.2" height="11.2" fill="#ec2a2e" stroke="#000" stroke-width="2.1"/><rect x="592.4" y="728.4" width="11.2" height="11.2" fill="#ec2a2e" stroke="#000" stroke-width="2.1"/><rect x="619.9" y="729.4" width="11.2" height="11.2" fill="#ec2a2e" stroke="#000" stroke-width="2.1"/><rect x="627.8" y="729.7" width="11.2" height="11.2" fill="#ec2a2e" stroke="#000" stroke-width="2.1"/><rect x="636.4" y="729.7" width="11.2" height="11.2" fill="#ec2a2e" stroke="#000" stroke-width="2.1"/><rect x="646.7" y="728.4" width="11.2" height="11.2" fill="#ec2a2e" stroke="#000" stroke-width="2.1"/><rect x="635.1" y="736.9" width="11.2" height="11.2" fill="#ec2a2e" stroke="#000" stroke-width="2.1"/><rect x="611.4" y="750.0" width="11.2" height="11.2" fill="#ec2a2e" stroke="#000" stroke-width="2.1"/><rect x="626.4" y="750.0" width="11.2" height="11.2" fill="#ec2a2e" stroke="#000" stroke-width="2.1"/><rect x="637.4" y="748.4" width="11.2" height="11.2" fill="#ec2a2e" stroke="#000" stroke-width="2.1"/><path d="M208.4,371.0h13.2l-6.6,-11.2z" fill="#e9e632" stroke="#000" stroke-width="1.3"/><path d="M107.0,627.0h13.2l-6.6,-11.2z" fill="#e9e632" stroke="#000" stroke-width="1.3"/><path d="M149.7,683.4h13.2l-6.6,-11.2z" fill="#e9e632" stroke="#000" stroke-width="1.3"/>
<path d="M94.5,662.0C96.2,659.7 100.8,653.2 105.0,648.0C109.2,642.8 115.2,636.0 120.0,631.0C124.8,626.0 128.0,623.2 133.8,617.7C139.6,612.2 147.7,604.0 155.0,598.0C162.3,592.0 170.1,586.3 177.6,581.6C185.1,576.9 192.7,573.3 200.0,570.0C207.3,566.7 214.7,564.3 221.4,562.0C228.1,559.7 234.1,557.8 240.0,556.0C245.9,554.2 252.0,551.8 257.0,551.5C262.0,551.2 265.4,552.1 270.0,554.0C274.6,555.9 279.7,559.3 284.7,563.0C289.7,566.7 294.5,571.2 300.0,576.0C305.5,580.8 311.8,586.8 317.6,591.5C323.4,596.2 329.5,600.0 335.0,604.0C340.5,608.0 345.4,611.7 350.4,615.5C355.4,619.3 360.1,623.0 365.0,627.0C369.9,631.0 375.0,634.9 380.0,639.6C385.0,644.3 389.4,648.3 395.0,655.0C400.6,661.7 408.8,674.0 413.8,680.0C418.8,686.0 421.4,687.7 425.0,691.0C428.6,694.3 432.2,696.9 435.7,699.7C439.2,702.5 442.4,705.3 446.0,708.0C449.6,710.7 454.3,714.0 457.6,716.0C460.9,718.0 463.1,718.9 466.0,720.0C468.9,721.1 472.0,722.1 475.0,722.7C478.0,723.3 481.1,723.5 484.0,723.5C486.9,723.5 489.8,723.5 492.6,722.7C495.4,722.0 498.1,720.5 501.0,719.0C503.9,717.5 506.8,715.3 510.0,714.0C513.2,712.7 517.0,711.2 520.0,711.0C523.0,710.8 525.4,711.7 528.0,712.5C530.6,713.3 532.2,713.8 535.5,716.0C538.8,718.2 543.8,722.6 548.0,726.0C552.2,729.4 557.0,733.9 561.0,736.5C565.0,739.1 568.6,740.5 572.0,741.5C575.4,742.5 578.5,743.1 581.5,742.8C584.5,742.5 587.0,741.0 590.0,739.5C593.0,738.0 596.4,735.6 599.4,734.0C602.4,732.4 605.1,730.7 608.0,729.8C610.9,728.9 613.8,728.9 617.0,728.6C620.2,728.3 623.5,727.9 627.0,728.0C630.5,728.1 634.5,728.4 637.7,729.2C640.9,730.0 643.5,731.3 646.0,733.0C648.5,734.7 651.0,737.6 653.0,739.5C655.0,741.4 656.3,742.9 658.0,744.5C659.7,746.1 661.3,747.8 663.0,749.0C664.7,750.2 666.5,751.3 668.0,752.0C669.5,752.7 671.3,753.0 672.0,753.2" fill="none" stroke="#000" stroke-width="5.3" stroke-linejoin="round"/>
</g>
<g stroke="#000" stroke-width="1.4" fill="none">
<path d="M94.5,43.5 V821.4 H672.0"/>
<path d="M94.5,213.9 H672.0"/>
<path d="M672.0,821.4 v12.4"/>
<path d="M672.0,213.9 v11.5"/>
<path d="M584.5,821.4 v12.4"/>
<path d="M584.5,213.9 v11.5"/>
<path d="M497.0,821.4 v12.4"/>
<path d="M497.0,213.9 v11.5"/>
<path d="M409.5,821.4 v12.4"/>
<path d="M409.5,213.9 v11.5"/>
<path d="M322.0,821.4 v12.4"/>
<path d="M322.0,213.9 v11.5"/>
<path d="M234.5,821.4 v12.4"/>
<path d="M234.5,213.9 v11.5"/>
<path d="M147.0,821.4 v12.4"/>
<path d="M147.0,213.9 v11.5"/>
<path d="M94.5,821.4 h-12.5"/><path d="M672.0,821.4 h13"/>
<path d="M94.5,797.1 h-5.5"/><path d="M672.0,797.1 h6"/>
<path d="M94.5,772.8 h-5.5"/><path d="M672.0,772.8 h6"/>
<path d="M94.5,748.5 h-5.5"/><path d="M672.0,748.5 h6"/>
<path d="M94.5,724.2 h-5.5"/><path d="M672.0,724.2 h6"/>
<path d="M94.5,699.9 h-12.5"/><path d="M672.0,699.9 h13"/>
<path d="M94.5,675.6 h-5.5"/><path d="M672.0,675.6 h6"/>
<path d="M94.5,651.3 h-5.5"/><path d="M672.0,651.3 h6"/>
<path d="M94.5,627.0 h-5.5"/><path d="M672.0,627.0 h6"/>
<path d="M94.5,602.7 h-5.5"/><path d="M672.0,602.7 h6"/>
<path d="M94.5,578.4 h-12.5"/><path d="M672.0,578.4 h13"/>
<path d="M94.5,554.1 h-5.5"/><path d="M672.0,554.1 h6"/>
<path d="M94.5,529.8 h-5.5"/><path d="M672.0,529.8 h6"/>
<path d="M94.5,505.5 h-5.5"/><path d="M672.0,505.5 h6"/>
<path d="M94.5,481.2 h-5.5"/><path d="M672.0,481.2 h6"/>
<path d="M94.5,456.9 h-12.5"/><path d="M672.0,456.9 h13"/>
<path d="M94.5,432.6 h-5.5"/><path d="M672.0,432.6 h6"/>
<path d="M94.5,408.3 h-5.5"/><path d="M672.0,408.3 h6"/>
<path d="M94.5,384.0 h-5.5"/><path d="M672.0,384.0 h6"/>
<path d="M94.5,359.7 h-5.5"/><path d="M672.0,359.7 h6"/>
<path d="M94.5,335.4 h-12.5"/><path d="M672.0,335.4 h13"/>
<path d="M94.5,311.1 h-5.5"/><path d="M672.0,311.1 h6"/>
<path d="M94.5,286.8 h-5.5"/><path d="M672.0,286.8 h6"/>
<path d="M94.5,262.5 h-5.5"/><path d="M672.0,262.5 h6"/>
<path d="M94.5,238.2 h-5.5"/><path d="M672.0,238.2 h6"/>
<path d="M94.5,213.9 h-12.5"/><path d="M672.0,213.9 h13"/>
</g>
<g font-size="19.5" text-anchor="end" fill="#1a1a1a">
<text x="71" y="828.4">0</text>
<text x="71" y="706.9">500</text>
<text x="71" y="585.4">1000</text>
<text x="71" y="463.9">1500</text>
<text x="71" y="342.4">2000</text>
<text x="71" y="220.9">2500</text>
</g>
<g font-size="19.5" text-anchor="middle" fill="#1a1a1a">
<text x="672.0" y="864.6">0</text>
<text x="584.5" y="864.6">10</text>
<text x="497.0" y="864.6">20</text>
<text x="409.5" y="864.6">30</text>
<text x="322.0" y="864.6">40</text>
<text x="234.5" y="864.6">50</text>
<text x="147.0" y="864.6">60</text>
</g>
<text x="383.5" y="892.6" font-size="22.7" text-anchor="middle" fill="#1a1a1a">Time (millions of years ago)</text>
<text transform="translate(17.8,517) rotate(-90)" font-size="22.7" text-anchor="middle" fill="#1a1a1a">CO<tspan font-size="16.5" dy="4.5">2</tspan><tspan dy="-4.5"> (ppm)</tspan></text>
<rect x="470.6" y="234.3" width="185.2" height="137.3" fill="#fff" stroke="#000" stroke-width="1.4"/>
<path d="M475,249.3H508" stroke="#e8262a" stroke-width="2"/>
<text x="524" y="255.9" font-size="18" fill="#1a1a1a">stomata</text>
<path d="M475,270.7H508" stroke="#b9bcbc" stroke-width="2"/>
<text x="524" y="277.3" font-size="18" fill="#1a1a1a">paleosols</text>
<path d="M475,292.0H508" stroke="#dede3a" stroke-width="2"/>
<text x="524" y="298.6" font-size="18" fill="#1a1a1a">liverworts</text>
<path d="M475,313.2H508" stroke="#4472c4" stroke-width="2"/>
<text x="524" y="319.8" font-size="18" fill="#1a1a1a">boron</text>
<path d="M475,334.5H508" stroke="#f4a460" stroke-width="2"/>
<text x="524" y="341.1" font-size="18" fill="#1a1a1a">phytoplankton</text>
<path d="M475,355.7H508" stroke="#000" stroke-width="2"/>
<text x="524" y="362.3" font-size="18" fill="#1a1a1a">nahcolite−trona</text>
<rect x="486.40000000000003" y="243.9" width="10.8" height="10.8" fill="#ec2a2e" stroke="#000" stroke-width="1.7"/>
<circle cx="491.8" cy="270.7" r="5.8" fill="#b4b9b9" stroke="#111" stroke-width="1.1"/>
<path d="M485.40000000000003,296.6h12.8l-6.4,-10.6z" fill="#e9e632" stroke="#000" stroke-width="1.2"/>
<path d="M485.2,308.4h13.2l-6.6,10.8z" fill="#4a7ac6" stroke="#0a0a14" stroke-width="1.2"/>
<path d="M491.8,327.5l7,7l-7,7l-7,-7z" fill="#f59c4e" stroke="#000" stroke-width="1.5"/>
<rect x="485.6" y="349.5" width="12.4" height="12.4" fill="#000"/>
</svg>
</body></html>
